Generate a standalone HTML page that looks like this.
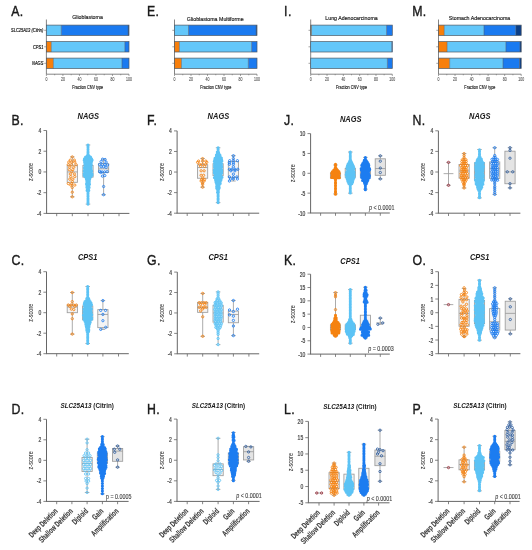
<!DOCTYPE html>
<html><head><meta charset="utf-8"><style>
html,body{margin:0;padding:0;background:#fff;}
svg{display:block;font-family:"Liberation Sans", sans-serif;filter:blur(0.3px);}
</style></head><body>
<svg width="532" height="550" viewBox="0 0 532 550">
<rect width="532" height="550" fill="#fff"/>
<text transform="translate(11.2,16.23) scale(0.8,1)" font-size="15.4" fill="#1a1a1a" stroke="#1a1a1a" stroke-width="0.42" letter-spacing="0.5">A.</text>
<text transform="translate(87.5,19.3) scale(0.85,1)" font-size="6.2" text-anchor="middle" fill="#1a1a1a" stroke="#1a1a1a" stroke-width="0.18">Glioblastoma</text>
<path d="M46.4 19.5L46.4 74.2" stroke="#666" stroke-width="0.8"/>
<path d="M46.4 74.2L129 74.2" stroke="#666" stroke-width="0.8"/>
<path d="M46.4 74.2L46.4 76" stroke="#666" stroke-width="0.6"/>
<path d="M54.66 74.2L54.66 75.3" stroke="#666" stroke-width="0.6"/>
<path d="M62.92 74.2L62.92 76" stroke="#666" stroke-width="0.6"/>
<path d="M71.18 74.2L71.18 75.3" stroke="#666" stroke-width="0.6"/>
<path d="M79.44 74.2L79.44 76" stroke="#666" stroke-width="0.6"/>
<path d="M87.7 74.2L87.7 75.3" stroke="#666" stroke-width="0.6"/>
<path d="M95.96 74.2L95.96 76" stroke="#666" stroke-width="0.6"/>
<path d="M104.22 74.2L104.22 75.3" stroke="#666" stroke-width="0.6"/>
<path d="M112.48 74.2L112.48 76" stroke="#666" stroke-width="0.6"/>
<path d="M120.74 74.2L120.74 75.3" stroke="#666" stroke-width="0.6"/>
<path d="M129 74.2L129 76" stroke="#666" stroke-width="0.6"/>
<text transform="translate(46.4,81.3) scale(0.72,1)" font-size="4.9" text-anchor="middle" fill="#555" stroke="#555" stroke-width="0.1">0</text>
<text transform="translate(62.92,81.3) scale(0.72,1)" font-size="4.9" text-anchor="middle" fill="#555" stroke="#555" stroke-width="0.1">20</text>
<text transform="translate(79.44,81.3) scale(0.72,1)" font-size="4.9" text-anchor="middle" fill="#555" stroke="#555" stroke-width="0.1">40</text>
<text transform="translate(95.96,81.3) scale(0.72,1)" font-size="4.9" text-anchor="middle" fill="#555" stroke="#555" stroke-width="0.1">60</text>
<text transform="translate(112.48,81.3) scale(0.72,1)" font-size="4.9" text-anchor="middle" fill="#555" stroke="#555" stroke-width="0.1">80</text>
<text transform="translate(129,81.3) scale(0.72,1)" font-size="4.9" text-anchor="middle" fill="#555" stroke="#555" stroke-width="0.1">100</text>
<text transform="translate(87.7,88.6) scale(0.76,1)" font-size="5.0" text-anchor="middle" fill="#1a1a1a" stroke="#1a1a1a" stroke-width="0.15">Fraction CNV type</text>
<path d="M44.2 30.3L46.4 30.3" stroke="#666" stroke-width="0.6"/>
<path d="M44.2 46.8L46.4 46.8" stroke="#666" stroke-width="0.6"/>
<path d="M44.2 63.3L46.4 63.3" stroke="#666" stroke-width="0.6"/>
<rect x="46.4" y="25.1" width="14.87" height="10.4" fill="#63c7fa"/>
<rect x="61.27" y="25.1" width="66.91" height="10.4" fill="#1a7af0"/>
<rect x="128.17" y="25.1" width="0.83" height="10.4" fill="#0b3e86"/>
<rect x="46.4" y="25.1" width="82.6" height="10.4" fill="none" stroke="#4f5a66" stroke-width="0.7"/>
<path d="M61.27 25.1L61.27 35.5" stroke="#4f5a66" stroke-width="0.5"/>
<path d="M128.17 25.1L128.17 35.5" stroke="#4f5a66" stroke-width="0.5"/>
<rect x="46.4" y="41.6" width="4.96" height="10.4" fill="#f77f0c"/>
<rect x="51.36" y="41.6" width="73.51" height="10.4" fill="#63c7fa"/>
<rect x="124.87" y="41.6" width="4.13" height="10.4" fill="#1a7af0"/>
<rect x="46.4" y="41.6" width="82.6" height="10.4" fill="none" stroke="#4f5a66" stroke-width="0.7"/>
<path d="M51.36 41.6L51.36 52" stroke="#4f5a66" stroke-width="0.5"/>
<path d="M124.87 41.6L124.87 52" stroke="#4f5a66" stroke-width="0.5"/>
<rect x="46.4" y="58.1" width="7.02" height="10.4" fill="#f77f0c"/>
<rect x="53.42" y="58.1" width="68.56" height="10.4" fill="#63c7fa"/>
<rect x="121.98" y="58.1" width="7.02" height="10.4" fill="#1a7af0"/>
<rect x="46.4" y="58.1" width="82.6" height="10.4" fill="none" stroke="#4f5a66" stroke-width="0.7"/>
<path d="M53.42 58.1L53.42 68.5" stroke="#4f5a66" stroke-width="0.5"/>
<path d="M121.98 58.1L121.98 68.5" stroke="#4f5a66" stroke-width="0.5"/>
<text transform="translate(43.4,32.05) scale(0.8,1)" font-size="5.0" text-anchor="end" font-style="italic" fill="#222" stroke="#222" stroke-width="0.2">SLC25A13 (Citrin)</text>
<text transform="translate(43.4,48.55) scale(0.8,1)" font-size="5.0" text-anchor="end" font-style="italic" fill="#222" stroke="#222" stroke-width="0.2">CPS1</text>
<text transform="translate(43.4,65.05) scale(0.8,1)" font-size="5.0" text-anchor="end" font-style="italic" fill="#222" stroke="#222" stroke-width="0.2">NAGS</text>
<text transform="translate(146.9,16.23) scale(0.8,1)" font-size="15.4" fill="#1a1a1a" stroke="#1a1a1a" stroke-width="0.42" letter-spacing="0.5">E.</text>
<text transform="translate(215.2,20.7) scale(0.85,1)" font-size="6.2" text-anchor="middle" fill="#1a1a1a" stroke="#1a1a1a" stroke-width="0.18">Glioblastoma Multiforme</text>
<path d="M174.5 19.5L174.5 74.2" stroke="#666" stroke-width="0.8"/>
<path d="M174.5 74.2L257 74.2" stroke="#666" stroke-width="0.8"/>
<path d="M174.5 74.2L174.5 76" stroke="#666" stroke-width="0.6"/>
<path d="M182.75 74.2L182.75 75.3" stroke="#666" stroke-width="0.6"/>
<path d="M191 74.2L191 76" stroke="#666" stroke-width="0.6"/>
<path d="M199.25 74.2L199.25 75.3" stroke="#666" stroke-width="0.6"/>
<path d="M207.5 74.2L207.5 76" stroke="#666" stroke-width="0.6"/>
<path d="M215.75 74.2L215.75 75.3" stroke="#666" stroke-width="0.6"/>
<path d="M224 74.2L224 76" stroke="#666" stroke-width="0.6"/>
<path d="M232.25 74.2L232.25 75.3" stroke="#666" stroke-width="0.6"/>
<path d="M240.5 74.2L240.5 76" stroke="#666" stroke-width="0.6"/>
<path d="M248.75 74.2L248.75 75.3" stroke="#666" stroke-width="0.6"/>
<path d="M257 74.2L257 76" stroke="#666" stroke-width="0.6"/>
<text transform="translate(174.5,81.3) scale(0.72,1)" font-size="4.9" text-anchor="middle" fill="#555" stroke="#555" stroke-width="0.1">0</text>
<text transform="translate(191,81.3) scale(0.72,1)" font-size="4.9" text-anchor="middle" fill="#555" stroke="#555" stroke-width="0.1">20</text>
<text transform="translate(207.5,81.3) scale(0.72,1)" font-size="4.9" text-anchor="middle" fill="#555" stroke="#555" stroke-width="0.1">40</text>
<text transform="translate(224,81.3) scale(0.72,1)" font-size="4.9" text-anchor="middle" fill="#555" stroke="#555" stroke-width="0.1">60</text>
<text transform="translate(240.5,81.3) scale(0.72,1)" font-size="4.9" text-anchor="middle" fill="#555" stroke="#555" stroke-width="0.1">80</text>
<text transform="translate(257,81.3) scale(0.72,1)" font-size="4.9" text-anchor="middle" fill="#555" stroke="#555" stroke-width="0.1">100</text>
<text transform="translate(215.75,88.6) scale(0.76,1)" font-size="5.0" text-anchor="middle" fill="#1a1a1a" stroke="#1a1a1a" stroke-width="0.15">Fraction CNV type</text>
<path d="M172.3 30.3L174.5 30.3" stroke="#666" stroke-width="0.6"/>
<path d="M172.3 46.8L174.5 46.8" stroke="#666" stroke-width="0.6"/>
<path d="M172.3 63.3L174.5 63.3" stroke="#666" stroke-width="0.6"/>
<rect x="174.5" y="25.1" width="14.02" height="10.4" fill="#63c7fa"/>
<rect x="188.53" y="25.1" width="67.65" height="10.4" fill="#1a7af0"/>
<rect x="256.18" y="25.1" width="0.82" height="10.4" fill="#0b3e86"/>
<rect x="174.5" y="25.1" width="82.5" height="10.4" fill="none" stroke="#4f5a66" stroke-width="0.7"/>
<path d="M188.53 25.1L188.53 35.5" stroke="#4f5a66" stroke-width="0.5"/>
<path d="M256.18 25.1L256.18 35.5" stroke="#4f5a66" stroke-width="0.5"/>
<rect x="174.5" y="41.6" width="4.95" height="10.4" fill="#f77f0c"/>
<rect x="179.45" y="41.6" width="72.19" height="10.4" fill="#63c7fa"/>
<rect x="251.64" y="41.6" width="5.36" height="10.4" fill="#1a7af0"/>
<rect x="174.5" y="41.6" width="82.5" height="10.4" fill="none" stroke="#4f5a66" stroke-width="0.7"/>
<path d="M179.45 41.6L179.45 52" stroke="#4f5a66" stroke-width="0.5"/>
<path d="M251.64 41.6L251.64 52" stroke="#4f5a66" stroke-width="0.5"/>
<rect x="174.5" y="58.1" width="7.01" height="10.4" fill="#f77f0c"/>
<rect x="181.51" y="58.1" width="66.83" height="10.4" fill="#63c7fa"/>
<rect x="248.34" y="58.1" width="8.66" height="10.4" fill="#1a7af0"/>
<rect x="174.5" y="58.1" width="82.5" height="10.4" fill="none" stroke="#4f5a66" stroke-width="0.7"/>
<path d="M181.51 58.1L181.51 68.5" stroke="#4f5a66" stroke-width="0.5"/>
<path d="M248.34 58.1L248.34 68.5" stroke="#4f5a66" stroke-width="0.5"/>
<text transform="translate(284.1,16.23) scale(0.8,1)" font-size="15.4" fill="#1a1a1a" stroke="#1a1a1a" stroke-width="0.42" letter-spacing="0.5">I.</text>
<text transform="translate(351.5,20.4) scale(0.85,1)" font-size="6.2" text-anchor="middle" fill="#1a1a1a" stroke="#1a1a1a" stroke-width="0.18">Lung Adenocarcinoma</text>
<path d="M310.7 19.5L310.7 74.2" stroke="#666" stroke-width="0.8"/>
<path d="M310.7 74.2L392.3 74.2" stroke="#666" stroke-width="0.8"/>
<path d="M310.7 74.2L310.7 76" stroke="#666" stroke-width="0.6"/>
<path d="M318.86 74.2L318.86 75.3" stroke="#666" stroke-width="0.6"/>
<path d="M327.02 74.2L327.02 76" stroke="#666" stroke-width="0.6"/>
<path d="M335.18 74.2L335.18 75.3" stroke="#666" stroke-width="0.6"/>
<path d="M343.34 74.2L343.34 76" stroke="#666" stroke-width="0.6"/>
<path d="M351.5 74.2L351.5 75.3" stroke="#666" stroke-width="0.6"/>
<path d="M359.66 74.2L359.66 76" stroke="#666" stroke-width="0.6"/>
<path d="M367.82 74.2L367.82 75.3" stroke="#666" stroke-width="0.6"/>
<path d="M375.98 74.2L375.98 76" stroke="#666" stroke-width="0.6"/>
<path d="M384.14 74.2L384.14 75.3" stroke="#666" stroke-width="0.6"/>
<path d="M392.3 74.2L392.3 76" stroke="#666" stroke-width="0.6"/>
<text transform="translate(310.7,81.3) scale(0.72,1)" font-size="4.9" text-anchor="middle" fill="#555" stroke="#555" stroke-width="0.1">0</text>
<text transform="translate(327.02,81.3) scale(0.72,1)" font-size="4.9" text-anchor="middle" fill="#555" stroke="#555" stroke-width="0.1">20</text>
<text transform="translate(343.34,81.3) scale(0.72,1)" font-size="4.9" text-anchor="middle" fill="#555" stroke="#555" stroke-width="0.1">40</text>
<text transform="translate(359.66,81.3) scale(0.72,1)" font-size="4.9" text-anchor="middle" fill="#555" stroke="#555" stroke-width="0.1">60</text>
<text transform="translate(375.98,81.3) scale(0.72,1)" font-size="4.9" text-anchor="middle" fill="#555" stroke="#555" stroke-width="0.1">80</text>
<text transform="translate(392.3,81.3) scale(0.72,1)" font-size="4.9" text-anchor="middle" fill="#555" stroke="#555" stroke-width="0.1">100</text>
<text transform="translate(351.5,88.6) scale(0.76,1)" font-size="5.0" text-anchor="middle" fill="#1a1a1a" stroke="#1a1a1a" stroke-width="0.15">Fraction CNV type</text>
<path d="M308.5 30.3L310.7 30.3" stroke="#666" stroke-width="0.6"/>
<path d="M308.5 46.8L310.7 46.8" stroke="#666" stroke-width="0.6"/>
<path d="M308.5 63.3L310.7 63.3" stroke="#666" stroke-width="0.6"/>
<rect x="310.7" y="25.1" width="0.82" height="10.4" fill="#f77f0c"/>
<rect x="311.52" y="25.1" width="75.07" height="10.4" fill="#63c7fa"/>
<rect x="386.59" y="25.1" width="5.71" height="10.4" fill="#1a7af0"/>
<rect x="310.7" y="25.1" width="81.6" height="10.4" fill="none" stroke="#4f5a66" stroke-width="0.7"/>
<path d="M311.52 25.1L311.52 35.5" stroke="#4f5a66" stroke-width="0.5"/>
<path d="M386.59 25.1L386.59 35.5" stroke="#4f5a66" stroke-width="0.5"/>
<rect x="310.7" y="41.6" width="81.03" height="10.4" fill="#63c7fa"/>
<rect x="391.73" y="41.6" width="0.57" height="10.4" fill="#1a7af0"/>
<rect x="310.7" y="41.6" width="81.6" height="10.4" fill="none" stroke="#4f5a66" stroke-width="0.7"/>
<path d="M391.73 41.6L391.73 52" stroke="#4f5a66" stroke-width="0.5"/>
<rect x="310.7" y="58.1" width="76.7" height="10.4" fill="#63c7fa"/>
<rect x="387.4" y="58.1" width="4.9" height="10.4" fill="#1a7af0"/>
<rect x="310.7" y="58.1" width="81.6" height="10.4" fill="none" stroke="#4f5a66" stroke-width="0.7"/>
<path d="M387.4 58.1L387.4 68.5" stroke="#4f5a66" stroke-width="0.5"/>
<text transform="translate(412.2,16.23) scale(0.8,1)" font-size="15.4" fill="#1a1a1a" stroke="#1a1a1a" stroke-width="0.42" letter-spacing="0.5">M.</text>
<text transform="translate(479.5,20.3) scale(0.85,1)" font-size="6.2" text-anchor="middle" fill="#1a1a1a" stroke="#1a1a1a" stroke-width="0.18">Stomach Adenocarcinoma</text>
<path d="M438.5 19.5L438.5 74.2" stroke="#666" stroke-width="0.8"/>
<path d="M438.5 74.2L521.2 74.2" stroke="#666" stroke-width="0.8"/>
<path d="M438.5 74.2L438.5 76" stroke="#666" stroke-width="0.6"/>
<path d="M446.77 74.2L446.77 75.3" stroke="#666" stroke-width="0.6"/>
<path d="M455.04 74.2L455.04 76" stroke="#666" stroke-width="0.6"/>
<path d="M463.31 74.2L463.31 75.3" stroke="#666" stroke-width="0.6"/>
<path d="M471.58 74.2L471.58 76" stroke="#666" stroke-width="0.6"/>
<path d="M479.85 74.2L479.85 75.3" stroke="#666" stroke-width="0.6"/>
<path d="M488.12 74.2L488.12 76" stroke="#666" stroke-width="0.6"/>
<path d="M496.39 74.2L496.39 75.3" stroke="#666" stroke-width="0.6"/>
<path d="M504.66 74.2L504.66 76" stroke="#666" stroke-width="0.6"/>
<path d="M512.93 74.2L512.93 75.3" stroke="#666" stroke-width="0.6"/>
<path d="M521.2 74.2L521.2 76" stroke="#666" stroke-width="0.6"/>
<text transform="translate(438.5,81.3) scale(0.72,1)" font-size="4.9" text-anchor="middle" fill="#555" stroke="#555" stroke-width="0.1">0</text>
<text transform="translate(455.04,81.3) scale(0.72,1)" font-size="4.9" text-anchor="middle" fill="#555" stroke="#555" stroke-width="0.1">20</text>
<text transform="translate(471.58,81.3) scale(0.72,1)" font-size="4.9" text-anchor="middle" fill="#555" stroke="#555" stroke-width="0.1">40</text>
<text transform="translate(488.12,81.3) scale(0.72,1)" font-size="4.9" text-anchor="middle" fill="#555" stroke="#555" stroke-width="0.1">60</text>
<text transform="translate(504.66,81.3) scale(0.72,1)" font-size="4.9" text-anchor="middle" fill="#555" stroke="#555" stroke-width="0.1">80</text>
<text transform="translate(521.2,81.3) scale(0.72,1)" font-size="4.9" text-anchor="middle" fill="#555" stroke="#555" stroke-width="0.1">100</text>
<text transform="translate(479.85,88.6) scale(0.76,1)" font-size="5.0" text-anchor="middle" fill="#1a1a1a" stroke="#1a1a1a" stroke-width="0.15">Fraction CNV type</text>
<path d="M436.3 30.3L438.5 30.3" stroke="#666" stroke-width="0.6"/>
<path d="M436.3 46.8L438.5 46.8" stroke="#666" stroke-width="0.6"/>
<path d="M436.3 63.3L438.5 63.3" stroke="#666" stroke-width="0.6"/>
<rect x="438.5" y="25.1" width="5.79" height="10.4" fill="#f77f0c"/>
<rect x="444.29" y="25.1" width="39.7" height="10.4" fill="#63c7fa"/>
<rect x="483.99" y="25.1" width="31.84" height="10.4" fill="#1a7af0"/>
<rect x="515.82" y="25.1" width="5.38" height="10.4" fill="#0b3e86"/>
<rect x="438.5" y="25.1" width="82.7" height="10.4" fill="none" stroke="#4f5a66" stroke-width="0.7"/>
<path d="M444.29 25.1L444.29 35.5" stroke="#4f5a66" stroke-width="0.5"/>
<path d="M483.99 25.1L483.99 35.5" stroke="#4f5a66" stroke-width="0.5"/>
<path d="M515.82 25.1L515.82 35.5" stroke="#4f5a66" stroke-width="0.5"/>
<rect x="438.5" y="41.6" width="8.68" height="10.4" fill="#f77f0c"/>
<rect x="447.18" y="41.6" width="58.72" height="10.4" fill="#63c7fa"/>
<rect x="505.9" y="41.6" width="14.06" height="10.4" fill="#1a7af0"/>
<rect x="519.96" y="41.6" width="1.24" height="10.4" fill="#0b3e86"/>
<rect x="438.5" y="41.6" width="82.7" height="10.4" fill="none" stroke="#4f5a66" stroke-width="0.7"/>
<path d="M447.18 41.6L447.18 52" stroke="#4f5a66" stroke-width="0.5"/>
<path d="M505.9 41.6L505.9 52" stroke="#4f5a66" stroke-width="0.5"/>
<path d="M519.96 41.6L519.96 52" stroke="#4f5a66" stroke-width="0.5"/>
<rect x="438.5" y="58.1" width="11.16" height="10.4" fill="#f77f0c"/>
<rect x="449.66" y="58.1" width="53.34" height="10.4" fill="#63c7fa"/>
<rect x="503.01" y="58.1" width="16.54" height="10.4" fill="#1a7af0"/>
<rect x="519.55" y="58.1" width="1.65" height="10.4" fill="#0b3e86"/>
<rect x="438.5" y="58.1" width="82.7" height="10.4" fill="none" stroke="#4f5a66" stroke-width="0.7"/>
<path d="M449.66 58.1L449.66 68.5" stroke="#4f5a66" stroke-width="0.5"/>
<path d="M503.01 58.1L503.01 68.5" stroke="#4f5a66" stroke-width="0.5"/>
<path d="M519.55 58.1L519.55 68.5" stroke="#4f5a66" stroke-width="0.5"/>
<text transform="translate(11.4,125.33) scale(0.8,1)" font-size="15.4" fill="#1a1a1a" stroke="#1a1a1a" stroke-width="0.42" letter-spacing="0.5">B.</text>
<text transform="translate(88.3,118.6) scale(0.85,1)" font-size="8.8" text-anchor="middle" font-weight="bold" font-style="italic" fill="#1a1a1a">NAGS</text>
<path d="M46.6 130.5L46.6 213.4" stroke="#666" stroke-width="1.0"/>
<path d="M46.1 213.4L129.4 213.4" stroke="#666" stroke-width="1.0"/>
<path d="M43.5 130.5L46.6 130.5" stroke="#666" stroke-width="0.8"/>
<text transform="translate(41.4,133) scale(0.72,1)" font-size="7.0" text-anchor="end" fill="#444" stroke="#444" stroke-width="0.22">4</text>
<path d="M43.5 151.22L46.6 151.22" stroke="#666" stroke-width="0.8"/>
<text transform="translate(41.4,153.72) scale(0.72,1)" font-size="7.0" text-anchor="end" fill="#444" stroke="#444" stroke-width="0.22">2</text>
<path d="M43.5 171.95L46.6 171.95" stroke="#666" stroke-width="0.8"/>
<text transform="translate(41.4,174.45) scale(0.72,1)" font-size="7.0" text-anchor="end" fill="#444" stroke="#444" stroke-width="0.22">0</text>
<path d="M43.5 192.68L46.6 192.68" stroke="#666" stroke-width="0.8"/>
<text transform="translate(41.4,195.18) scale(0.72,1)" font-size="7.0" text-anchor="end" fill="#444" stroke="#444" stroke-width="0.22">-2</text>
<path d="M43.5 213.4L46.6 213.4" stroke="#666" stroke-width="0.8"/>
<text transform="translate(41.4,215.9) scale(0.72,1)" font-size="7.0" text-anchor="end" fill="#444" stroke="#444" stroke-width="0.22">-4</text>
<path d="M56.7 213.4L56.7 216.2" stroke="#666" stroke-width="0.8"/>
<path d="M72.3 213.4L72.3 216.2" stroke="#666" stroke-width="0.8"/>
<path d="M88 213.4L88 216.2" stroke="#666" stroke-width="0.8"/>
<path d="M103.6 213.4L103.6 216.2" stroke="#666" stroke-width="0.8"/>
<path d="M119 213.4L119 216.2" stroke="#666" stroke-width="0.8"/>
<text transform="translate(33.3,171.95) rotate(-90) scale(0.84,1)" font-size="6.6" text-anchor="middle" fill="#3a3a3a" stroke="#3a3a3a" stroke-width="0.08">z-score</text>
<rect x="67.2" y="165.21" width="10.2" height="17.1" fill="#f4f4f4" stroke="#9c9c9c" stroke-width="0.85"/>
<path d="M67.2 171.95L77.4 171.95" stroke="#9c9c9c" stroke-width="0.85"/>
<path d="M72.3 156.92L72.3 165.21" stroke="#9c9c9c" stroke-width="0.85"/>
<path d="M72.3 182.31L72.3 196.82" stroke="#9c9c9c" stroke-width="0.85"/>
<path d="M70 156.92L74.6 156.92" stroke="#9c9c9c" stroke-width="0.85"/>
<path d="M70 196.82L74.6 196.82" stroke="#9c9c9c" stroke-width="0.85"/>
<circle cx="72.3" cy="156.9" r="1.15" fill="none" stroke="#f5820f" stroke-width="0.85"/>
<circle cx="70.3" cy="160.1" r="1.15" fill="none" stroke="#f5820f" stroke-width="0.85"/>
<circle cx="74.3" cy="160.1" r="1.15" fill="none" stroke="#f5820f" stroke-width="0.85"/>
<circle cx="68.8" cy="162.1" r="1.15" fill="none" stroke="#f5820f" stroke-width="0.85"/>
<circle cx="71.8" cy="162.1" r="1.15" fill="none" stroke="#f5820f" stroke-width="0.85"/>
<circle cx="74.8" cy="162.1" r="1.15" fill="none" stroke="#f5820f" stroke-width="0.85"/>
<circle cx="68.3" cy="164.7" r="1.15" fill="none" stroke="#f5820f" stroke-width="0.85"/>
<circle cx="71.3" cy="164.7" r="1.15" fill="none" stroke="#f5820f" stroke-width="0.85"/>
<circle cx="76.1" cy="164.7" r="1.15" fill="none" stroke="#f5820f" stroke-width="0.85"/>
<circle cx="69.8" cy="167.2" r="1.15" fill="none" stroke="#f5820f" stroke-width="0.85"/>
<circle cx="73.8" cy="167.2" r="1.15" fill="none" stroke="#f5820f" stroke-width="0.85"/>
<circle cx="69.3" cy="169.7" r="1.15" fill="none" stroke="#f5820f" stroke-width="0.85"/>
<circle cx="72.8" cy="169.7" r="1.15" fill="none" stroke="#f5820f" stroke-width="0.85"/>
<circle cx="71.8" cy="171.6" r="1.15" fill="none" stroke="#f5820f" stroke-width="0.85"/>
<circle cx="70.3" cy="174.0" r="1.15" fill="none" stroke="#f5820f" stroke-width="0.85"/>
<circle cx="74.3" cy="174.0" r="1.15" fill="none" stroke="#f5820f" stroke-width="0.85"/>
<circle cx="70.8" cy="176.6" r="1.15" fill="none" stroke="#f5820f" stroke-width="0.85"/>
<circle cx="74.8" cy="176.6" r="1.15" fill="none" stroke="#f5820f" stroke-width="0.85"/>
<circle cx="69.8" cy="179.2" r="1.15" fill="none" stroke="#f5820f" stroke-width="0.85"/>
<circle cx="72.8" cy="179.2" r="1.15" fill="none" stroke="#f5820f" stroke-width="0.85"/>
<circle cx="72.3" cy="181.6" r="1.15" fill="none" stroke="#f5820f" stroke-width="0.85"/>
<circle cx="68.3" cy="183.6" r="1.15" fill="none" stroke="#f5820f" stroke-width="0.85"/>
<circle cx="71.8" cy="183.6" r="1.15" fill="none" stroke="#f5820f" stroke-width="0.85"/>
<circle cx="70.8" cy="185.1" r="1.15" fill="none" stroke="#f5820f" stroke-width="0.85"/>
<circle cx="74.8" cy="185.1" r="1.15" fill="none" stroke="#f5820f" stroke-width="0.85"/>
<circle cx="72.3" cy="187.5" r="1.15" fill="none" stroke="#f5820f" stroke-width="0.85"/>
<circle cx="72.3" cy="192.2" r="1.15" fill="none" stroke="#f5820f" stroke-width="0.85"/>
<circle cx="72.3" cy="196.8" r="1.15" fill="none" stroke="#f5820f" stroke-width="0.85"/>
<rect x="82.9" y="165.42" width="10.2" height="11.71" fill="#f4f4f4" stroke="#9c9c9c" stroke-width="0.85"/>
<path d="M82.9 171.43L93.1 171.43" stroke="#9c9c9c" stroke-width="0.85"/>
<path d="M88 145.01L88 165.42" stroke="#9c9c9c" stroke-width="0.85"/>
<path d="M88 177.13L88 204.07" stroke="#9c9c9c" stroke-width="0.85"/>
<path d="M85.7 145.01L90.3 145.01" stroke="#9c9c9c" stroke-width="0.85"/>
<path d="M85.7 204.07L90.3 204.07" stroke="#9c9c9c" stroke-width="0.85"/>
<path d="M88.0 145.0h0M88.0 146.7h0M88.0 147.8h0M88.0 149.7h0M88.0 151.0h0M88.0 152.6h0M88.0 153.9h0M87.5 155.6h0M88.9 155.9h0M85.6 157.1h0M87.0 156.9h0M88.7 157.1h0M90.5 157.1h0M84.5 158.7h0M85.9 158.4h0M87.3 158.5h0M88.8 158.9h0M90.2 158.5h0M91.5 158.8h0M84.2 160.3h0M85.9 160.1h0M87.0 160.4h0M88.9 160.3h0M90.4 160.1h0M92.1 160.1h0M84.5 161.8h0M86.1 161.9h0M87.3 161.6h0M88.8 161.9h0M89.9 161.7h0M91.6 161.6h0M84.8 163.4h0M86.4 163.4h0M88.1 163.4h0M89.5 163.2h0M91.1 163.3h0M84.8 164.6h0M86.4 164.9h0M88.2 164.5h0M89.8 164.8h0M91.3 164.5h0M85.0 166.3h0M86.7 166.1h0M88.0 166.0h0M89.3 166.4h0M91.1 166.1h0M84.4 167.8h0M86.2 167.7h0M87.8 167.8h0M89.4 168.0h0M91.1 167.8h0M84.7 169.4h0M86.5 169.1h0M87.8 169.2h0M89.4 169.5h0M91.1 169.0h0M84.2 170.9h0M85.6 170.7h0M87.4 170.7h0M88.9 170.9h0M90.3 170.9h0M91.6 170.9h0M84.8 172.3h0M86.4 172.1h0M87.8 172.5h0M89.5 172.3h0M90.9 172.3h0M84.1 173.7h0M85.4 173.7h0M87.0 173.8h0M88.6 173.6h0M90.2 173.6h0M92.0 173.9h0M84.2 175.5h0M85.6 175.2h0M87.2 175.2h0M89.0 175.4h0M90.3 175.4h0M92.0 175.3h0M85.1 176.6h0M86.7 176.6h0M87.8 176.7h0M89.3 176.7h0M90.9 176.7h0M86.2 178.2h0M87.6 178.2h0M88.7 178.6h0M89.9 178.3h0M86.5 179.6h0M87.8 179.9h0M89.6 179.6h0M86.9 181.4h0M87.9 181.4h0M89.3 181.6h0M86.8 183.0h0M89.2 182.8h0M86.5 184.1h0M88.0 184.3h0M89.5 184.2h0M87.0 185.8h0M88.8 186.1h0M86.9 187.3h0M88.0 187.4h0M89.1 187.5h0M87.3 188.7h0M88.6 189.1h0M87.1 190.5h0M88.8 190.5h0M88.0 192.0h0M88.0 193.5h0M88.0 194.9h0M88.0 196.5h0M88.0 198.2h0M88.0 199.7h0M88.0 200.9h0M88.0 202.4h0M88.0 204.1h0" stroke="#5cc3f5" stroke-width="3.1" stroke-linecap="round"/>
<rect x="98.5" y="163.76" width="10.2" height="8.7" fill="#f4f4f4" stroke="#9c9c9c" stroke-width="0.85"/>
<path d="M98.5 168.84L108.7 168.84" stroke="#9c9c9c" stroke-width="0.85"/>
<path d="M103.6 159.2L103.6 163.76" stroke="#9c9c9c" stroke-width="0.85"/>
<path d="M103.6 172.47L103.6 194.75" stroke="#9c9c9c" stroke-width="0.85"/>
<path d="M101.3 159.2L105.9 159.2" stroke="#9c9c9c" stroke-width="0.85"/>
<path d="M101.3 194.75L105.9 194.75" stroke="#9c9c9c" stroke-width="0.85"/>
<circle cx="102.6" cy="159.2" r="1.15" fill="none" stroke="#1c7cf0" stroke-width="0.85"/>
<circle cx="105.1" cy="159.5" r="1.15" fill="none" stroke="#1c7cf0" stroke-width="0.85"/>
<circle cx="101.1" cy="161.6" r="1.15" fill="none" stroke="#1c7cf0" stroke-width="0.85"/>
<circle cx="106.1" cy="162.1" r="1.15" fill="none" stroke="#1c7cf0" stroke-width="0.85"/>
<circle cx="99.6" cy="164.5" r="1.15" fill="none" stroke="#1c7cf0" stroke-width="0.85"/>
<circle cx="102.3" cy="164.5" r="1.15" fill="none" stroke="#1c7cf0" stroke-width="0.85"/>
<circle cx="104.9" cy="164.5" r="1.15" fill="none" stroke="#1c7cf0" stroke-width="0.85"/>
<circle cx="107.6" cy="164.9" r="1.15" fill="none" stroke="#1c7cf0" stroke-width="0.85"/>
<circle cx="101.1" cy="166.8" r="1.15" fill="none" stroke="#1c7cf0" stroke-width="0.85"/>
<circle cx="103.6" cy="166.8" r="1.15" fill="none" stroke="#1c7cf0" stroke-width="0.85"/>
<circle cx="106.1" cy="167.3" r="1.15" fill="none" stroke="#1c7cf0" stroke-width="0.85"/>
<circle cx="99.6" cy="171.4" r="1.15" fill="none" stroke="#1c7cf0" stroke-width="0.85"/>
<circle cx="102.1" cy="171.9" r="1.15" fill="none" stroke="#1c7cf0" stroke-width="0.85"/>
<circle cx="104.6" cy="171.9" r="1.15" fill="none" stroke="#1c7cf0" stroke-width="0.85"/>
<circle cx="107.1" cy="171.7" r="1.15" fill="none" stroke="#1c7cf0" stroke-width="0.85"/>
<circle cx="100.6" cy="172.5" r="1.15" fill="none" stroke="#1c7cf0" stroke-width="0.85"/>
<circle cx="102.4" cy="176.1" r="1.15" fill="none" stroke="#1c7cf0" stroke-width="0.85"/>
<circle cx="104.8" cy="175.6" r="1.15" fill="none" stroke="#1c7cf0" stroke-width="0.85"/>
<circle cx="103.6" cy="186.5" r="1.15" fill="none" stroke="#1c7cf0" stroke-width="0.85"/>
<circle cx="103.6" cy="194.7" r="1.15" fill="none" stroke="#1c7cf0" stroke-width="0.85"/>
<text transform="translate(146.9,125.33) scale(0.8,1)" font-size="15.4" fill="#1a1a1a" stroke="#1a1a1a" stroke-width="0.42" letter-spacing="0.5">F.</text>
<text transform="translate(218.4,119.3) scale(0.85,1)" font-size="8.8" text-anchor="middle" font-weight="bold" font-style="italic" fill="#1a1a1a">NAGS</text>
<path d="M177.1 130.9L177.1 213.2" stroke="#666" stroke-width="1.0"/>
<path d="M176.6 213.2L259.2 213.2" stroke="#666" stroke-width="1.0"/>
<path d="M174 130.9L177.1 130.9" stroke="#666" stroke-width="0.8"/>
<text transform="translate(171.9,133.4) scale(0.72,1)" font-size="7.0" text-anchor="end" fill="#444" stroke="#444" stroke-width="0.22">4</text>
<path d="M174 151.47L177.1 151.47" stroke="#666" stroke-width="0.8"/>
<text transform="translate(171.9,153.97) scale(0.72,1)" font-size="7.0" text-anchor="end" fill="#444" stroke="#444" stroke-width="0.22">2</text>
<path d="M174 172.05L177.1 172.05" stroke="#666" stroke-width="0.8"/>
<text transform="translate(171.9,174.55) scale(0.72,1)" font-size="7.0" text-anchor="end" fill="#444" stroke="#444" stroke-width="0.22">0</text>
<path d="M174 192.62L177.1 192.62" stroke="#666" stroke-width="0.8"/>
<text transform="translate(171.9,195.12) scale(0.72,1)" font-size="7.0" text-anchor="end" fill="#444" stroke="#444" stroke-width="0.22">-2</text>
<path d="M174 213.2L177.1 213.2" stroke="#666" stroke-width="0.8"/>
<text transform="translate(171.9,215.7) scale(0.72,1)" font-size="7.0" text-anchor="end" fill="#444" stroke="#444" stroke-width="0.22">-4</text>
<path d="M187.2 213.2L187.2 216" stroke="#666" stroke-width="0.8"/>
<path d="M202.6 213.2L202.6 216" stroke="#666" stroke-width="0.8"/>
<path d="M218.1 213.2L218.1 216" stroke="#666" stroke-width="0.8"/>
<path d="M233.4 213.2L233.4 216" stroke="#666" stroke-width="0.8"/>
<path d="M248.9 213.2L248.9 216" stroke="#666" stroke-width="0.8"/>
<text transform="translate(163.8,172.05) rotate(-90) scale(0.84,1)" font-size="6.6" text-anchor="middle" fill="#3a3a3a" stroke="#3a3a3a" stroke-width="0.08">z-score</text>
<rect x="197.5" y="164.75" width="10.2" height="13.48" fill="#f4f4f4" stroke="#9c9c9c" stroke-width="0.85"/>
<path d="M197.5 167.52L207.7 167.52" stroke="#9c9c9c" stroke-width="0.85"/>
<path d="M202.6 158.57L202.6 164.75" stroke="#9c9c9c" stroke-width="0.85"/>
<path d="M202.6 178.22L202.6 187.17" stroke="#9c9c9c" stroke-width="0.85"/>
<path d="M200.3 158.57L204.9 158.57" stroke="#9c9c9c" stroke-width="0.85"/>
<path d="M200.3 187.17L204.9 187.17" stroke="#9c9c9c" stroke-width="0.85"/>
<circle cx="202.6" cy="158.6" r="1.15" fill="none" stroke="#f5820f" stroke-width="0.85"/>
<circle cx="198.6" cy="161.1" r="1.15" fill="none" stroke="#f5820f" stroke-width="0.85"/>
<circle cx="202.6" cy="161.1" r="1.15" fill="none" stroke="#f5820f" stroke-width="0.85"/>
<circle cx="205.8" cy="161.1" r="1.15" fill="none" stroke="#f5820f" stroke-width="0.85"/>
<circle cx="197.6" cy="162.3" r="1.15" fill="none" stroke="#f5820f" stroke-width="0.85"/>
<circle cx="206.8" cy="162.3" r="1.15" fill="none" stroke="#f5820f" stroke-width="0.85"/>
<circle cx="199.6" cy="164.3" r="1.15" fill="none" stroke="#f5820f" stroke-width="0.85"/>
<circle cx="202.6" cy="164.3" r="1.15" fill="none" stroke="#f5820f" stroke-width="0.85"/>
<circle cx="205.6" cy="164.3" r="1.15" fill="none" stroke="#f5820f" stroke-width="0.85"/>
<circle cx="200.6" cy="166.4" r="1.15" fill="none" stroke="#f5820f" stroke-width="0.85"/>
<circle cx="204.6" cy="166.4" r="1.15" fill="none" stroke="#f5820f" stroke-width="0.85"/>
<circle cx="201.1" cy="170.8" r="1.15" fill="none" stroke="#f5820f" stroke-width="0.85"/>
<circle cx="204.1" cy="170.8" r="1.15" fill="none" stroke="#f5820f" stroke-width="0.85"/>
<circle cx="201.1" cy="175.3" r="1.15" fill="none" stroke="#f5820f" stroke-width="0.85"/>
<circle cx="203.6" cy="175.3" r="1.15" fill="none" stroke="#f5820f" stroke-width="0.85"/>
<circle cx="202.6" cy="178.2" r="1.15" fill="none" stroke="#f5820f" stroke-width="0.85"/>
<circle cx="201.6" cy="179.5" r="1.15" fill="none" stroke="#f5820f" stroke-width="0.85"/>
<circle cx="204.6" cy="179.5" r="1.15" fill="none" stroke="#f5820f" stroke-width="0.85"/>
<circle cx="201.1" cy="181.0" r="1.15" fill="none" stroke="#f5820f" stroke-width="0.85"/>
<circle cx="204.1" cy="181.0" r="1.15" fill="none" stroke="#f5820f" stroke-width="0.85"/>
<circle cx="202.6" cy="183.1" r="1.15" fill="none" stroke="#f5820f" stroke-width="0.85"/>
<circle cx="202.6" cy="184.4" r="1.15" fill="none" stroke="#f5820f" stroke-width="0.85"/>
<circle cx="202.6" cy="187.2" r="1.15" fill="none" stroke="#f5820f" stroke-width="0.85"/>
<rect x="213" y="163.72" width="10.2" height="11.93" fill="#f4f4f4" stroke="#9c9c9c" stroke-width="0.85"/>
<path d="M213 171.02L223.2 171.02" stroke="#9c9c9c" stroke-width="0.85"/>
<path d="M218.1 147.77L218.1 163.72" stroke="#9c9c9c" stroke-width="0.85"/>
<path d="M218.1 175.65L218.1 202.6" stroke="#9c9c9c" stroke-width="0.85"/>
<path d="M215.8 147.77L220.4 147.77" stroke="#9c9c9c" stroke-width="0.85"/>
<path d="M215.8 202.6L220.4 202.6" stroke="#9c9c9c" stroke-width="0.85"/>
<path d="M218.1 147.8h0M218.1 149.3h0M218.1 150.8h0M217.3 152.0h0M218.5 152.4h0M217.2 153.9h0M219.0 153.9h0M216.4 155.0h0M218.1 155.4h0M220.0 155.3h0M216.3 156.8h0M217.2 156.6h0M218.7 156.8h0M220.2 156.8h0M215.0 158.4h0M216.5 158.3h0M218.3 158.4h0M219.4 157.9h0M221.4 158.0h0M214.8 159.7h0M216.4 159.6h0M218.1 159.6h0M219.9 159.7h0M221.6 159.7h0M214.3 161.4h0M216.0 160.9h0M217.5 161.3h0M219.0 161.1h0M220.6 161.0h0M221.9 161.1h0M215.4 162.8h0M216.8 162.4h0M217.9 162.5h0M219.7 162.5h0M220.8 162.8h0M214.6 163.8h0M216.1 164.0h0M217.4 164.3h0M218.7 164.3h0M220.3 163.9h0M221.5 163.8h0M214.6 165.6h0M216.6 165.3h0M218.3 165.5h0M219.7 165.8h0M221.4 165.5h0M214.5 167.1h0M216.1 167.1h0M217.3 167.0h0M218.7 167.1h0M220.5 166.9h0M221.7 167.0h0M215.3 168.5h0M216.7 168.3h0M217.9 168.6h0M219.5 168.6h0M220.9 168.6h0M214.2 170.1h0M216.0 169.8h0M217.2 170.2h0M218.9 170.0h0M220.3 169.9h0M221.7 169.9h0M214.5 171.4h0M215.7 171.6h0M217.5 171.5h0M218.7 171.4h0M220.1 171.6h0M221.6 171.3h0M214.3 172.8h0M216.1 172.9h0M217.5 172.9h0M218.8 172.8h0M220.5 173.0h0M221.7 172.9h0M215.0 174.5h0M216.8 174.6h0M218.0 174.3h0M219.7 174.6h0M221.0 174.6h0M215.2 175.8h0M216.5 175.8h0M218.1 175.9h0M219.8 175.9h0M220.9 175.8h0M214.4 177.6h0M215.9 177.4h0M217.2 177.6h0M219.1 177.5h0M220.5 177.5h0M222.0 177.3h0M215.4 178.7h0M216.9 178.8h0M218.3 178.7h0M219.7 179.0h0M221.1 179.1h0M215.6 180.1h0M217.1 180.2h0M219.0 180.5h0M220.9 180.3h0M215.9 181.8h0M217.4 182.0h0M218.7 182.0h0M220.2 181.7h0M216.3 183.2h0M217.6 183.5h0M218.5 183.5h0M220.2 183.4h0M216.9 184.7h0M219.2 184.8h0M216.7 186.4h0M217.9 186.1h0M219.0 186.1h0M216.7 188.0h0M218.0 187.8h0M219.2 187.7h0M217.2 189.3h0M218.8 189.1h0M218.1 190.8h0M217.5 192.2h0M218.4 192.1h0M218.1 193.9h0M218.1 195.3h0M218.1 196.6h0M218.1 198.2h0M218.1 199.6h0M218.1 201.1h0M218.1 202.6h0" stroke="#5cc3f5" stroke-width="3.1" stroke-linecap="round"/>
<rect x="228.3" y="161.45" width="10.2" height="15.95" fill="#f4f4f4" stroke="#9c9c9c" stroke-width="0.85"/>
<path d="M228.3 169.68L238.5 169.68" stroke="#9c9c9c" stroke-width="0.85"/>
<path d="M233.4 155.69L233.4 161.45" stroke="#9c9c9c" stroke-width="0.85"/>
<path d="M233.4 177.4L233.4 181" stroke="#9c9c9c" stroke-width="0.85"/>
<path d="M231.1 155.69L235.7 155.69" stroke="#9c9c9c" stroke-width="0.85"/>
<path d="M231.1 181L235.7 181" stroke="#9c9c9c" stroke-width="0.85"/>
<circle cx="233.4" cy="155.7" r="1.15" fill="none" stroke="#1c7cf0" stroke-width="0.85"/>
<circle cx="233.4" cy="158.6" r="1.15" fill="none" stroke="#1c7cf0" stroke-width="0.85"/>
<circle cx="229.7" cy="160.7" r="1.15" fill="none" stroke="#1c7cf0" stroke-width="0.85"/>
<circle cx="233.4" cy="160.7" r="1.15" fill="none" stroke="#1c7cf0" stroke-width="0.85"/>
<circle cx="237.4" cy="160.7" r="1.15" fill="none" stroke="#1c7cf0" stroke-width="0.85"/>
<circle cx="229.4" cy="162.7" r="1.15" fill="none" stroke="#1c7cf0" stroke-width="0.85"/>
<circle cx="233.4" cy="162.7" r="1.15" fill="none" stroke="#1c7cf0" stroke-width="0.85"/>
<circle cx="229.4" cy="164.3" r="1.15" fill="none" stroke="#1c7cf0" stroke-width="0.85"/>
<circle cx="233.4" cy="164.3" r="1.15" fill="none" stroke="#1c7cf0" stroke-width="0.85"/>
<circle cx="233.4" cy="166.8" r="1.15" fill="none" stroke="#1c7cf0" stroke-width="0.85"/>
<circle cx="229.4" cy="169.3" r="1.15" fill="none" stroke="#1c7cf0" stroke-width="0.85"/>
<circle cx="231.9" cy="169.3" r="1.15" fill="none" stroke="#1c7cf0" stroke-width="0.85"/>
<circle cx="234.9" cy="169.3" r="1.15" fill="none" stroke="#1c7cf0" stroke-width="0.85"/>
<circle cx="237.8" cy="169.3" r="1.15" fill="none" stroke="#1c7cf0" stroke-width="0.85"/>
<circle cx="230.9" cy="170.8" r="1.15" fill="none" stroke="#1c7cf0" stroke-width="0.85"/>
<circle cx="234.9" cy="170.8" r="1.15" fill="none" stroke="#1c7cf0" stroke-width="0.85"/>
<circle cx="233.4" cy="174.1" r="1.15" fill="none" stroke="#1c7cf0" stroke-width="0.85"/>
<circle cx="229.4" cy="176.9" r="1.15" fill="none" stroke="#1c7cf0" stroke-width="0.85"/>
<circle cx="233.4" cy="176.9" r="1.15" fill="none" stroke="#1c7cf0" stroke-width="0.85"/>
<circle cx="236.9" cy="176.9" r="1.15" fill="none" stroke="#1c7cf0" stroke-width="0.85"/>
<circle cx="230.4" cy="179.0" r="1.15" fill="none" stroke="#1c7cf0" stroke-width="0.85"/>
<circle cx="233.4" cy="179.0" r="1.15" fill="none" stroke="#1c7cf0" stroke-width="0.85"/>
<circle cx="237.4" cy="179.0" r="1.15" fill="none" stroke="#1c7cf0" stroke-width="0.85"/>
<circle cx="229.4" cy="181.0" r="1.15" fill="none" stroke="#1c7cf0" stroke-width="0.85"/>
<text transform="translate(283.9,125.33) scale(0.8,1)" font-size="15.4" fill="#1a1a1a" stroke="#1a1a1a" stroke-width="0.42" letter-spacing="0.5">J.</text>
<text transform="translate(350.7,121.7) scale(0.85,1)" font-size="8.8" text-anchor="middle" font-weight="bold" font-style="italic" fill="#1a1a1a">NAGS</text>
<path d="M310.6 133.6L310.6 213" stroke="#666" stroke-width="1.0"/>
<path d="M310.1 213L389.8 213" stroke="#666" stroke-width="1.0"/>
<path d="M307.5 133.6L310.6 133.6" stroke="#666" stroke-width="0.8"/>
<text transform="translate(305.4,136.1) scale(0.72,1)" font-size="7.0" text-anchor="end" fill="#444" stroke="#444" stroke-width="0.22">10</text>
<path d="M307.5 153.45L310.6 153.45" stroke="#666" stroke-width="0.8"/>
<text transform="translate(305.4,155.95) scale(0.72,1)" font-size="7.0" text-anchor="end" fill="#444" stroke="#444" stroke-width="0.22">5</text>
<path d="M307.5 173.3L310.6 173.3" stroke="#666" stroke-width="0.8"/>
<text transform="translate(305.4,175.8) scale(0.72,1)" font-size="7.0" text-anchor="end" fill="#444" stroke="#444" stroke-width="0.22">0</text>
<path d="M307.5 193.15L310.6 193.15" stroke="#666" stroke-width="0.8"/>
<text transform="translate(305.4,195.65) scale(0.72,1)" font-size="7.0" text-anchor="end" fill="#444" stroke="#444" stroke-width="0.22">-5</text>
<path d="M307.5 213L310.6 213" stroke="#666" stroke-width="0.8"/>
<text transform="translate(305.4,215.5) scale(0.72,1)" font-size="7.0" text-anchor="end" fill="#444" stroke="#444" stroke-width="0.22">-10</text>
<path d="M320.6 213L320.6 215.8" stroke="#666" stroke-width="0.8"/>
<path d="M335.5 213L335.5 215.8" stroke="#666" stroke-width="0.8"/>
<path d="M350.3 213L350.3 215.8" stroke="#666" stroke-width="0.8"/>
<path d="M365.4 213L365.4 215.8" stroke="#666" stroke-width="0.8"/>
<path d="M380.3 213L380.3 215.8" stroke="#666" stroke-width="0.8"/>
<text transform="translate(295.2,173.3) rotate(-90) scale(0.84,1)" font-size="6.6" text-anchor="middle" fill="#3a3a3a" stroke="#3a3a3a" stroke-width="0.08">z-score</text>
<rect x="330.4" y="172.9" width="10.2" height="5.16" fill="#f4f4f4" stroke="#9c9c9c" stroke-width="0.85"/>
<path d="M330.4 175.28L340.6 175.28" stroke="#9c9c9c" stroke-width="0.85"/>
<path d="M335.5 164.96L335.5 172.9" stroke="#9c9c9c" stroke-width="0.85"/>
<path d="M335.5 178.06L335.5 193.94" stroke="#9c9c9c" stroke-width="0.85"/>
<path d="M333.2 164.96L337.8 164.96" stroke="#9c9c9c" stroke-width="0.85"/>
<path d="M333.2 193.94L337.8 193.94" stroke="#9c9c9c" stroke-width="0.85"/>
<path d="M335.5 164.2h0M335.5 165.5h0M335.5 167.0h0M335.0 168.6h0M336.4 168.8h0M333.7 170.2h0M335.3 170.0h0M337.4 170.1h0M332.3 171.9h0M333.7 171.6h0M335.6 171.8h0M337.4 171.9h0M338.9 171.5h0M331.7 173.2h0M333.1 173.2h0M335.0 173.4h0M336.1 173.2h0M337.7 173.4h0M339.3 173.4h0M332.1 174.7h0M333.3 174.7h0M335.0 174.6h0M336.0 174.5h0M337.5 174.8h0M338.9 174.7h0M332.1 176.5h0M333.7 176.2h0M335.4 176.3h0M337.3 176.2h0M338.8 176.1h0M331.7 177.5h0M333.5 177.6h0M334.6 177.8h0M336.1 177.7h0M337.4 177.7h0M339.3 177.8h0M335.5 179.4h0M335.5 180.5h0M335.5 182.5h0M335.5 183.7h0M335.5 185.3h0M335.5 186.7h0M335.5 188.3h0M335.5 189.8h0M335.5 191.2h0M335.5 192.6h0M335.5 194.3h0" stroke="#f5820f" stroke-width="3.1" stroke-linecap="round"/>
<rect x="345.2" y="168.54" width="10.2" height="8.73" fill="#f4f4f4" stroke="#9c9c9c" stroke-width="0.85"/>
<path d="M345.2 172.51L355.4 172.51" stroke="#9c9c9c" stroke-width="0.85"/>
<path d="M350.3 152.06L350.3 168.54" stroke="#9c9c9c" stroke-width="0.85"/>
<path d="M350.3 177.27L350.3 193.15" stroke="#9c9c9c" stroke-width="0.85"/>
<path d="M348 152.06L352.6 152.06" stroke="#9c9c9c" stroke-width="0.85"/>
<path d="M348 193.15L352.6 193.15" stroke="#9c9c9c" stroke-width="0.85"/>
<path d="M350.3 152.1h0M350.3 153.7h0M350.3 155.0h0M350.3 156.8h0M350.3 158.0h0M350.3 159.4h0M349.6 161.2h0M350.8 160.9h0M349.0 162.9h0M350.4 162.7h0M351.7 162.6h0M348.1 164.0h0M349.5 163.9h0M351.2 164.1h0M352.5 164.3h0M347.5 165.6h0M348.9 165.5h0M350.1 165.9h0M351.8 165.5h0M353.2 165.7h0M347.0 167.4h0M348.8 167.4h0M350.1 167.2h0M352.2 167.1h0M353.8 167.4h0M347.2 168.8h0M348.8 168.8h0M350.4 168.7h0M351.8 168.8h0M353.8 168.9h0M347.6 170.5h0M348.6 170.3h0M350.1 170.4h0M351.9 170.5h0M353.1 170.0h0M346.8 171.8h0M348.0 172.0h0M349.8 171.5h0M351.2 171.5h0M352.6 171.6h0M354.1 171.9h0M346.6 173.5h0M348.1 173.3h0M349.7 173.5h0M351.0 173.2h0M352.2 173.0h0M353.8 173.3h0M346.2 174.8h0M348.1 174.7h0M349.3 174.8h0M351.2 174.9h0M352.7 174.6h0M354.3 174.7h0M347.1 176.2h0M348.5 176.5h0M350.4 176.1h0M351.9 176.5h0M353.7 176.3h0M346.7 177.6h0M347.9 177.7h0M349.5 178.0h0M350.9 178.0h0M352.4 178.0h0M354.1 177.6h0M347.3 179.3h0M348.4 179.4h0M350.3 179.2h0M352.0 179.3h0M353.3 179.3h0M347.8 181.0h0M349.7 181.0h0M351.2 180.9h0M352.7 180.9h0M348.2 182.3h0M349.7 182.3h0M351.1 182.5h0M352.5 182.3h0M349.0 183.8h0M350.1 183.7h0M351.8 183.7h0M350.3 185.6h0M350.3 186.9h0M350.3 188.5h0M350.3 189.9h0M350.3 191.3h0M350.3 193.0h0" stroke="#5cc3f5" stroke-width="3.1" stroke-linecap="round"/>
<rect x="360.3" y="169.33" width="10.2" height="7.94" fill="#f4f4f4" stroke="#9c9c9c" stroke-width="0.85"/>
<path d="M360.3 172.9L370.5 172.9" stroke="#9c9c9c" stroke-width="0.85"/>
<path d="M365.4 157.42L365.4 169.33" stroke="#9c9c9c" stroke-width="0.85"/>
<path d="M365.4 177.27L365.4 189.18" stroke="#9c9c9c" stroke-width="0.85"/>
<path d="M363.1 157.42L367.7 157.42" stroke="#9c9c9c" stroke-width="0.85"/>
<path d="M363.1 189.18L367.7 189.18" stroke="#9c9c9c" stroke-width="0.85"/>
<path d="M365.4 157.6h0M365.4 159.1h0M364.3 160.4h0M366.4 160.9h0M363.7 162.4h0M364.8 162.0h0M366.1 162.2h0M367.4 162.4h0M362.7 163.6h0M364.1 163.8h0M365.6 163.8h0M367.0 163.6h0M368.3 163.7h0M361.8 165.4h0M363.2 165.1h0M364.9 165.3h0M366.0 165.5h0M367.7 165.2h0M368.8 165.2h0M362.5 166.6h0M364.0 166.9h0M365.6 166.7h0M366.7 166.9h0M368.6 166.6h0M361.2 168.5h0M362.4 168.2h0M363.8 168.2h0M365.6 168.6h0M366.6 168.5h0M368.1 168.2h0M369.5 168.6h0M361.4 170.0h0M362.9 170.1h0M364.4 169.9h0M366.0 169.7h0M367.6 169.8h0M369.7 169.6h0M362.1 171.6h0M363.4 171.5h0M364.9 171.6h0M366.1 171.5h0M367.5 171.5h0M368.8 171.4h0M362.2 173.1h0M363.6 172.7h0M365.3 173.1h0M367.1 172.9h0M368.5 173.1h0M361.7 174.4h0M363.1 174.7h0M364.5 174.7h0M366.3 174.3h0M367.4 174.6h0M368.9 174.5h0M361.6 175.8h0M363.1 176.2h0M364.8 176.2h0M366.4 175.9h0M367.8 176.2h0M369.4 175.8h0M361.7 177.4h0M363.2 177.7h0M364.7 177.3h0M366.3 177.4h0M367.6 177.6h0M369.3 177.7h0M363.0 179.2h0M364.7 179.3h0M366.4 179.1h0M368.0 179.1h0M362.6 180.5h0M364.5 180.7h0M366.3 180.6h0M367.8 180.5h0M364.4 182.3h0M365.2 182.2h0M366.8 182.4h0M364.7 183.4h0M366.3 183.7h0M365.4 185.3h0M365.4 186.7h0M365.4 188.2h0M365.4 189.8h0" stroke="#1c7cf0" stroke-width="3.1" stroke-linecap="round"/>
<rect x="375.2" y="158.81" width="10.2" height="16.48" fill="#e4e4e4" stroke="#9c9c9c" stroke-width="0.85"/>
<path d="M375.2 168.54L385.4 168.54" stroke="#9c9c9c" stroke-width="0.85"/>
<path d="M380.3 155.83L380.3 158.81" stroke="#9c9c9c" stroke-width="0.85"/>
<path d="M380.3 175.28L380.3 178.86" stroke="#9c9c9c" stroke-width="0.85"/>
<path d="M378 155.83L382.6 155.83" stroke="#9c9c9c" stroke-width="0.85"/>
<path d="M378 178.86L382.6 178.86" stroke="#9c9c9c" stroke-width="0.85"/>
<circle cx="380.3" cy="155.8" r="1.15" fill="none" stroke="#2f5d9e" stroke-width="0.85"/>
<circle cx="380.3" cy="161.2" r="1.15" fill="none" stroke="#2f5d9e" stroke-width="0.85"/>
<circle cx="380.3" cy="168.1" r="1.15" fill="none" stroke="#2f5d9e" stroke-width="0.85"/>
<circle cx="380.3" cy="172.5" r="1.15" fill="none" stroke="#2f5d9e" stroke-width="0.85"/>
<circle cx="380.3" cy="178.9" r="1.15" fill="none" stroke="#2f5d9e" stroke-width="0.85"/>
<text transform="translate(369,210.3) scale(0.8,1)" font-size="6.7" fill="#444" stroke="#444" stroke-width="0.12"><tspan font-style="italic">p</tspan> &lt; 0.0001</text>
<text transform="translate(412.4,125.33) scale(0.8,1)" font-size="15.4" fill="#1a1a1a" stroke="#1a1a1a" stroke-width="0.42" letter-spacing="0.5">N.</text>
<text transform="translate(479.8,119.1) scale(0.85,1)" font-size="8.8" text-anchor="middle" font-weight="bold" font-style="italic" fill="#1a1a1a">NAGS</text>
<path d="M438.4 130.8L438.4 213.2" stroke="#666" stroke-width="1.0"/>
<path d="M437.9 213.2L520.4 213.2" stroke="#666" stroke-width="1.0"/>
<path d="M435.3 130.8L438.4 130.8" stroke="#666" stroke-width="0.8"/>
<text transform="translate(433.2,133.3) scale(0.72,1)" font-size="7.0" text-anchor="end" fill="#444" stroke="#444" stroke-width="0.22">4</text>
<path d="M435.3 151.4L438.4 151.4" stroke="#666" stroke-width="0.8"/>
<text transform="translate(433.2,153.9) scale(0.72,1)" font-size="7.0" text-anchor="end" fill="#444" stroke="#444" stroke-width="0.22">2</text>
<path d="M435.3 172L438.4 172" stroke="#666" stroke-width="0.8"/>
<text transform="translate(433.2,174.5) scale(0.72,1)" font-size="7.0" text-anchor="end" fill="#444" stroke="#444" stroke-width="0.22">0</text>
<path d="M435.3 192.6L438.4 192.6" stroke="#666" stroke-width="0.8"/>
<text transform="translate(433.2,195.1) scale(0.72,1)" font-size="7.0" text-anchor="end" fill="#444" stroke="#444" stroke-width="0.22">-2</text>
<path d="M435.3 213.2L438.4 213.2" stroke="#666" stroke-width="0.8"/>
<text transform="translate(433.2,215.7) scale(0.72,1)" font-size="7.0" text-anchor="end" fill="#444" stroke="#444" stroke-width="0.22">-4</text>
<path d="M448.5 213.2L448.5 216" stroke="#666" stroke-width="0.8"/>
<path d="M464.1 213.2L464.1 216" stroke="#666" stroke-width="0.8"/>
<path d="M479.5 213.2L479.5 216" stroke="#666" stroke-width="0.8"/>
<path d="M494.7 213.2L494.7 216" stroke="#666" stroke-width="0.8"/>
<path d="M510 213.2L510 216" stroke="#666" stroke-width="0.8"/>
<text transform="translate(425.1,172) rotate(-90) scale(0.84,1)" font-size="6.6" text-anchor="middle" fill="#3a3a3a" stroke="#3a3a3a" stroke-width="0.08">z-score</text>
<path d="M448.5 162.42L448.5 185.29" stroke="#9c9c9c" stroke-width="0.85"/>
<path d="M446.2 162.42L450.8 162.42" stroke="#9c9c9c" stroke-width="0.85"/>
<path d="M446.2 185.29L450.8 185.29" stroke="#9c9c9c" stroke-width="0.85"/>
<path d="M443.6 173.65L453.4 173.65" stroke="#9c9c9c" stroke-width="0.85"/>
<circle cx="448.5" cy="162.4" r="1.15" fill="none" stroke="#9b2d3a" stroke-width="0.85"/>
<circle cx="448.5" cy="185.3" r="1.15" fill="none" stroke="#9b2d3a" stroke-width="0.85"/>
<rect x="459" y="164.48" width="10.2" height="13.7" fill="#f4f4f4" stroke="#9c9c9c" stroke-width="0.85"/>
<path d="M459 170.97L469.2 170.97" stroke="#9c9c9c" stroke-width="0.85"/>
<path d="M464.1 153.56L464.1 164.48" stroke="#9c9c9c" stroke-width="0.85"/>
<path d="M464.1 178.18L464.1 187.97" stroke="#9c9c9c" stroke-width="0.85"/>
<path d="M461.8 153.56L466.4 153.56" stroke="#9c9c9c" stroke-width="0.85"/>
<path d="M461.8 187.97L466.4 187.97" stroke="#9c9c9c" stroke-width="0.85"/>
<circle cx="464.1" cy="153.6" r="1.15" fill="none" stroke="#f5820f" stroke-width="0.85"/>
<circle cx="464.1" cy="155.7" r="1.15" fill="none" stroke="#f5820f" stroke-width="0.85"/>
<circle cx="464.1" cy="157.8" r="1.15" fill="none" stroke="#f5820f" stroke-width="0.85"/>
<circle cx="462.3" cy="159.8" r="1.15" fill="none" stroke="#f5820f" stroke-width="0.85"/>
<circle cx="463.8" cy="159.6" r="1.15" fill="none" stroke="#f5820f" stroke-width="0.85"/>
<circle cx="465.9" cy="159.7" r="1.15" fill="none" stroke="#f5820f" stroke-width="0.85"/>
<circle cx="461.8" cy="161.6" r="1.15" fill="none" stroke="#f5820f" stroke-width="0.85"/>
<circle cx="464.1" cy="161.7" r="1.15" fill="none" stroke="#f5820f" stroke-width="0.85"/>
<circle cx="466.2" cy="161.4" r="1.15" fill="none" stroke="#f5820f" stroke-width="0.85"/>
<circle cx="461.9" cy="163.9" r="1.15" fill="none" stroke="#f5820f" stroke-width="0.85"/>
<circle cx="463.8" cy="163.5" r="1.15" fill="none" stroke="#f5820f" stroke-width="0.85"/>
<circle cx="464.6" cy="163.5" r="1.15" fill="none" stroke="#f5820f" stroke-width="0.85"/>
<circle cx="466.1" cy="163.5" r="1.15" fill="none" stroke="#f5820f" stroke-width="0.85"/>
<circle cx="460.7" cy="165.6" r="1.15" fill="none" stroke="#f5820f" stroke-width="0.85"/>
<circle cx="463.2" cy="165.9" r="1.15" fill="none" stroke="#f5820f" stroke-width="0.85"/>
<circle cx="465.4" cy="165.6" r="1.15" fill="none" stroke="#f5820f" stroke-width="0.85"/>
<circle cx="467.4" cy="165.7" r="1.15" fill="none" stroke="#f5820f" stroke-width="0.85"/>
<circle cx="461.9" cy="167.9" r="1.15" fill="none" stroke="#f5820f" stroke-width="0.85"/>
<circle cx="463.9" cy="168.0" r="1.15" fill="none" stroke="#f5820f" stroke-width="0.85"/>
<circle cx="464.5" cy="167.6" r="1.15" fill="none" stroke="#f5820f" stroke-width="0.85"/>
<circle cx="466.2" cy="167.6" r="1.15" fill="none" stroke="#f5820f" stroke-width="0.85"/>
<circle cx="461.5" cy="169.7" r="1.15" fill="none" stroke="#f5820f" stroke-width="0.85"/>
<circle cx="463.3" cy="169.5" r="1.15" fill="none" stroke="#f5820f" stroke-width="0.85"/>
<circle cx="464.9" cy="169.7" r="1.15" fill="none" stroke="#f5820f" stroke-width="0.85"/>
<circle cx="466.8" cy="169.9" r="1.15" fill="none" stroke="#f5820f" stroke-width="0.85"/>
<circle cx="461.9" cy="171.8" r="1.15" fill="none" stroke="#f5820f" stroke-width="0.85"/>
<circle cx="463.9" cy="171.6" r="1.15" fill="none" stroke="#f5820f" stroke-width="0.85"/>
<circle cx="464.7" cy="171.5" r="1.15" fill="none" stroke="#f5820f" stroke-width="0.85"/>
<circle cx="466.2" cy="171.9" r="1.15" fill="none" stroke="#f5820f" stroke-width="0.85"/>
<circle cx="461.0" cy="173.7" r="1.15" fill="none" stroke="#f5820f" stroke-width="0.85"/>
<circle cx="462.8" cy="173.6" r="1.15" fill="none" stroke="#f5820f" stroke-width="0.85"/>
<circle cx="465.4" cy="173.6" r="1.15" fill="none" stroke="#f5820f" stroke-width="0.85"/>
<circle cx="467.4" cy="173.6" r="1.15" fill="none" stroke="#f5820f" stroke-width="0.85"/>
<circle cx="461.2" cy="176.0" r="1.15" fill="none" stroke="#f5820f" stroke-width="0.85"/>
<circle cx="463.5" cy="175.8" r="1.15" fill="none" stroke="#f5820f" stroke-width="0.85"/>
<circle cx="464.5" cy="176.0" r="1.15" fill="none" stroke="#f5820f" stroke-width="0.85"/>
<circle cx="467.0" cy="175.9" r="1.15" fill="none" stroke="#f5820f" stroke-width="0.85"/>
<circle cx="461.1" cy="177.6" r="1.15" fill="none" stroke="#f5820f" stroke-width="0.85"/>
<circle cx="462.9" cy="177.6" r="1.15" fill="none" stroke="#f5820f" stroke-width="0.85"/>
<circle cx="465.4" cy="177.9" r="1.15" fill="none" stroke="#f5820f" stroke-width="0.85"/>
<circle cx="467.5" cy="177.8" r="1.15" fill="none" stroke="#f5820f" stroke-width="0.85"/>
<circle cx="461.9" cy="179.8" r="1.15" fill="none" stroke="#f5820f" stroke-width="0.85"/>
<circle cx="463.5" cy="179.7" r="1.15" fill="none" stroke="#f5820f" stroke-width="0.85"/>
<circle cx="464.6" cy="179.7" r="1.15" fill="none" stroke="#f5820f" stroke-width="0.85"/>
<circle cx="466.1" cy="180.1" r="1.15" fill="none" stroke="#f5820f" stroke-width="0.85"/>
<circle cx="462.9" cy="182.1" r="1.15" fill="none" stroke="#f5820f" stroke-width="0.85"/>
<circle cx="465.2" cy="181.8" r="1.15" fill="none" stroke="#f5820f" stroke-width="0.85"/>
<circle cx="463.8" cy="184.1" r="1.15" fill="none" stroke="#f5820f" stroke-width="0.85"/>
<circle cx="464.2" cy="183.9" r="1.15" fill="none" stroke="#f5820f" stroke-width="0.85"/>
<circle cx="464.1" cy="185.7" r="1.15" fill="none" stroke="#f5820f" stroke-width="0.85"/>
<circle cx="464.1" cy="188.0" r="1.15" fill="none" stroke="#f5820f" stroke-width="0.85"/>
<rect x="474.4" y="162.73" width="10.2" height="17.51" fill="#f4f4f4" stroke="#9c9c9c" stroke-width="0.85"/>
<path d="M474.4 172L484.6 172" stroke="#9c9c9c" stroke-width="0.85"/>
<path d="M479.5 149.55L479.5 162.73" stroke="#9c9c9c" stroke-width="0.85"/>
<path d="M479.5 180.24L479.5 197.85" stroke="#9c9c9c" stroke-width="0.85"/>
<path d="M477.2 149.55L481.8 149.55" stroke="#9c9c9c" stroke-width="0.85"/>
<path d="M477.2 197.85L481.8 197.85" stroke="#9c9c9c" stroke-width="0.85"/>
<path d="M479.5 149.9h0M479.5 151.5h0M479.5 153.0h0M479.5 154.4h0M479.5 155.6h0M479.0 157.2h0M480.1 157.2h0M477.9 159.0h0M479.5 158.8h0M481.3 159.0h0M477.2 160.3h0M479.0 160.3h0M480.3 160.6h0M481.5 160.3h0M477.0 161.7h0M478.6 162.0h0M480.5 162.0h0M482.2 161.9h0M475.8 163.3h0M477.2 163.2h0M478.8 163.5h0M480.5 163.2h0M481.8 163.4h0M483.3 163.1h0M476.3 164.9h0M478.0 165.0h0M479.4 165.0h0M481.2 164.9h0M482.6 165.0h0M475.7 166.5h0M477.4 166.6h0M478.7 166.3h0M480.4 166.2h0M481.8 166.5h0M483.5 166.4h0M475.9 167.7h0M477.3 167.9h0M478.8 167.8h0M480.3 168.0h0M481.5 167.9h0M483.2 167.6h0M476.0 169.2h0M477.1 169.4h0M478.6 169.3h0M480.0 169.1h0M481.5 169.2h0M482.9 169.2h0M476.1 170.7h0M477.3 170.9h0M478.6 171.0h0M480.1 170.8h0M481.4 170.8h0M482.8 171.0h0M476.4 172.4h0M478.0 172.3h0M479.7 172.3h0M480.9 172.5h0M482.5 172.5h0M476.3 173.6h0M478.1 173.8h0M479.6 174.0h0M481.3 173.7h0M482.6 173.6h0M475.8 175.4h0M477.6 175.4h0M478.8 175.2h0M480.1 175.2h0M481.6 175.5h0M483.2 175.5h0M476.2 176.7h0M477.3 176.8h0M479.0 176.7h0M480.1 176.8h0M481.4 176.8h0M483.0 176.9h0M476.5 178.4h0M477.9 178.0h0M479.7 178.2h0M481.0 178.4h0M482.5 178.2h0M475.5 179.7h0M477.2 179.8h0M478.8 179.8h0M480.4 179.6h0M481.9 179.7h0M483.4 179.7h0M475.9 181.3h0M477.5 181.4h0M478.7 181.1h0M480.4 181.3h0M481.6 181.5h0M483.1 181.0h0M476.2 182.8h0M477.8 182.8h0M479.4 183.0h0M481.4 182.7h0M482.8 182.6h0M476.2 184.1h0M477.4 184.4h0M479.0 184.2h0M480.0 184.5h0M481.6 184.3h0M482.9 184.3h0M477.5 185.8h0M478.6 185.6h0M480.4 185.9h0M481.4 185.9h0M477.6 187.5h0M478.6 187.4h0M480.1 187.4h0M481.8 187.3h0M477.9 188.6h0M479.3 189.0h0M480.9 188.8h0M478.7 190.3h0M480.0 190.1h0M479.5 191.5h0M479.5 193.4h0M479.5 194.6h0M479.5 196.2h0M479.5 197.8h0" stroke="#5cc3f5" stroke-width="3.1" stroke-linecap="round"/>
<rect x="489.6" y="161.91" width="10.2" height="16.48" fill="#f4f4f4" stroke="#9c9c9c" stroke-width="0.85"/>
<path d="M489.6 168.4L499.8 168.4" stroke="#9c9c9c" stroke-width="0.85"/>
<path d="M494.7 147.69L494.7 161.91" stroke="#9c9c9c" stroke-width="0.85"/>
<path d="M494.7 178.39L494.7 194.35" stroke="#9c9c9c" stroke-width="0.85"/>
<path d="M492.4 147.69L497 147.69" stroke="#9c9c9c" stroke-width="0.85"/>
<path d="M492.4 194.35L497 194.35" stroke="#9c9c9c" stroke-width="0.85"/>
<circle cx="494.7" cy="155.5" r="1.15" fill="none" stroke="#1c7cf0" stroke-width="0.85"/>
<circle cx="494.0" cy="157.6" r="1.15" fill="none" stroke="#1c7cf0" stroke-width="0.85"/>
<circle cx="495.4" cy="157.5" r="1.15" fill="none" stroke="#1c7cf0" stroke-width="0.85"/>
<circle cx="492.0" cy="159.4" r="1.15" fill="none" stroke="#1c7cf0" stroke-width="0.85"/>
<circle cx="494.0" cy="159.6" r="1.15" fill="none" stroke="#1c7cf0" stroke-width="0.85"/>
<circle cx="495.7" cy="159.6" r="1.15" fill="none" stroke="#1c7cf0" stroke-width="0.85"/>
<circle cx="497.5" cy="159.5" r="1.15" fill="none" stroke="#1c7cf0" stroke-width="0.85"/>
<circle cx="492.4" cy="161.8" r="1.15" fill="none" stroke="#1c7cf0" stroke-width="0.85"/>
<circle cx="494.1" cy="161.5" r="1.15" fill="none" stroke="#1c7cf0" stroke-width="0.85"/>
<circle cx="495.2" cy="161.6" r="1.15" fill="none" stroke="#1c7cf0" stroke-width="0.85"/>
<circle cx="497.1" cy="161.5" r="1.15" fill="none" stroke="#1c7cf0" stroke-width="0.85"/>
<circle cx="491.7" cy="163.5" r="1.15" fill="none" stroke="#1c7cf0" stroke-width="0.85"/>
<circle cx="493.5" cy="163.5" r="1.15" fill="none" stroke="#1c7cf0" stroke-width="0.85"/>
<circle cx="495.6" cy="163.7" r="1.15" fill="none" stroke="#1c7cf0" stroke-width="0.85"/>
<circle cx="497.8" cy="163.9" r="1.15" fill="none" stroke="#1c7cf0" stroke-width="0.85"/>
<circle cx="492.1" cy="165.9" r="1.15" fill="none" stroke="#1c7cf0" stroke-width="0.85"/>
<circle cx="494.0" cy="165.9" r="1.15" fill="none" stroke="#1c7cf0" stroke-width="0.85"/>
<circle cx="495.4" cy="165.6" r="1.15" fill="none" stroke="#1c7cf0" stroke-width="0.85"/>
<circle cx="496.9" cy="165.8" r="1.15" fill="none" stroke="#1c7cf0" stroke-width="0.85"/>
<circle cx="492.1" cy="168.0" r="1.15" fill="none" stroke="#1c7cf0" stroke-width="0.85"/>
<circle cx="493.6" cy="167.9" r="1.15" fill="none" stroke="#1c7cf0" stroke-width="0.85"/>
<circle cx="495.5" cy="167.8" r="1.15" fill="none" stroke="#1c7cf0" stroke-width="0.85"/>
<circle cx="497.3" cy="167.6" r="1.15" fill="none" stroke="#1c7cf0" stroke-width="0.85"/>
<circle cx="492.1" cy="169.8" r="1.15" fill="none" stroke="#1c7cf0" stroke-width="0.85"/>
<circle cx="494.3" cy="169.6" r="1.15" fill="none" stroke="#1c7cf0" stroke-width="0.85"/>
<circle cx="495.4" cy="169.9" r="1.15" fill="none" stroke="#1c7cf0" stroke-width="0.85"/>
<circle cx="497.4" cy="169.8" r="1.15" fill="none" stroke="#1c7cf0" stroke-width="0.85"/>
<circle cx="491.7" cy="171.9" r="1.15" fill="none" stroke="#1c7cf0" stroke-width="0.85"/>
<circle cx="493.7" cy="172.0" r="1.15" fill="none" stroke="#1c7cf0" stroke-width="0.85"/>
<circle cx="495.5" cy="171.7" r="1.15" fill="none" stroke="#1c7cf0" stroke-width="0.85"/>
<circle cx="497.5" cy="171.7" r="1.15" fill="none" stroke="#1c7cf0" stroke-width="0.85"/>
<circle cx="492.1" cy="173.9" r="1.15" fill="none" stroke="#1c7cf0" stroke-width="0.85"/>
<circle cx="494.1" cy="173.7" r="1.15" fill="none" stroke="#1c7cf0" stroke-width="0.85"/>
<circle cx="495.3" cy="174.1" r="1.15" fill="none" stroke="#1c7cf0" stroke-width="0.85"/>
<circle cx="497.4" cy="173.9" r="1.15" fill="none" stroke="#1c7cf0" stroke-width="0.85"/>
<circle cx="491.8" cy="175.8" r="1.15" fill="none" stroke="#1c7cf0" stroke-width="0.85"/>
<circle cx="493.7" cy="175.9" r="1.15" fill="none" stroke="#1c7cf0" stroke-width="0.85"/>
<circle cx="495.4" cy="176.1" r="1.15" fill="none" stroke="#1c7cf0" stroke-width="0.85"/>
<circle cx="497.3" cy="175.8" r="1.15" fill="none" stroke="#1c7cf0" stroke-width="0.85"/>
<circle cx="492.3" cy="177.9" r="1.15" fill="none" stroke="#1c7cf0" stroke-width="0.85"/>
<circle cx="494.1" cy="178.0" r="1.15" fill="none" stroke="#1c7cf0" stroke-width="0.85"/>
<circle cx="495.0" cy="178.2" r="1.15" fill="none" stroke="#1c7cf0" stroke-width="0.85"/>
<circle cx="497.0" cy="178.2" r="1.15" fill="none" stroke="#1c7cf0" stroke-width="0.85"/>
<circle cx="491.8" cy="180.0" r="1.15" fill="none" stroke="#1c7cf0" stroke-width="0.85"/>
<circle cx="493.8" cy="179.9" r="1.15" fill="none" stroke="#1c7cf0" stroke-width="0.85"/>
<circle cx="495.8" cy="179.9" r="1.15" fill="none" stroke="#1c7cf0" stroke-width="0.85"/>
<circle cx="497.6" cy="180.2" r="1.15" fill="none" stroke="#1c7cf0" stroke-width="0.85"/>
<circle cx="494.7" cy="181.9" r="1.15" fill="none" stroke="#1c7cf0" stroke-width="0.85"/>
<circle cx="494.7" cy="183.9" r="1.15" fill="none" stroke="#1c7cf0" stroke-width="0.85"/>
<circle cx="494.7" cy="186.4" r="1.15" fill="none" stroke="#1c7cf0" stroke-width="0.85"/>
<circle cx="494.7" cy="188.1" r="1.15" fill="none" stroke="#1c7cf0" stroke-width="0.85"/>
<circle cx="494.7" cy="190.2" r="1.15" fill="none" stroke="#1c7cf0" stroke-width="0.85"/>
<circle cx="494.7" cy="192.4" r="1.15" fill="none" stroke="#1c7cf0" stroke-width="0.85"/>
<circle cx="494.7" cy="194.4" r="1.15" fill="none" stroke="#1c7cf0" stroke-width="0.85"/>
<circle cx="494.7" cy="147.7" r="1.15" fill="none" stroke="#1c7cf0" stroke-width="0.85"/>
<rect x="504.9" y="151.19" width="10.2" height="32.55" fill="#e4e4e4" stroke="#9c9c9c" stroke-width="0.85"/>
<path d="M504.9 171.9L515.1 171.9" stroke="#9c9c9c" stroke-width="0.85"/>
<path d="M510 147.69L510 151.19" stroke="#9c9c9c" stroke-width="0.85"/>
<path d="M510 183.74L510 187.86" stroke="#9c9c9c" stroke-width="0.85"/>
<path d="M507.7 147.69L512.3 147.69" stroke="#9c9c9c" stroke-width="0.85"/>
<path d="M507.7 187.86L512.3 187.86" stroke="#9c9c9c" stroke-width="0.85"/>
<circle cx="510.0" cy="147.7" r="1.15" fill="none" stroke="#2f5d9e" stroke-width="0.85"/>
<circle cx="510.0" cy="150.4" r="1.15" fill="none" stroke="#2f5d9e" stroke-width="0.85"/>
<circle cx="510.0" cy="158.2" r="1.15" fill="none" stroke="#2f5d9e" stroke-width="0.85"/>
<circle cx="507.3" cy="171.8" r="1.15" fill="none" stroke="#2f5d9e" stroke-width="0.85"/>
<circle cx="512.7" cy="171.8" r="1.15" fill="none" stroke="#2f5d9e" stroke-width="0.85"/>
<circle cx="510.0" cy="183.7" r="1.15" fill="none" stroke="#2f5d9e" stroke-width="0.85"/>
<circle cx="510.0" cy="187.9" r="1.15" fill="none" stroke="#2f5d9e" stroke-width="0.85"/>
<text transform="translate(11.4,264.53) scale(0.8,1)" font-size="15.4" fill="#1a1a1a" stroke="#1a1a1a" stroke-width="0.42" letter-spacing="0.5">C.</text>
<text transform="translate(87.7,260.1) scale(0.85,1)" font-size="8.8" text-anchor="middle" font-weight="bold" font-style="italic" fill="#1a1a1a">CPS1</text>
<path d="M46.5 271.7L46.5 353.7" stroke="#666" stroke-width="1.0"/>
<path d="M46 353.7L128.8 353.7" stroke="#666" stroke-width="1.0"/>
<path d="M43.4 271.7L46.5 271.7" stroke="#666" stroke-width="0.8"/>
<text transform="translate(41.3,274.2) scale(0.72,1)" font-size="7.0" text-anchor="end" fill="#444" stroke="#444" stroke-width="0.22">4</text>
<path d="M43.4 292.2L46.5 292.2" stroke="#666" stroke-width="0.8"/>
<text transform="translate(41.3,294.7) scale(0.72,1)" font-size="7.0" text-anchor="end" fill="#444" stroke="#444" stroke-width="0.22">2</text>
<path d="M43.4 312.7L46.5 312.7" stroke="#666" stroke-width="0.8"/>
<text transform="translate(41.3,315.2) scale(0.72,1)" font-size="7.0" text-anchor="end" fill="#444" stroke="#444" stroke-width="0.22">0</text>
<path d="M43.4 333.2L46.5 333.2" stroke="#666" stroke-width="0.8"/>
<text transform="translate(41.3,335.7) scale(0.72,1)" font-size="7.0" text-anchor="end" fill="#444" stroke="#444" stroke-width="0.22">-2</text>
<path d="M43.4 353.7L46.5 353.7" stroke="#666" stroke-width="0.8"/>
<text transform="translate(41.3,356.2) scale(0.72,1)" font-size="7.0" text-anchor="end" fill="#444" stroke="#444" stroke-width="0.22">-4</text>
<path d="M56.7 353.7L56.7 356.5" stroke="#666" stroke-width="0.8"/>
<path d="M72.3 353.7L72.3 356.5" stroke="#666" stroke-width="0.8"/>
<path d="M87.7 353.7L87.7 356.5" stroke="#666" stroke-width="0.8"/>
<path d="M102.9 353.7L102.9 356.5" stroke="#666" stroke-width="0.8"/>
<path d="M118.5 353.7L118.5 356.5" stroke="#666" stroke-width="0.8"/>
<text transform="translate(33.2,312.7) rotate(-90) scale(0.84,1)" font-size="6.6" text-anchor="middle" fill="#3a3a3a" stroke="#3a3a3a" stroke-width="0.08">z-score</text>
<rect x="67.2" y="305.01" width="10.2" height="7.69" fill="#f4f4f4" stroke="#9c9c9c" stroke-width="0.85"/>
<path d="M67.2 307.06L77.4 307.06" stroke="#9c9c9c" stroke-width="0.85"/>
<path d="M72.3 292.51L72.3 305.01" stroke="#9c9c9c" stroke-width="0.85"/>
<path d="M72.3 312.7L72.3 334.12" stroke="#9c9c9c" stroke-width="0.85"/>
<path d="M70 292.51L74.6 292.51" stroke="#9c9c9c" stroke-width="0.85"/>
<path d="M70 334.12L74.6 334.12" stroke="#9c9c9c" stroke-width="0.85"/>
<circle cx="72.3" cy="292.5" r="1.15" fill="none" stroke="#f5820f" stroke-width="0.85"/>
<circle cx="72.3" cy="301.6" r="1.15" fill="none" stroke="#f5820f" stroke-width="0.85"/>
<circle cx="68.3" cy="305.0" r="1.15" fill="none" stroke="#f5820f" stroke-width="0.85"/>
<circle cx="71.0" cy="305.0" r="1.15" fill="none" stroke="#f5820f" stroke-width="0.85"/>
<circle cx="73.6" cy="305.0" r="1.15" fill="none" stroke="#f5820f" stroke-width="0.85"/>
<circle cx="76.3" cy="305.0" r="1.15" fill="none" stroke="#f5820f" stroke-width="0.85"/>
<circle cx="69.8" cy="306.3" r="1.15" fill="none" stroke="#f5820f" stroke-width="0.85"/>
<circle cx="74.8" cy="306.3" r="1.15" fill="none" stroke="#f5820f" stroke-width="0.85"/>
<circle cx="71.3" cy="309.1" r="1.15" fill="none" stroke="#f5820f" stroke-width="0.85"/>
<circle cx="73.8" cy="309.6" r="1.15" fill="none" stroke="#f5820f" stroke-width="0.85"/>
<circle cx="72.3" cy="313.9" r="1.15" fill="none" stroke="#f5820f" stroke-width="0.85"/>
<circle cx="72.3" cy="318.7" r="1.15" fill="none" stroke="#f5820f" stroke-width="0.85"/>
<circle cx="72.3" cy="334.1" r="1.15" fill="none" stroke="#f5820f" stroke-width="0.85"/>
<rect x="82.6" y="305.94" width="10.2" height="13.94" fill="#f4f4f4" stroke="#9c9c9c" stroke-width="0.85"/>
<path d="M82.6 312.7L92.8 312.7" stroke="#9c9c9c" stroke-width="0.85"/>
<path d="M87.7 286.56L87.7 305.94" stroke="#9c9c9c" stroke-width="0.85"/>
<path d="M87.7 319.88L87.7 343.45" stroke="#9c9c9c" stroke-width="0.85"/>
<path d="M85.4 286.56L90 286.56" stroke="#9c9c9c" stroke-width="0.85"/>
<path d="M85.4 343.45L90 343.45" stroke="#9c9c9c" stroke-width="0.85"/>
<path d="M87.7 286.6h0M87.7 288.2h0M87.7 289.4h0M87.7 291.1h0M87.7 292.7h0M87.7 294.2h0M87.7 295.7h0M87.7 297.0h0M86.8 298.6h0M88.6 298.6h0M86.6 300.2h0M87.6 300.2h0M89.0 299.8h0M85.0 301.5h0M86.9 301.4h0M88.8 301.4h0M90.1 301.6h0M84.5 303.0h0M85.7 303.2h0M87.1 303.1h0M88.6 303.2h0M89.7 302.8h0M91.0 303.1h0M84.2 304.3h0M85.3 304.5h0M86.9 304.6h0M88.4 304.4h0M89.8 304.3h0M91.5 304.7h0M84.5 306.2h0M86.4 305.9h0M87.6 306.1h0M89.1 306.0h0M90.9 305.8h0M84.8 307.5h0M86.4 307.5h0M87.9 307.4h0M89.3 307.7h0M90.7 307.7h0M83.8 309.2h0M85.4 309.0h0M86.7 309.0h0M88.4 309.1h0M90.2 309.0h0M91.4 308.9h0M84.5 310.6h0M86.1 310.4h0M87.6 310.7h0M89.4 310.5h0M90.7 310.6h0M84.0 312.0h0M85.5 312.0h0M86.9 312.2h0M88.6 312.1h0M89.7 312.2h0M91.1 312.1h0M84.4 313.5h0M85.5 313.7h0M87.0 313.3h0M88.2 313.3h0M89.6 313.6h0M91.1 313.6h0M83.4 315.2h0M85.5 314.9h0M86.8 315.1h0M88.7 315.1h0M90.1 315.0h0M91.7 314.8h0M84.6 316.6h0M86.2 316.3h0M87.5 316.3h0M89.2 316.6h0M90.9 316.7h0M84.1 317.8h0M85.5 317.8h0M87.1 318.2h0M88.4 318.2h0M90.1 318.1h0M91.7 317.8h0M84.1 319.5h0M85.3 319.5h0M86.7 319.6h0M88.7 319.6h0M90.2 319.4h0M91.6 319.3h0M85.0 321.2h0M86.1 321.2h0M87.9 320.8h0M89.1 321.1h0M90.2 320.8h0M85.5 322.3h0M87.1 322.6h0M88.4 322.6h0M90.2 322.3h0M85.8 324.0h0M87.5 324.0h0M89.6 323.8h0M86.1 325.5h0M87.5 325.4h0M89.1 325.5h0M86.4 326.8h0M87.7 327.2h0M89.0 326.8h0M86.7 328.5h0M88.6 328.5h0M86.8 329.9h0M88.8 329.9h0M87.1 331.6h0M88.6 331.5h0M87.7 333.1h0M87.7 334.3h0M87.7 335.9h0M87.7 337.2h0M87.7 338.8h0M87.7 340.3h0M87.7 341.7h0M87.7 343.4h0" stroke="#5cc3f5" stroke-width="3.1" stroke-linecap="round"/>
<rect x="97.8" y="309.62" width="10.2" height="18.04" fill="#f4f4f4" stroke="#9c9c9c" stroke-width="0.85"/>
<path d="M97.8 314.44L108 314.44" stroke="#9c9c9c" stroke-width="0.85"/>
<path d="M102.9 300.61L102.9 309.62" stroke="#9c9c9c" stroke-width="0.85"/>
<path d="M102.9 327.66L102.9 329.41" stroke="#9c9c9c" stroke-width="0.85"/>
<path d="M100.6 300.61L105.2 300.61" stroke="#9c9c9c" stroke-width="0.85"/>
<path d="M100.6 329.41L105.2 329.41" stroke="#9c9c9c" stroke-width="0.85"/>
<circle cx="102.9" cy="300.6" r="1.15" fill="none" stroke="#1c7cf0" stroke-width="0.85"/>
<circle cx="100.7" cy="310.4" r="1.15" fill="none" stroke="#1c7cf0" stroke-width="0.85"/>
<circle cx="105.5" cy="310.4" r="1.15" fill="none" stroke="#1c7cf0" stroke-width="0.85"/>
<circle cx="102.9" cy="314.4" r="1.15" fill="none" stroke="#1c7cf0" stroke-width="0.85"/>
<circle cx="102.9" cy="320.7" r="1.15" fill="none" stroke="#1c7cf0" stroke-width="0.85"/>
<circle cx="105.7" cy="327.3" r="1.15" fill="none" stroke="#1c7cf0" stroke-width="0.85"/>
<circle cx="100.7" cy="329.4" r="1.15" fill="none" stroke="#1c7cf0" stroke-width="0.85"/>
<text transform="translate(146.9,264.53) scale(0.8,1)" font-size="15.4" fill="#1a1a1a" stroke="#1a1a1a" stroke-width="0.42" letter-spacing="0.5">G.</text>
<text transform="translate(218.2,260.4) scale(0.85,1)" font-size="8.8" text-anchor="middle" font-weight="bold" font-style="italic" fill="#1a1a1a">CPS1</text>
<path d="M177.3 272.1L177.3 353.8" stroke="#666" stroke-width="1.0"/>
<path d="M176.8 353.8L259.2 353.8" stroke="#666" stroke-width="1.0"/>
<path d="M174.2 272.1L177.3 272.1" stroke="#666" stroke-width="0.8"/>
<text transform="translate(172.1,274.6) scale(0.72,1)" font-size="7.0" text-anchor="end" fill="#444" stroke="#444" stroke-width="0.22">4</text>
<path d="M174.2 292.53L177.3 292.53" stroke="#666" stroke-width="0.8"/>
<text transform="translate(172.1,295.03) scale(0.72,1)" font-size="7.0" text-anchor="end" fill="#444" stroke="#444" stroke-width="0.22">2</text>
<path d="M174.2 312.95L177.3 312.95" stroke="#666" stroke-width="0.8"/>
<text transform="translate(172.1,315.45) scale(0.72,1)" font-size="7.0" text-anchor="end" fill="#444" stroke="#444" stroke-width="0.22">0</text>
<path d="M174.2 333.38L177.3 333.38" stroke="#666" stroke-width="0.8"/>
<text transform="translate(172.1,335.88) scale(0.72,1)" font-size="7.0" text-anchor="end" fill="#444" stroke="#444" stroke-width="0.22">-2</text>
<path d="M174.2 353.8L177.3 353.8" stroke="#666" stroke-width="0.8"/>
<text transform="translate(172.1,356.3) scale(0.72,1)" font-size="7.0" text-anchor="end" fill="#444" stroke="#444" stroke-width="0.22">-4</text>
<path d="M187.3 353.8L187.3 356.6" stroke="#666" stroke-width="0.8"/>
<path d="M202.7 353.8L202.7 356.6" stroke="#666" stroke-width="0.8"/>
<path d="M218.1 353.8L218.1 356.6" stroke="#666" stroke-width="0.8"/>
<path d="M233.4 353.8L233.4 356.6" stroke="#666" stroke-width="0.8"/>
<path d="M248.9 353.8L248.9 356.6" stroke="#666" stroke-width="0.8"/>
<text transform="translate(164,312.95) rotate(-90) scale(0.84,1)" font-size="6.6" text-anchor="middle" fill="#3a3a3a" stroke="#3a3a3a" stroke-width="0.08">z-score</text>
<rect x="197.6" y="302.33" width="10.2" height="10.01" fill="#f4f4f4" stroke="#9c9c9c" stroke-width="0.85"/>
<path d="M197.6 307.64L207.8 307.64" stroke="#9c9c9c" stroke-width="0.85"/>
<path d="M202.7 293.44L202.7 302.33" stroke="#9c9c9c" stroke-width="0.85"/>
<path d="M202.7 312.34L202.7 336.34" stroke="#9c9c9c" stroke-width="0.85"/>
<path d="M200.4 293.44L205 293.44" stroke="#9c9c9c" stroke-width="0.85"/>
<path d="M200.4 336.34L205 336.34" stroke="#9c9c9c" stroke-width="0.85"/>
<circle cx="202.7" cy="293.4" r="1.15" fill="none" stroke="#f5820f" stroke-width="0.85"/>
<circle cx="199.2" cy="302.7" r="1.15" fill="none" stroke="#f5820f" stroke-width="0.85"/>
<circle cx="201.5" cy="302.7" r="1.15" fill="none" stroke="#f5820f" stroke-width="0.85"/>
<circle cx="203.9" cy="302.7" r="1.15" fill="none" stroke="#f5820f" stroke-width="0.85"/>
<circle cx="206.2" cy="302.7" r="1.15" fill="none" stroke="#f5820f" stroke-width="0.85"/>
<circle cx="200.7" cy="304.3" r="1.15" fill="none" stroke="#f5820f" stroke-width="0.85"/>
<circle cx="204.7" cy="304.3" r="1.15" fill="none" stroke="#f5820f" stroke-width="0.85"/>
<circle cx="199.2" cy="307.3" r="1.15" fill="none" stroke="#f5820f" stroke-width="0.85"/>
<circle cx="201.5" cy="307.3" r="1.15" fill="none" stroke="#f5820f" stroke-width="0.85"/>
<circle cx="203.9" cy="307.3" r="1.15" fill="none" stroke="#f5820f" stroke-width="0.85"/>
<circle cx="206.2" cy="307.3" r="1.15" fill="none" stroke="#f5820f" stroke-width="0.85"/>
<circle cx="202.7" cy="308.9" r="1.15" fill="none" stroke="#f5820f" stroke-width="0.85"/>
<circle cx="200.7" cy="310.9" r="1.15" fill="none" stroke="#f5820f" stroke-width="0.85"/>
<circle cx="202.7" cy="316.8" r="1.15" fill="none" stroke="#f5820f" stroke-width="0.85"/>
<circle cx="202.7" cy="336.3" r="1.15" fill="none" stroke="#f5820f" stroke-width="0.85"/>
<rect x="213" y="305.29" width="10.2" height="16.85" fill="#f4f4f4" stroke="#9c9c9c" stroke-width="0.85"/>
<path d="M213 312.95L223.2 312.95" stroke="#9c9c9c" stroke-width="0.85"/>
<path d="M218.1 291.91L218.1 305.29" stroke="#9c9c9c" stroke-width="0.85"/>
<path d="M218.1 322.14L218.1 344.61" stroke="#9c9c9c" stroke-width="0.85"/>
<path d="M215.8 291.91L220.4 291.91" stroke="#9c9c9c" stroke-width="0.85"/>
<path d="M215.8 344.61L220.4 344.61" stroke="#9c9c9c" stroke-width="0.85"/>
<circle cx="218.1" cy="291.9" r="1.15" fill="#a6def8" stroke="#5cc3f5" stroke-width="0.85"/>
<circle cx="218.1" cy="293.5" r="1.15" fill="#a6def8" stroke="#5cc3f5" stroke-width="0.85"/>
<circle cx="218.1" cy="295.2" r="1.15" fill="#a6def8" stroke="#5cc3f5" stroke-width="0.85"/>
<circle cx="218.1" cy="297.2" r="1.15" fill="#a6def8" stroke="#5cc3f5" stroke-width="0.85"/>
<circle cx="217.0" cy="299.0" r="1.15" fill="#a6def8" stroke="#5cc3f5" stroke-width="0.85"/>
<circle cx="218.8" cy="299.0" r="1.15" fill="#a6def8" stroke="#5cc3f5" stroke-width="0.85"/>
<circle cx="216.8" cy="300.7" r="1.15" fill="#a6def8" stroke="#5cc3f5" stroke-width="0.85"/>
<circle cx="217.5" cy="300.6" r="1.15" fill="#a6def8" stroke="#5cc3f5" stroke-width="0.85"/>
<circle cx="219.8" cy="300.8" r="1.15" fill="#a6def8" stroke="#5cc3f5" stroke-width="0.85"/>
<circle cx="215.1" cy="302.5" r="1.15" fill="#a6def8" stroke="#5cc3f5" stroke-width="0.85"/>
<circle cx="216.7" cy="302.3" r="1.15" fill="#a6def8" stroke="#5cc3f5" stroke-width="0.85"/>
<circle cx="217.9" cy="302.4" r="1.15" fill="#a6def8" stroke="#5cc3f5" stroke-width="0.85"/>
<circle cx="219.6" cy="302.3" r="1.15" fill="#a6def8" stroke="#5cc3f5" stroke-width="0.85"/>
<circle cx="221.2" cy="302.7" r="1.15" fill="#a6def8" stroke="#5cc3f5" stroke-width="0.85"/>
<circle cx="215.1" cy="304.4" r="1.15" fill="#a6def8" stroke="#5cc3f5" stroke-width="0.85"/>
<circle cx="216.7" cy="304.3" r="1.15" fill="#a6def8" stroke="#5cc3f5" stroke-width="0.85"/>
<circle cx="217.5" cy="304.1" r="1.15" fill="#a6def8" stroke="#5cc3f5" stroke-width="0.85"/>
<circle cx="219.3" cy="304.4" r="1.15" fill="#a6def8" stroke="#5cc3f5" stroke-width="0.85"/>
<circle cx="221.0" cy="304.2" r="1.15" fill="#a6def8" stroke="#5cc3f5" stroke-width="0.85"/>
<circle cx="215.0" cy="306.0" r="1.15" fill="#a6def8" stroke="#5cc3f5" stroke-width="0.85"/>
<circle cx="216.4" cy="306.2" r="1.15" fill="#a6def8" stroke="#5cc3f5" stroke-width="0.85"/>
<circle cx="218.1" cy="306.1" r="1.15" fill="#a6def8" stroke="#5cc3f5" stroke-width="0.85"/>
<circle cx="219.8" cy="306.3" r="1.15" fill="#a6def8" stroke="#5cc3f5" stroke-width="0.85"/>
<circle cx="221.6" cy="306.0" r="1.15" fill="#a6def8" stroke="#5cc3f5" stroke-width="0.85"/>
<circle cx="215.7" cy="307.8" r="1.15" fill="#a6def8" stroke="#5cc3f5" stroke-width="0.85"/>
<circle cx="217.6" cy="307.7" r="1.15" fill="#a6def8" stroke="#5cc3f5" stroke-width="0.85"/>
<circle cx="218.7" cy="307.6" r="1.15" fill="#a6def8" stroke="#5cc3f5" stroke-width="0.85"/>
<circle cx="220.7" cy="308.0" r="1.15" fill="#a6def8" stroke="#5cc3f5" stroke-width="0.85"/>
<circle cx="214.6" cy="309.5" r="1.15" fill="#a6def8" stroke="#5cc3f5" stroke-width="0.85"/>
<circle cx="216.4" cy="309.7" r="1.15" fill="#a6def8" stroke="#5cc3f5" stroke-width="0.85"/>
<circle cx="218.3" cy="309.6" r="1.15" fill="#a6def8" stroke="#5cc3f5" stroke-width="0.85"/>
<circle cx="219.9" cy="309.8" r="1.15" fill="#a6def8" stroke="#5cc3f5" stroke-width="0.85"/>
<circle cx="221.4" cy="309.7" r="1.15" fill="#a6def8" stroke="#5cc3f5" stroke-width="0.85"/>
<circle cx="215.4" cy="311.5" r="1.15" fill="#a6def8" stroke="#5cc3f5" stroke-width="0.85"/>
<circle cx="216.7" cy="311.5" r="1.15" fill="#a6def8" stroke="#5cc3f5" stroke-width="0.85"/>
<circle cx="217.7" cy="311.3" r="1.15" fill="#a6def8" stroke="#5cc3f5" stroke-width="0.85"/>
<circle cx="219.3" cy="311.1" r="1.15" fill="#a6def8" stroke="#5cc3f5" stroke-width="0.85"/>
<circle cx="220.9" cy="311.2" r="1.15" fill="#a6def8" stroke="#5cc3f5" stroke-width="0.85"/>
<circle cx="215.0" cy="313.3" r="1.15" fill="#a6def8" stroke="#5cc3f5" stroke-width="0.85"/>
<circle cx="217.1" cy="313.0" r="1.15" fill="#a6def8" stroke="#5cc3f5" stroke-width="0.85"/>
<circle cx="218.9" cy="313.3" r="1.15" fill="#a6def8" stroke="#5cc3f5" stroke-width="0.85"/>
<circle cx="221.1" cy="313.1" r="1.15" fill="#a6def8" stroke="#5cc3f5" stroke-width="0.85"/>
<circle cx="215.2" cy="315.1" r="1.15" fill="#a6def8" stroke="#5cc3f5" stroke-width="0.85"/>
<circle cx="216.7" cy="314.8" r="1.15" fill="#a6def8" stroke="#5cc3f5" stroke-width="0.85"/>
<circle cx="217.8" cy="314.9" r="1.15" fill="#a6def8" stroke="#5cc3f5" stroke-width="0.85"/>
<circle cx="219.3" cy="315.2" r="1.15" fill="#a6def8" stroke="#5cc3f5" stroke-width="0.85"/>
<circle cx="221.1" cy="314.8" r="1.15" fill="#a6def8" stroke="#5cc3f5" stroke-width="0.85"/>
<circle cx="215.1" cy="316.7" r="1.15" fill="#a6def8" stroke="#5cc3f5" stroke-width="0.85"/>
<circle cx="216.8" cy="316.6" r="1.15" fill="#a6def8" stroke="#5cc3f5" stroke-width="0.85"/>
<circle cx="219.1" cy="316.7" r="1.15" fill="#a6def8" stroke="#5cc3f5" stroke-width="0.85"/>
<circle cx="221.4" cy="316.7" r="1.15" fill="#a6def8" stroke="#5cc3f5" stroke-width="0.85"/>
<circle cx="215.2" cy="318.5" r="1.15" fill="#a6def8" stroke="#5cc3f5" stroke-width="0.85"/>
<circle cx="216.6" cy="318.6" r="1.15" fill="#a6def8" stroke="#5cc3f5" stroke-width="0.85"/>
<circle cx="217.8" cy="318.7" r="1.15" fill="#a6def8" stroke="#5cc3f5" stroke-width="0.85"/>
<circle cx="219.5" cy="318.7" r="1.15" fill="#a6def8" stroke="#5cc3f5" stroke-width="0.85"/>
<circle cx="221.0" cy="318.4" r="1.15" fill="#a6def8" stroke="#5cc3f5" stroke-width="0.85"/>
<circle cx="214.9" cy="320.3" r="1.15" fill="#a6def8" stroke="#5cc3f5" stroke-width="0.85"/>
<circle cx="217.0" cy="320.0" r="1.15" fill="#a6def8" stroke="#5cc3f5" stroke-width="0.85"/>
<circle cx="219.0" cy="320.1" r="1.15" fill="#a6def8" stroke="#5cc3f5" stroke-width="0.85"/>
<circle cx="220.8" cy="320.0" r="1.15" fill="#a6def8" stroke="#5cc3f5" stroke-width="0.85"/>
<circle cx="215.5" cy="321.8" r="1.15" fill="#a6def8" stroke="#5cc3f5" stroke-width="0.85"/>
<circle cx="217.7" cy="321.8" r="1.15" fill="#a6def8" stroke="#5cc3f5" stroke-width="0.85"/>
<circle cx="218.5" cy="322.1" r="1.15" fill="#a6def8" stroke="#5cc3f5" stroke-width="0.85"/>
<circle cx="220.6" cy="321.9" r="1.15" fill="#a6def8" stroke="#5cc3f5" stroke-width="0.85"/>
<circle cx="215.1" cy="323.6" r="1.15" fill="#a6def8" stroke="#5cc3f5" stroke-width="0.85"/>
<circle cx="216.5" cy="324.0" r="1.15" fill="#a6def8" stroke="#5cc3f5" stroke-width="0.85"/>
<circle cx="217.9" cy="323.8" r="1.15" fill="#a6def8" stroke="#5cc3f5" stroke-width="0.85"/>
<circle cx="219.6" cy="323.6" r="1.15" fill="#a6def8" stroke="#5cc3f5" stroke-width="0.85"/>
<circle cx="221.4" cy="323.7" r="1.15" fill="#a6def8" stroke="#5cc3f5" stroke-width="0.85"/>
<circle cx="216.0" cy="325.3" r="1.15" fill="#a6def8" stroke="#5cc3f5" stroke-width="0.85"/>
<circle cx="217.4" cy="325.6" r="1.15" fill="#a6def8" stroke="#5cc3f5" stroke-width="0.85"/>
<circle cx="218.4" cy="325.6" r="1.15" fill="#a6def8" stroke="#5cc3f5" stroke-width="0.85"/>
<circle cx="220.7" cy="325.6" r="1.15" fill="#a6def8" stroke="#5cc3f5" stroke-width="0.85"/>
<circle cx="215.8" cy="327.4" r="1.15" fill="#a6def8" stroke="#5cc3f5" stroke-width="0.85"/>
<circle cx="217.9" cy="327.2" r="1.15" fill="#a6def8" stroke="#5cc3f5" stroke-width="0.85"/>
<circle cx="220.2" cy="327.5" r="1.15" fill="#a6def8" stroke="#5cc3f5" stroke-width="0.85"/>
<circle cx="217.5" cy="329.0" r="1.15" fill="#a6def8" stroke="#5cc3f5" stroke-width="0.85"/>
<circle cx="218.8" cy="329.2" r="1.15" fill="#a6def8" stroke="#5cc3f5" stroke-width="0.85"/>
<circle cx="218.1" cy="331.0" r="1.15" fill="#a6def8" stroke="#5cc3f5" stroke-width="0.85"/>
<circle cx="218.1" cy="332.7" r="1.15" fill="#a6def8" stroke="#5cc3f5" stroke-width="0.85"/>
<circle cx="218.1" cy="334.4" r="1.15" fill="#a6def8" stroke="#5cc3f5" stroke-width="0.85"/>
<circle cx="218.1" cy="338.5" r="1.15" fill="#a6def8" stroke="#5cc3f5" stroke-width="0.85"/>
<circle cx="218.1" cy="344.6" r="1.15" fill="#a6def8" stroke="#5cc3f5" stroke-width="0.85"/>
<rect x="228.3" y="311.11" width="10.2" height="11.64" fill="#f4f4f4" stroke="#9c9c9c" stroke-width="0.85"/>
<path d="M228.3 314.48L238.5 314.48" stroke="#9c9c9c" stroke-width="0.85"/>
<path d="M233.4 300.49L233.4 311.11" stroke="#9c9c9c" stroke-width="0.85"/>
<path d="M233.4 322.75L233.4 335.62" stroke="#9c9c9c" stroke-width="0.85"/>
<path d="M231.1 300.49L235.7 300.49" stroke="#9c9c9c" stroke-width="0.85"/>
<path d="M231.1 335.62L235.7 335.62" stroke="#9c9c9c" stroke-width="0.85"/>
<circle cx="233.4" cy="300.5" r="1.15" fill="none" stroke="#1c7cf0" stroke-width="0.85"/>
<circle cx="229.5" cy="310.0" r="1.15" fill="none" stroke="#1c7cf0" stroke-width="0.85"/>
<circle cx="237.5" cy="309.2" r="1.15" fill="none" stroke="#1c7cf0" stroke-width="0.85"/>
<circle cx="233.4" cy="311.5" r="1.15" fill="none" stroke="#1c7cf0" stroke-width="0.85"/>
<circle cx="229.5" cy="314.8" r="1.15" fill="none" stroke="#1c7cf0" stroke-width="0.85"/>
<circle cx="233.4" cy="316.2" r="1.15" fill="none" stroke="#1c7cf0" stroke-width="0.85"/>
<circle cx="233.4" cy="320.4" r="1.15" fill="none" stroke="#1c7cf0" stroke-width="0.85"/>
<circle cx="233.4" cy="326.0" r="1.15" fill="none" stroke="#1c7cf0" stroke-width="0.85"/>
<circle cx="233.4" cy="335.6" r="1.15" fill="none" stroke="#1c7cf0" stroke-width="0.85"/>
<text transform="translate(283.9,264.53) scale(0.8,1)" font-size="15.4" fill="#1a1a1a" stroke="#1a1a1a" stroke-width="0.42" letter-spacing="0.5">K.</text>
<text transform="translate(350.1,263.6) scale(0.85,1)" font-size="8.8" text-anchor="middle" font-weight="bold" font-style="italic" fill="#1a1a1a">CPS1</text>
<path d="M310.6 274.2L310.6 354.1" stroke="#666" stroke-width="1.0"/>
<path d="M310.1 354.1L389.8 354.1" stroke="#666" stroke-width="1.0"/>
<path d="M307.5 274.2L310.6 274.2" stroke="#666" stroke-width="0.8"/>
<text transform="translate(305.4,276.7) scale(0.72,1)" font-size="7.0" text-anchor="end" fill="#444" stroke="#444" stroke-width="0.22">20</text>
<path d="M307.5 287.52L310.6 287.52" stroke="#666" stroke-width="0.8"/>
<text transform="translate(305.4,290.02) scale(0.72,1)" font-size="7.0" text-anchor="end" fill="#444" stroke="#444" stroke-width="0.22">15</text>
<path d="M307.5 300.83L310.6 300.83" stroke="#666" stroke-width="0.8"/>
<text transform="translate(305.4,303.33) scale(0.72,1)" font-size="7.0" text-anchor="end" fill="#444" stroke="#444" stroke-width="0.22">10</text>
<path d="M307.5 314.15L310.6 314.15" stroke="#666" stroke-width="0.8"/>
<text transform="translate(305.4,316.65) scale(0.72,1)" font-size="7.0" text-anchor="end" fill="#444" stroke="#444" stroke-width="0.22">5</text>
<path d="M307.5 327.47L310.6 327.47" stroke="#666" stroke-width="0.8"/>
<text transform="translate(305.4,329.97) scale(0.72,1)" font-size="7.0" text-anchor="end" fill="#444" stroke="#444" stroke-width="0.22">0</text>
<path d="M307.5 340.78L310.6 340.78" stroke="#666" stroke-width="0.8"/>
<text transform="translate(305.4,343.28) scale(0.72,1)" font-size="7.0" text-anchor="end" fill="#444" stroke="#444" stroke-width="0.22">-5</text>
<path d="M307.5 354.1L310.6 354.1" stroke="#666" stroke-width="0.8"/>
<text transform="translate(305.4,356.6) scale(0.72,1)" font-size="7.0" text-anchor="end" fill="#444" stroke="#444" stroke-width="0.22">-10</text>
<path d="M320.6 354.1L320.6 356.9" stroke="#666" stroke-width="0.8"/>
<path d="M335.5 354.1L335.5 356.9" stroke="#666" stroke-width="0.8"/>
<path d="M350.3 354.1L350.3 356.9" stroke="#666" stroke-width="0.8"/>
<path d="M365.4 354.1L365.4 356.9" stroke="#666" stroke-width="0.8"/>
<path d="M380.3 354.1L380.3 356.9" stroke="#666" stroke-width="0.8"/>
<text transform="translate(295.2,314.15) rotate(-90) scale(0.84,1)" font-size="6.6" text-anchor="middle" fill="#3a3a3a" stroke="#3a3a3a" stroke-width="0.08">z-score</text>
<rect x="330.4" y="324.8" width="10.2" height="4.79" fill="#f4f4f4" stroke="#9c9c9c" stroke-width="0.85"/>
<path d="M330.4 327.47L340.6 327.47" stroke="#9c9c9c" stroke-width="0.85"/>
<path d="M335.5 292.58L335.5 324.8" stroke="#9c9c9c" stroke-width="0.85"/>
<path d="M335.5 329.6L335.5 336.26" stroke="#9c9c9c" stroke-width="0.85"/>
<path d="M333.2 292.58L337.8 292.58" stroke="#9c9c9c" stroke-width="0.85"/>
<path d="M333.2 336.26L337.8 336.26" stroke="#9c9c9c" stroke-width="0.85"/>
<path d="M335.5 315.2h0M335.5 316.9h0M334.8 318.3h0M336.2 318.1h0M334.8 319.8h0M336.2 319.7h0M334.2 321.4h0M336.3 321.1h0M333.3 322.7h0M334.5 322.7h0M336.6 322.6h0M338.0 322.5h0M332.1 324.3h0M333.8 324.3h0M335.7 324.3h0M337.0 324.3h0M339.0 324.0h0M332.3 325.6h0M333.6 325.8h0M334.7 325.9h0M336.4 325.7h0M337.7 325.6h0M339.0 325.5h0M332.0 327.5h0M333.1 327.2h0M334.8 327.1h0M336.0 327.2h0M337.7 327.4h0M339.1 327.3h0M332.3 328.5h0M333.9 328.6h0M335.7 328.7h0M336.9 328.9h0M338.5 328.7h0M331.7 330.5h0M333.2 330.4h0M334.9 330.0h0M336.1 330.2h0M337.6 330.2h0M339.1 330.2h0M332.0 331.8h0M333.6 331.5h0M335.5 331.6h0M337.3 331.7h0M339.0 331.7h0M332.1 333.0h0M333.9 333.1h0M335.6 333.3h0M337.3 333.2h0M338.8 333.0h0M334.2 334.9h0M336.7 335.0h0M335.5 336.3h0" stroke="#f5820f" stroke-width="3.1" stroke-linecap="round"/>
<circle cx="335.5" cy="292.6" r="1.15" fill="none" stroke="#f5820f" stroke-width="0.85"/>
<circle cx="335.5" cy="295.0" r="1.15" fill="none" stroke="#f5820f" stroke-width="0.85"/>
<circle cx="335.5" cy="296.8" r="1.15" fill="none" stroke="#f5820f" stroke-width="0.85"/>
<circle cx="335.5" cy="309.6" r="1.15" fill="none" stroke="#f5820f" stroke-width="0.85"/>
<rect x="345.2" y="324.8" width="10.2" height="4.79" fill="#f4f4f4" stroke="#9c9c9c" stroke-width="0.85"/>
<path d="M345.2 327.47L355.4 327.47" stroke="#9c9c9c" stroke-width="0.85"/>
<path d="M350.3 289.65L350.3 324.8" stroke="#9c9c9c" stroke-width="0.85"/>
<path d="M350.3 329.6L350.3 343.18" stroke="#9c9c9c" stroke-width="0.85"/>
<path d="M348 289.65L352.6 289.65" stroke="#9c9c9c" stroke-width="0.85"/>
<path d="M348 343.18L352.6 343.18" stroke="#9c9c9c" stroke-width="0.85"/>
<path d="M350.3 289.6h0M350.3 291.2h0M350.3 292.9h0M350.3 293.9h0M350.3 295.6h0M350.3 296.9h0M350.3 298.6h0M350.3 299.9h0M350.3 301.7h0M350.3 303.0h0M350.3 304.4h0M350.3 305.9h0M350.3 307.3h0M350.3 309.1h0M350.3 310.2h0M350.3 311.9h0M350.3 313.7h0M350.3 314.9h0M350.3 316.3h0M350.3 317.9h0M349.6 319.5h0M350.9 319.4h0M349.4 321.1h0M351.3 320.7h0M348.4 322.6h0M350.5 322.6h0M352.2 322.4h0M347.0 324.0h0M348.5 324.0h0M350.5 323.8h0M351.8 324.0h0M353.6 323.7h0M346.7 325.4h0M348.1 325.5h0M349.5 325.4h0M351.1 325.3h0M352.8 325.4h0M353.9 325.2h0M346.5 326.7h0M348.2 326.6h0M349.4 326.7h0M351.0 327.0h0M352.7 326.7h0M354.0 326.8h0M346.4 328.5h0M348.1 328.2h0M349.7 328.4h0M351.2 328.2h0M352.6 328.5h0M354.4 328.4h0M346.4 330.0h0M347.9 329.6h0M349.3 329.9h0M351.3 329.8h0M352.9 330.0h0M354.4 329.6h0M346.3 331.4h0M348.2 331.1h0M349.6 331.5h0M351.2 331.2h0M352.7 331.4h0M354.1 331.3h0M347.0 332.7h0M348.5 332.8h0M350.2 332.9h0M351.8 332.6h0M353.5 332.7h0M347.3 334.1h0M348.7 334.2h0M350.1 334.4h0M351.8 334.0h0M353.3 334.4h0M349.2 335.7h0M350.3 335.9h0M351.8 335.8h0M349.6 337.4h0M350.8 337.1h0M350.3 338.9h0M350.3 340.4h0M350.3 341.8h0M350.3 343.2h0" stroke="#5cc3f5" stroke-width="3.1" stroke-linecap="round"/>
<rect x="360.3" y="315.22" width="10.2" height="13.05" fill="#f4f4f4" stroke="#9c9c9c" stroke-width="0.85"/>
<path d="M360.3 326.13L370.5 326.13" stroke="#9c9c9c" stroke-width="0.85"/>
<path d="M365.4 287.25L365.4 315.22" stroke="#9c9c9c" stroke-width="0.85"/>
<path d="M365.4 328.27L365.4 338.12" stroke="#9c9c9c" stroke-width="0.85"/>
<path d="M363.1 287.25L367.7 287.25" stroke="#9c9c9c" stroke-width="0.85"/>
<path d="M363.1 338.12L367.7 338.12" stroke="#9c9c9c" stroke-width="0.85"/>
<path d="M365.4 287.3h0M365.4 289.0h0M365.1 290.4h0M366.1 290.3h0M365.1 291.7h0M365.8 291.8h0M364.3 293.2h0M366.3 293.4h0M364.1 294.7h0M365.3 294.6h0M367.1 294.7h0M364.1 296.3h0M365.2 296.2h0M366.8 296.2h0M365.4 297.8h0M365.0 299.0h0M365.8 299.0h0M364.7 300.5h0M366.4 300.7h0M364.2 302.0h0M365.5 302.0h0M367.1 302.3h0M365.4 303.9h0M365.4 305.2h0M365.4 306.6h0M365.4 308.1h0M365.4 309.8h0M365.4 311.3h0M365.4 312.5h0M365.4 314.4h0M365.4 315.4h0M365.4 317.1h0M365.4 318.7h0M365.1 320.2h0M365.9 320.3h0M364.1 321.5h0M365.6 321.6h0M366.9 321.6h0M363.3 323.2h0M364.8 323.2h0M366.1 323.1h0M367.4 323.1h0M362.6 324.7h0M363.8 324.5h0M365.2 324.8h0M367.0 324.8h0M368.4 324.5h0M362.7 326.3h0M364.3 326.0h0M366.1 326.3h0M368.2 326.1h0M361.2 327.8h0M362.3 327.7h0M363.9 327.8h0M365.4 327.8h0M366.6 327.9h0M368.0 327.9h0M369.7 327.7h0M360.5 329.3h0M361.7 329.3h0M363.0 329.0h0M364.9 329.2h0M366.1 329.2h0M367.7 329.2h0M369.2 329.0h0M370.3 329.0h0M363.6 330.6h0M364.7 330.5h0M365.9 330.7h0M367.4 330.7h0M362.4 332.0h0M363.7 332.2h0M365.5 332.3h0M367.1 332.3h0M368.6 332.1h0M362.6 333.7h0M364.5 333.6h0M366.4 333.8h0M368.2 333.8h0M362.0 335.2h0M363.2 335.1h0M364.8 335.3h0M366.0 335.0h0M367.6 335.0h0M368.7 335.2h0M364.1 336.7h0M365.6 336.6h0M366.4 336.4h0M365.4 338.1h0" stroke="#1c7cf0" stroke-width="3.1" stroke-linecap="round"/>
<path d="M380.3 318.14L380.3 324.27" stroke="#9c9c9c" stroke-width="0.85"/>
<path d="M378 318.14L382.6 318.14" stroke="#9c9c9c" stroke-width="0.85"/>
<path d="M378 324.27L382.6 324.27" stroke="#9c9c9c" stroke-width="0.85"/>
<path d="M376.3 322.94L384.3 322.94" stroke="#9c9c9c" stroke-width="0.85"/>
<circle cx="380.3" cy="318.1" r="1.15" fill="none" stroke="#2f5d9e" stroke-width="0.85"/>
<circle cx="377.9" cy="324.3" r="1.15" fill="none" stroke="#2f5d9e" stroke-width="0.85"/>
<circle cx="382.7" cy="322.9" r="1.15" fill="none" stroke="#2f5d9e" stroke-width="0.85"/>
<text transform="translate(368.2,351.3) scale(0.8,1)" font-size="6.7" fill="#444" stroke="#444" stroke-width="0.12"><tspan font-style="italic">p</tspan> = 0.0003</text>
<text transform="translate(412.4,264.53) scale(0.8,1)" font-size="15.4" fill="#1a1a1a" stroke="#1a1a1a" stroke-width="0.42" letter-spacing="0.5">O.</text>
<text transform="translate(479.7,260.3) scale(0.85,1)" font-size="8.8" text-anchor="middle" font-weight="bold" font-style="italic" fill="#1a1a1a">CPS1</text>
<path d="M438.4 271.7L438.4 353.7" stroke="#666" stroke-width="1.0"/>
<path d="M437.9 353.7L520.4 353.7" stroke="#666" stroke-width="1.0"/>
<path d="M435.3 271.7L438.4 271.7" stroke="#666" stroke-width="0.8"/>
<text transform="translate(433.2,274.2) scale(0.72,1)" font-size="7.0" text-anchor="end" fill="#444" stroke="#444" stroke-width="0.22">3</text>
<path d="M435.3 285.37L438.4 285.37" stroke="#666" stroke-width="0.8"/>
<text transform="translate(433.2,287.87) scale(0.72,1)" font-size="7.0" text-anchor="end" fill="#444" stroke="#444" stroke-width="0.22">2</text>
<path d="M435.3 299.03L438.4 299.03" stroke="#666" stroke-width="0.8"/>
<text transform="translate(433.2,301.53) scale(0.72,1)" font-size="7.0" text-anchor="end" fill="#444" stroke="#444" stroke-width="0.22">1</text>
<path d="M435.3 312.7L438.4 312.7" stroke="#666" stroke-width="0.8"/>
<text transform="translate(433.2,315.2) scale(0.72,1)" font-size="7.0" text-anchor="end" fill="#444" stroke="#444" stroke-width="0.22">0</text>
<path d="M435.3 326.37L438.4 326.37" stroke="#666" stroke-width="0.8"/>
<text transform="translate(433.2,328.87) scale(0.72,1)" font-size="7.0" text-anchor="end" fill="#444" stroke="#444" stroke-width="0.22">-1</text>
<path d="M435.3 340.03L438.4 340.03" stroke="#666" stroke-width="0.8"/>
<text transform="translate(433.2,342.53) scale(0.72,1)" font-size="7.0" text-anchor="end" fill="#444" stroke="#444" stroke-width="0.22">-2</text>
<path d="M435.3 353.7L438.4 353.7" stroke="#666" stroke-width="0.8"/>
<text transform="translate(433.2,356.2) scale(0.72,1)" font-size="7.0" text-anchor="end" fill="#444" stroke="#444" stroke-width="0.22">-3</text>
<path d="M448.5 353.7L448.5 356.5" stroke="#666" stroke-width="0.8"/>
<path d="M464.1 353.7L464.1 356.5" stroke="#666" stroke-width="0.8"/>
<path d="M479.5 353.7L479.5 356.5" stroke="#666" stroke-width="0.8"/>
<path d="M494.7 353.7L494.7 356.5" stroke="#666" stroke-width="0.8"/>
<path d="M510.3 353.7L510.3 356.5" stroke="#666" stroke-width="0.8"/>
<text transform="translate(425.1,312.7) rotate(-90) scale(0.84,1)" font-size="6.6" text-anchor="middle" fill="#3a3a3a" stroke="#3a3a3a" stroke-width="0.08">z-score</text>
<path d="M443.7 304.64L453.3 304.64" stroke="#9c9c9c" stroke-width="0.85"/>
<circle cx="448.5" cy="304.6" r="1.15" fill="none" stroke="#9b2d3a" stroke-width="0.85"/>
<rect x="459" y="299.31" width="10.2" height="26.92" fill="#f4f4f4" stroke="#9c9c9c" stroke-width="0.85"/>
<path d="M459 313.38L469.2 313.38" stroke="#9c9c9c" stroke-width="0.85"/>
<path d="M464.1 288.51L464.1 299.31" stroke="#9c9c9c" stroke-width="0.85"/>
<path d="M464.1 326.23L464.1 336.48" stroke="#9c9c9c" stroke-width="0.85"/>
<path d="M461.8 288.51L466.4 288.51" stroke="#9c9c9c" stroke-width="0.85"/>
<path d="M461.8 336.48L466.4 336.48" stroke="#9c9c9c" stroke-width="0.85"/>
<circle cx="464.1" cy="287.8" r="1.15" fill="none" stroke="#f5820f" stroke-width="0.85"/>
<circle cx="464.6" cy="289.9" r="1.15" fill="none" stroke="#f5820f" stroke-width="0.85"/>
<circle cx="463.9" cy="292.5" r="1.15" fill="none" stroke="#f5820f" stroke-width="0.85"/>
<circle cx="466.4" cy="292.6" r="1.15" fill="none" stroke="#f5820f" stroke-width="0.85"/>
<circle cx="461.4" cy="294.6" r="1.15" fill="none" stroke="#f5820f" stroke-width="0.85"/>
<circle cx="463.7" cy="295.0" r="1.15" fill="none" stroke="#f5820f" stroke-width="0.85"/>
<circle cx="464.7" cy="294.7" r="1.15" fill="none" stroke="#f5820f" stroke-width="0.85"/>
<circle cx="461.1" cy="297.2" r="1.15" fill="none" stroke="#f5820f" stroke-width="0.85"/>
<circle cx="466.9" cy="296.9" r="1.15" fill="none" stroke="#f5820f" stroke-width="0.85"/>
<circle cx="461.6" cy="299.6" r="1.15" fill="none" stroke="#f5820f" stroke-width="0.85"/>
<circle cx="464.3" cy="299.4" r="1.15" fill="none" stroke="#f5820f" stroke-width="0.85"/>
<circle cx="466.6" cy="299.6" r="1.15" fill="none" stroke="#f5820f" stroke-width="0.85"/>
<circle cx="462.9" cy="301.9" r="1.15" fill="none" stroke="#f5820f" stroke-width="0.85"/>
<circle cx="466.5" cy="304.3" r="1.15" fill="none" stroke="#f5820f" stroke-width="0.85"/>
<circle cx="461.1" cy="306.2" r="1.15" fill="none" stroke="#f5820f" stroke-width="0.85"/>
<circle cx="464.3" cy="306.4" r="1.15" fill="none" stroke="#f5820f" stroke-width="0.85"/>
<circle cx="461.5" cy="308.5" r="1.15" fill="none" stroke="#f5820f" stroke-width="0.85"/>
<circle cx="463.3" cy="308.9" r="1.15" fill="none" stroke="#f5820f" stroke-width="0.85"/>
<circle cx="466.5" cy="308.9" r="1.15" fill="none" stroke="#f5820f" stroke-width="0.85"/>
<circle cx="463.1" cy="311.1" r="1.15" fill="none" stroke="#f5820f" stroke-width="0.85"/>
<circle cx="465.1" cy="310.8" r="1.15" fill="none" stroke="#f5820f" stroke-width="0.85"/>
<circle cx="467.2" cy="311.0" r="1.15" fill="none" stroke="#f5820f" stroke-width="0.85"/>
<circle cx="461.5" cy="313.3" r="1.15" fill="none" stroke="#f5820f" stroke-width="0.85"/>
<circle cx="463.4" cy="313.2" r="1.15" fill="none" stroke="#f5820f" stroke-width="0.85"/>
<circle cx="466.4" cy="313.3" r="1.15" fill="none" stroke="#f5820f" stroke-width="0.85"/>
<circle cx="461.5" cy="315.4" r="1.15" fill="none" stroke="#f5820f" stroke-width="0.85"/>
<circle cx="466.9" cy="315.8" r="1.15" fill="none" stroke="#f5820f" stroke-width="0.85"/>
<circle cx="461.5" cy="318.1" r="1.15" fill="none" stroke="#f5820f" stroke-width="0.85"/>
<circle cx="463.6" cy="318.2" r="1.15" fill="none" stroke="#f5820f" stroke-width="0.85"/>
<circle cx="464.5" cy="318.1" r="1.15" fill="none" stroke="#f5820f" stroke-width="0.85"/>
<circle cx="466.9" cy="317.8" r="1.15" fill="none" stroke="#f5820f" stroke-width="0.85"/>
<circle cx="464.3" cy="320.1" r="1.15" fill="none" stroke="#f5820f" stroke-width="0.85"/>
<circle cx="466.8" cy="320.3" r="1.15" fill="none" stroke="#f5820f" stroke-width="0.85"/>
<circle cx="462.0" cy="322.5" r="1.15" fill="none" stroke="#f5820f" stroke-width="0.85"/>
<circle cx="463.3" cy="322.5" r="1.15" fill="none" stroke="#f5820f" stroke-width="0.85"/>
<circle cx="466.0" cy="322.4" r="1.15" fill="none" stroke="#f5820f" stroke-width="0.85"/>
<circle cx="461.0" cy="324.7" r="1.15" fill="none" stroke="#f5820f" stroke-width="0.85"/>
<circle cx="464.0" cy="325.0" r="1.15" fill="none" stroke="#f5820f" stroke-width="0.85"/>
<circle cx="467.3" cy="324.7" r="1.15" fill="none" stroke="#f5820f" stroke-width="0.85"/>
<circle cx="461.2" cy="327.2" r="1.15" fill="none" stroke="#f5820f" stroke-width="0.85"/>
<circle cx="464.6" cy="327.0" r="1.15" fill="none" stroke="#f5820f" stroke-width="0.85"/>
<circle cx="460.7" cy="329.3" r="1.15" fill="none" stroke="#f5820f" stroke-width="0.85"/>
<circle cx="463.0" cy="329.6" r="1.15" fill="none" stroke="#f5820f" stroke-width="0.85"/>
<circle cx="465.4" cy="329.5" r="1.15" fill="none" stroke="#f5820f" stroke-width="0.85"/>
<circle cx="467.1" cy="329.8" r="1.15" fill="none" stroke="#f5820f" stroke-width="0.85"/>
<circle cx="461.3" cy="331.9" r="1.15" fill="none" stroke="#f5820f" stroke-width="0.85"/>
<circle cx="463.4" cy="332.1" r="1.15" fill="none" stroke="#f5820f" stroke-width="0.85"/>
<circle cx="464.5" cy="331.9" r="1.15" fill="none" stroke="#f5820f" stroke-width="0.85"/>
<circle cx="466.7" cy="332.0" r="1.15" fill="none" stroke="#f5820f" stroke-width="0.85"/>
<circle cx="461.6" cy="334.2" r="1.15" fill="none" stroke="#f5820f" stroke-width="0.85"/>
<circle cx="466.9" cy="334.1" r="1.15" fill="none" stroke="#f5820f" stroke-width="0.85"/>
<circle cx="463.9" cy="336.5" r="1.15" fill="none" stroke="#f5820f" stroke-width="0.85"/>
<circle cx="464.5" cy="336.5" r="1.15" fill="none" stroke="#f5820f" stroke-width="0.85"/>
<rect x="474.4" y="300.4" width="10.2" height="23.23" fill="#f4f4f4" stroke="#9c9c9c" stroke-width="0.85"/>
<path d="M474.4 312.7L484.6 312.7" stroke="#9c9c9c" stroke-width="0.85"/>
<path d="M479.5 280.17L479.5 300.4" stroke="#9c9c9c" stroke-width="0.85"/>
<path d="M479.5 323.63L479.5 340.17" stroke="#9c9c9c" stroke-width="0.85"/>
<path d="M477.2 280.17L481.8 280.17" stroke="#9c9c9c" stroke-width="0.85"/>
<path d="M477.2 340.17L481.8 340.17" stroke="#9c9c9c" stroke-width="0.85"/>
<path d="M479.5 280.2h0M479.5 281.4h0M479.5 283.2h0M479.5 284.6h0M479.5 286.0h0M478.8 287.5h0M480.0 287.6h0M478.8 288.9h0M480.5 289.1h0M478.6 290.9h0M480.7 290.9h0M477.5 292.0h0M479.0 292.0h0M480.0 292.0h0M481.2 292.0h0M477.0 293.9h0M478.7 293.8h0M480.3 293.7h0M481.8 293.7h0M477.1 295.2h0M479.0 295.1h0M480.1 294.9h0M481.5 295.3h0M476.9 296.8h0M478.0 296.5h0M479.4 296.6h0M481.1 296.8h0M482.3 296.8h0M475.9 298.4h0M477.0 298.4h0M478.6 298.1h0M480.3 298.2h0M482.0 298.1h0M483.2 298.1h0M476.3 299.7h0M477.8 299.7h0M479.5 299.5h0M481.0 299.6h0M482.6 299.7h0M475.5 301.3h0M477.1 301.2h0M478.8 301.1h0M480.5 301.3h0M481.6 301.3h0M483.2 301.2h0M476.5 302.7h0M477.9 302.9h0M479.5 302.8h0M481.1 302.5h0M482.5 302.6h0M476.7 303.9h0M477.8 303.9h0M479.3 304.0h0M481.3 304.3h0M482.5 304.2h0M475.3 305.7h0M477.0 305.8h0M478.6 305.6h0M480.1 305.6h0M482.1 305.7h0M483.3 305.7h0M475.7 306.9h0M477.3 307.4h0M478.9 307.4h0M480.1 307.1h0M481.9 307.1h0M483.2 307.0h0M475.7 308.6h0M477.4 308.7h0M478.6 308.4h0M480.4 308.8h0M481.6 308.5h0M483.4 308.5h0M475.3 310.0h0M477.0 310.3h0M478.9 310.3h0M480.4 310.4h0M481.7 310.2h0M483.5 310.3h0M476.2 311.7h0M477.6 311.7h0M478.6 311.9h0M480.4 311.6h0M481.8 311.8h0M483.0 311.5h0M475.5 313.2h0M476.9 313.4h0M478.9 312.9h0M480.2 313.2h0M481.8 313.3h0M483.5 313.0h0M476.7 314.6h0M478.2 314.6h0M479.3 314.4h0M481.0 314.5h0M482.6 314.5h0M476.1 316.2h0M477.6 316.3h0M478.7 316.0h0M480.2 316.4h0M481.6 316.1h0M483.3 316.0h0M476.0 317.5h0M477.1 317.7h0M479.0 317.7h0M480.0 317.6h0M481.5 317.5h0M483.1 317.7h0M475.3 319.0h0M476.9 319.2h0M478.6 319.1h0M480.4 319.0h0M481.8 319.4h0M483.4 319.2h0M475.2 320.7h0M476.9 320.8h0M478.4 320.4h0M480.4 320.8h0M482.0 320.6h0M483.3 320.8h0M475.9 322.3h0M477.3 322.0h0M478.9 322.2h0M480.3 322.1h0M481.7 322.4h0M483.5 322.2h0M476.4 323.9h0M477.9 323.6h0M479.5 323.8h0M480.8 323.8h0M482.6 323.9h0M476.0 325.0h0M477.6 325.1h0M479.5 325.4h0M481.0 325.4h0M483.0 325.2h0M476.4 326.6h0M478.0 326.6h0M479.7 326.9h0M481.2 326.9h0M482.1 326.5h0M477.2 327.9h0M478.6 328.2h0M480.1 328.2h0M481.9 328.1h0M477.9 329.9h0M479.3 329.8h0M481.3 329.8h0M478.3 331.2h0M479.6 331.2h0M480.7 331.2h0M478.3 332.8h0M479.6 332.7h0M480.5 332.7h0M479.0 334.3h0M480.1 334.0h0M479.5 335.7h0M479.5 337.2h0M479.5 338.7h0M479.5 340.2h0" stroke="#5cc3f5" stroke-width="3.1" stroke-linecap="round"/>
<rect x="489.6" y="308.6" width="10.2" height="21.46" fill="#f4f4f4" stroke="#9c9c9c" stroke-width="0.85"/>
<path d="M489.6 321.72L499.8 321.72" stroke="#9c9c9c" stroke-width="0.85"/>
<path d="M494.7 287.83L494.7 308.6" stroke="#9c9c9c" stroke-width="0.85"/>
<path d="M494.7 330.06L494.7 337.71" stroke="#9c9c9c" stroke-width="0.85"/>
<path d="M492.4 287.83L497 287.83" stroke="#9c9c9c" stroke-width="0.85"/>
<path d="M492.4 337.71L497 337.71" stroke="#9c9c9c" stroke-width="0.85"/>
<circle cx="494.7" cy="287.8" r="1.15" fill="none" stroke="#1c7cf0" stroke-width="0.85"/>
<circle cx="494.7" cy="289.9" r="1.15" fill="none" stroke="#1c7cf0" stroke-width="0.85"/>
<circle cx="494.7" cy="291.7" r="1.15" fill="none" stroke="#1c7cf0" stroke-width="0.85"/>
<circle cx="494.7" cy="293.6" r="1.15" fill="none" stroke="#1c7cf0" stroke-width="0.85"/>
<circle cx="494.7" cy="295.9" r="1.15" fill="none" stroke="#1c7cf0" stroke-width="0.85"/>
<circle cx="494.7" cy="297.6" r="1.15" fill="none" stroke="#1c7cf0" stroke-width="0.85"/>
<circle cx="494.7" cy="300.0" r="1.15" fill="none" stroke="#1c7cf0" stroke-width="0.85"/>
<circle cx="493.5" cy="301.8" r="1.15" fill="none" stroke="#1c7cf0" stroke-width="0.85"/>
<circle cx="494.1" cy="301.9" r="1.15" fill="none" stroke="#1c7cf0" stroke-width="0.85"/>
<circle cx="495.7" cy="301.9" r="1.15" fill="none" stroke="#1c7cf0" stroke-width="0.85"/>
<circle cx="492.6" cy="303.9" r="1.15" fill="none" stroke="#1c7cf0" stroke-width="0.85"/>
<circle cx="494.9" cy="303.8" r="1.15" fill="none" stroke="#1c7cf0" stroke-width="0.85"/>
<circle cx="496.8" cy="303.7" r="1.15" fill="none" stroke="#1c7cf0" stroke-width="0.85"/>
<circle cx="493.1" cy="306.0" r="1.15" fill="none" stroke="#1c7cf0" stroke-width="0.85"/>
<circle cx="494.3" cy="305.9" r="1.15" fill="none" stroke="#1c7cf0" stroke-width="0.85"/>
<circle cx="496.0" cy="305.9" r="1.15" fill="none" stroke="#1c7cf0" stroke-width="0.85"/>
<circle cx="493.1" cy="307.8" r="1.15" fill="none" stroke="#1c7cf0" stroke-width="0.85"/>
<circle cx="494.5" cy="307.8" r="1.15" fill="none" stroke="#1c7cf0" stroke-width="0.85"/>
<circle cx="496.7" cy="307.6" r="1.15" fill="none" stroke="#1c7cf0" stroke-width="0.85"/>
<circle cx="492.9" cy="309.8" r="1.15" fill="none" stroke="#1c7cf0" stroke-width="0.85"/>
<circle cx="494.4" cy="309.9" r="1.15" fill="none" stroke="#1c7cf0" stroke-width="0.85"/>
<circle cx="496.3" cy="309.7" r="1.15" fill="none" stroke="#1c7cf0" stroke-width="0.85"/>
<circle cx="493.0" cy="311.5" r="1.15" fill="none" stroke="#1c7cf0" stroke-width="0.85"/>
<circle cx="494.5" cy="311.6" r="1.15" fill="none" stroke="#1c7cf0" stroke-width="0.85"/>
<circle cx="496.3" cy="312.0" r="1.15" fill="none" stroke="#1c7cf0" stroke-width="0.85"/>
<circle cx="493.4" cy="313.9" r="1.15" fill="none" stroke="#1c7cf0" stroke-width="0.85"/>
<circle cx="494.1" cy="313.7" r="1.15" fill="none" stroke="#1c7cf0" stroke-width="0.85"/>
<circle cx="496.1" cy="313.9" r="1.15" fill="none" stroke="#1c7cf0" stroke-width="0.85"/>
<circle cx="494.0" cy="315.8" r="1.15" fill="none" stroke="#1c7cf0" stroke-width="0.85"/>
<circle cx="495.5" cy="315.7" r="1.15" fill="none" stroke="#1c7cf0" stroke-width="0.85"/>
<circle cx="494.7" cy="317.6" r="1.15" fill="none" stroke="#1c7cf0" stroke-width="0.85"/>
<circle cx="494.7" cy="319.6" r="1.15" fill="none" stroke="#1c7cf0" stroke-width="0.85"/>
<circle cx="494.7" cy="321.9" r="1.15" fill="none" stroke="#1c7cf0" stroke-width="0.85"/>
<circle cx="492.0" cy="323.5" r="1.15" fill="none" stroke="#1c7cf0" stroke-width="0.85"/>
<circle cx="493.8" cy="323.6" r="1.15" fill="none" stroke="#1c7cf0" stroke-width="0.85"/>
<circle cx="495.8" cy="323.8" r="1.15" fill="none" stroke="#1c7cf0" stroke-width="0.85"/>
<circle cx="497.5" cy="323.7" r="1.15" fill="none" stroke="#1c7cf0" stroke-width="0.85"/>
<circle cx="491.9" cy="325.6" r="1.15" fill="none" stroke="#1c7cf0" stroke-width="0.85"/>
<circle cx="494.1" cy="325.9" r="1.15" fill="none" stroke="#1c7cf0" stroke-width="0.85"/>
<circle cx="495.1" cy="326.0" r="1.15" fill="none" stroke="#1c7cf0" stroke-width="0.85"/>
<circle cx="497.3" cy="325.5" r="1.15" fill="none" stroke="#1c7cf0" stroke-width="0.85"/>
<circle cx="491.6" cy="327.7" r="1.15" fill="none" stroke="#1c7cf0" stroke-width="0.85"/>
<circle cx="493.9" cy="327.7" r="1.15" fill="none" stroke="#1c7cf0" stroke-width="0.85"/>
<circle cx="495.7" cy="328.0" r="1.15" fill="none" stroke="#1c7cf0" stroke-width="0.85"/>
<circle cx="497.7" cy="327.6" r="1.15" fill="none" stroke="#1c7cf0" stroke-width="0.85"/>
<circle cx="492.6" cy="329.5" r="1.15" fill="none" stroke="#1c7cf0" stroke-width="0.85"/>
<circle cx="494.1" cy="329.6" r="1.15" fill="none" stroke="#1c7cf0" stroke-width="0.85"/>
<circle cx="494.9" cy="329.9" r="1.15" fill="none" stroke="#1c7cf0" stroke-width="0.85"/>
<circle cx="496.8" cy="329.6" r="1.15" fill="none" stroke="#1c7cf0" stroke-width="0.85"/>
<circle cx="491.3" cy="331.8" r="1.15" fill="none" stroke="#1c7cf0" stroke-width="0.85"/>
<circle cx="493.8" cy="331.5" r="1.15" fill="none" stroke="#1c7cf0" stroke-width="0.85"/>
<circle cx="495.9" cy="331.5" r="1.15" fill="none" stroke="#1c7cf0" stroke-width="0.85"/>
<circle cx="498.0" cy="331.8" r="1.15" fill="none" stroke="#1c7cf0" stroke-width="0.85"/>
<circle cx="492.1" cy="333.7" r="1.15" fill="none" stroke="#1c7cf0" stroke-width="0.85"/>
<circle cx="494.0" cy="333.8" r="1.15" fill="none" stroke="#1c7cf0" stroke-width="0.85"/>
<circle cx="495.1" cy="333.7" r="1.15" fill="none" stroke="#1c7cf0" stroke-width="0.85"/>
<circle cx="497.4" cy="333.7" r="1.15" fill="none" stroke="#1c7cf0" stroke-width="0.85"/>
<circle cx="493.4" cy="335.8" r="1.15" fill="none" stroke="#1c7cf0" stroke-width="0.85"/>
<circle cx="496.2" cy="335.5" r="1.15" fill="none" stroke="#1c7cf0" stroke-width="0.85"/>
<circle cx="494.7" cy="337.7" r="1.15" fill="none" stroke="#1c7cf0" stroke-width="0.85"/>
<rect x="505.2" y="301.22" width="10.2" height="28.84" fill="#e4e4e4" stroke="#9c9c9c" stroke-width="0.85"/>
<path d="M505.2 313.38L515.4 313.38" stroke="#9c9c9c" stroke-width="0.85"/>
<path d="M510.3 298.76L510.3 301.22" stroke="#9c9c9c" stroke-width="0.85"/>
<path d="M510.3 330.06L510.3 333.88" stroke="#9c9c9c" stroke-width="0.85"/>
<path d="M508 298.76L512.6 298.76" stroke="#9c9c9c" stroke-width="0.85"/>
<path d="M508 333.88L512.6 333.88" stroke="#9c9c9c" stroke-width="0.85"/>
<circle cx="510.3" cy="298.8" r="1.15" fill="none" stroke="#2f5d9e" stroke-width="0.85"/>
<circle cx="510.3" cy="306.8" r="1.15" fill="none" stroke="#2f5d9e" stroke-width="0.85"/>
<circle cx="510.3" cy="319.5" r="1.15" fill="none" stroke="#2f5d9e" stroke-width="0.85"/>
<circle cx="510.3" cy="333.9" r="1.15" fill="none" stroke="#2f5d9e" stroke-width="0.85"/>
<text transform="translate(11.4,413.63) scale(0.8,1)" font-size="15.4" fill="#1a1a1a" stroke="#1a1a1a" stroke-width="0.42" letter-spacing="0.5">D.</text>
<text transform="translate(87.2,407.6) scale(0.85,1)" font-size="7.4" text-anchor="middle" font-weight="bold" fill="#1a1a1a"><tspan font-style="italic">SLC25A13</tspan> (Citrin)</text>
<path d="M46.5 419.3L46.5 501.4" stroke="#666" stroke-width="1.0"/>
<path d="M46 501.4L128.6 501.4" stroke="#666" stroke-width="1.0"/>
<path d="M43.4 419.3L46.5 419.3" stroke="#666" stroke-width="0.8"/>
<text transform="translate(41.3,421.8) scale(0.72,1)" font-size="7.0" text-anchor="end" fill="#444" stroke="#444" stroke-width="0.22">4</text>
<path d="M43.4 439.82L46.5 439.82" stroke="#666" stroke-width="0.8"/>
<text transform="translate(41.3,442.32) scale(0.72,1)" font-size="7.0" text-anchor="end" fill="#444" stroke="#444" stroke-width="0.22">2</text>
<path d="M43.4 460.35L46.5 460.35" stroke="#666" stroke-width="0.8"/>
<text transform="translate(41.3,462.85) scale(0.72,1)" font-size="7.0" text-anchor="end" fill="#444" stroke="#444" stroke-width="0.22">0</text>
<path d="M43.4 480.88L46.5 480.88" stroke="#666" stroke-width="0.8"/>
<text transform="translate(41.3,483.38) scale(0.72,1)" font-size="7.0" text-anchor="end" fill="#444" stroke="#444" stroke-width="0.22">-2</text>
<path d="M43.4 501.4L46.5 501.4" stroke="#666" stroke-width="0.8"/>
<text transform="translate(41.3,503.9) scale(0.72,1)" font-size="7.0" text-anchor="end" fill="#444" stroke="#444" stroke-width="0.22">-4</text>
<path d="M56.7 501.4L56.7 504.2" stroke="#666" stroke-width="0.8"/>
<path d="M71.9 501.4L71.9 504.2" stroke="#666" stroke-width="0.8"/>
<path d="M87.1 501.4L87.1 504.2" stroke="#666" stroke-width="0.8"/>
<path d="M102.4 501.4L102.4 504.2" stroke="#666" stroke-width="0.8"/>
<path d="M117.6 501.4L117.6 504.2" stroke="#666" stroke-width="0.8"/>
<text transform="translate(33.2,460.35) rotate(-90) scale(0.84,1)" font-size="6.6" text-anchor="middle" fill="#3a3a3a" stroke="#3a3a3a" stroke-width="0.08">z-score</text>
<rect x="82" y="457.48" width="10.2" height="13.96" fill="#f4f4f4" stroke="#9c9c9c" stroke-width="0.85"/>
<path d="M82 463.43L92.2 463.43" stroke="#9c9c9c" stroke-width="0.85"/>
<path d="M87.1 439.21L87.1 457.48" stroke="#9c9c9c" stroke-width="0.85"/>
<path d="M87.1 471.43L87.1 492.47" stroke="#9c9c9c" stroke-width="0.85"/>
<path d="M84.8 439.21L89.4 439.21" stroke="#9c9c9c" stroke-width="0.85"/>
<path d="M84.8 492.47L89.4 492.47" stroke="#9c9c9c" stroke-width="0.85"/>
<circle cx="87.1" cy="439.2" r="1.15" fill="none" stroke="#5cc3f5" stroke-width="0.85"/>
<circle cx="87.1" cy="442.9" r="1.15" fill="none" stroke="#5cc3f5" stroke-width="0.85"/>
<circle cx="87.1" cy="449.7" r="1.15" fill="none" stroke="#5cc3f5" stroke-width="0.85"/>
<circle cx="85.6" cy="453.0" r="1.15" fill="none" stroke="#5cc3f5" stroke-width="0.85"/>
<circle cx="88.6" cy="453.0" r="1.15" fill="none" stroke="#5cc3f5" stroke-width="0.85"/>
<circle cx="84.1" cy="455.7" r="1.15" fill="none" stroke="#5cc3f5" stroke-width="0.85"/>
<circle cx="87.1" cy="455.7" r="1.15" fill="none" stroke="#5cc3f5" stroke-width="0.85"/>
<circle cx="90.1" cy="455.7" r="1.15" fill="none" stroke="#5cc3f5" stroke-width="0.85"/>
<circle cx="85.6" cy="458.3" r="1.15" fill="none" stroke="#5cc3f5" stroke-width="0.85"/>
<circle cx="88.6" cy="458.3" r="1.15" fill="none" stroke="#5cc3f5" stroke-width="0.85"/>
<circle cx="83.6" cy="460.4" r="1.15" fill="none" stroke="#5cc3f5" stroke-width="0.85"/>
<circle cx="87.1" cy="460.4" r="1.15" fill="none" stroke="#5cc3f5" stroke-width="0.85"/>
<circle cx="90.6" cy="460.4" r="1.15" fill="none" stroke="#5cc3f5" stroke-width="0.85"/>
<circle cx="85.1" cy="462.4" r="1.15" fill="none" stroke="#5cc3f5" stroke-width="0.85"/>
<circle cx="89.1" cy="462.4" r="1.15" fill="none" stroke="#5cc3f5" stroke-width="0.85"/>
<circle cx="83.6" cy="464.5" r="1.15" fill="none" stroke="#5cc3f5" stroke-width="0.85"/>
<circle cx="87.1" cy="464.5" r="1.15" fill="none" stroke="#5cc3f5" stroke-width="0.85"/>
<circle cx="90.6" cy="464.5" r="1.15" fill="none" stroke="#5cc3f5" stroke-width="0.85"/>
<circle cx="85.1" cy="466.5" r="1.15" fill="none" stroke="#5cc3f5" stroke-width="0.85"/>
<circle cx="89.1" cy="466.5" r="1.15" fill="none" stroke="#5cc3f5" stroke-width="0.85"/>
<circle cx="83.6" cy="468.6" r="1.15" fill="none" stroke="#5cc3f5" stroke-width="0.85"/>
<circle cx="87.1" cy="468.6" r="1.15" fill="none" stroke="#5cc3f5" stroke-width="0.85"/>
<circle cx="90.6" cy="468.6" r="1.15" fill="none" stroke="#5cc3f5" stroke-width="0.85"/>
<circle cx="85.1" cy="470.6" r="1.15" fill="none" stroke="#5cc3f5" stroke-width="0.85"/>
<circle cx="89.1" cy="470.6" r="1.15" fill="none" stroke="#5cc3f5" stroke-width="0.85"/>
<circle cx="85.6" cy="474.0" r="1.15" fill="none" stroke="#5cc3f5" stroke-width="0.85"/>
<circle cx="88.6" cy="474.0" r="1.15" fill="none" stroke="#5cc3f5" stroke-width="0.85"/>
<circle cx="85.6" cy="478.5" r="1.15" fill="none" stroke="#5cc3f5" stroke-width="0.85"/>
<circle cx="88.6" cy="478.5" r="1.15" fill="none" stroke="#5cc3f5" stroke-width="0.85"/>
<circle cx="86.1" cy="481.1" r="1.15" fill="none" stroke="#5cc3f5" stroke-width="0.85"/>
<circle cx="88.6" cy="481.1" r="1.15" fill="none" stroke="#5cc3f5" stroke-width="0.85"/>
<circle cx="87.1" cy="483.6" r="1.15" fill="none" stroke="#5cc3f5" stroke-width="0.85"/>
<circle cx="87.1" cy="488.1" r="1.15" fill="none" stroke="#5cc3f5" stroke-width="0.85"/>
<circle cx="87.1" cy="492.5" r="1.15" fill="none" stroke="#5cc3f5" stroke-width="0.85"/>
<rect x="97.3" y="452.96" width="10.2" height="10.47" fill="#f4f4f4" stroke="#9c9c9c" stroke-width="0.85"/>
<path d="M97.3 458.3L107.5 458.3" stroke="#9c9c9c" stroke-width="0.85"/>
<path d="M102.4 436.64L102.4 452.96" stroke="#9c9c9c" stroke-width="0.85"/>
<path d="M102.4 463.43L102.4 493.81" stroke="#9c9c9c" stroke-width="0.85"/>
<path d="M100.1 436.64L104.7 436.64" stroke="#9c9c9c" stroke-width="0.85"/>
<path d="M100.1 493.81L104.7 493.81" stroke="#9c9c9c" stroke-width="0.85"/>
<path d="M102.4 436.6h0M102.4 438.1h0M102.4 439.5h0M102.4 441.4h0M102.4 442.6h0M101.7 444.2h0M103.2 444.5h0M101.6 446.0h0M103.1 445.7h0M100.6 447.3h0M102.2 447.4h0M104.5 447.5h0M99.4 448.9h0M100.8 448.6h0M102.3 449.1h0M104.0 448.8h0M105.2 448.8h0M99.6 450.2h0M100.8 450.5h0M102.4 450.2h0M103.8 450.1h0M105.3 450.5h0M98.7 452.1h0M100.2 451.9h0M101.5 451.9h0M102.9 452.0h0M104.6 451.7h0M105.9 452.1h0M98.9 453.3h0M100.6 453.5h0M102.4 453.2h0M104.1 453.3h0M105.9 453.6h0M98.9 454.9h0M100.5 454.7h0M101.6 454.9h0M103.1 454.7h0M104.4 455.0h0M105.9 455.1h0M99.5 456.5h0M100.9 456.5h0M102.4 456.3h0M103.9 456.5h0M105.6 456.4h0M98.7 458.0h0M100.5 458.0h0M101.5 458.0h0M103.1 457.7h0M104.3 457.8h0M105.9 457.8h0M98.3 459.5h0M100.0 459.5h0M101.7 459.5h0M103.3 459.7h0M104.9 459.5h0M106.3 459.7h0M99.4 461.1h0M100.9 461.1h0M102.4 461.2h0M104.2 461.2h0M105.7 461.0h0M98.5 462.8h0M100.3 462.8h0M101.9 462.8h0M103.2 462.5h0M104.7 462.4h0M106.0 462.8h0M99.0 463.9h0M100.6 464.0h0M102.6 464.3h0M104.2 464.1h0M105.7 464.2h0M99.1 465.7h0M100.7 465.5h0M102.5 465.7h0M104.1 465.5h0M105.9 465.8h0M98.8 466.9h0M100.0 466.9h0M101.7 467.0h0M103.2 467.3h0M104.7 467.0h0M106.0 467.2h0M99.6 468.6h0M101.0 468.8h0M102.4 468.6h0M103.8 468.7h0M105.3 468.8h0M100.2 470.3h0M101.7 470.4h0M103.4 470.0h0M104.6 470.4h0M100.6 471.6h0M101.7 471.8h0M102.9 471.6h0M104.4 471.5h0M100.5 473.1h0M101.6 473.5h0M103.1 473.3h0M104.6 473.5h0M101.5 474.6h0M103.5 474.8h0M101.3 476.4h0M102.2 476.2h0M103.5 476.4h0M101.6 478.0h0M103.0 477.9h0M102.4 479.4h0M102.4 480.9h0M102.4 483.4h0M102.4 486.0h0M102.4 488.6h0M102.4 491.1h0M102.4 493.8h0" stroke="#1c7cf0" stroke-width="3.1" stroke-linecap="round"/>
<rect x="112.5" y="448.55" width="10.2" height="12.73" fill="#e4e4e4" stroke="#9c9c9c" stroke-width="0.85"/>
<path d="M112.5 451.11L122.7 451.11" stroke="#9c9c9c" stroke-width="0.85"/>
<path d="M117.6 445.98L117.6 448.55" stroke="#9c9c9c" stroke-width="0.85"/>
<path d="M117.6 461.27L117.6 467.23" stroke="#9c9c9c" stroke-width="0.85"/>
<path d="M115.3 445.98L119.9 445.98" stroke="#9c9c9c" stroke-width="0.85"/>
<path d="M115.3 467.23L119.9 467.23" stroke="#9c9c9c" stroke-width="0.85"/>
<circle cx="117.6" cy="446.0" r="1.15" fill="none" stroke="#2f5d9e" stroke-width="0.85"/>
<circle cx="114.3" cy="449.2" r="1.15" fill="none" stroke="#2f5d9e" stroke-width="0.85"/>
<circle cx="119.8" cy="449.2" r="1.15" fill="none" stroke="#2f5d9e" stroke-width="0.85"/>
<circle cx="114.7" cy="452.3" r="1.15" fill="none" stroke="#2f5d9e" stroke-width="0.85"/>
<circle cx="117.6" cy="459.9" r="1.15" fill="none" stroke="#2f5d9e" stroke-width="0.85"/>
<circle cx="117.6" cy="467.2" r="1.15" fill="none" stroke="#2f5d9e" stroke-width="0.85"/>
<text transform="translate(106,498.9) scale(0.8,1)" font-size="6.7" fill="#444" stroke="#444" stroke-width="0.12">p = 0.0005</text>
<text transform="translate(146.9,413.63) scale(0.8,1)" font-size="15.4" fill="#1a1a1a" stroke="#1a1a1a" stroke-width="0.42" letter-spacing="0.5">H.</text>
<text transform="translate(218.5,407.6) scale(0.85,1)" font-size="7.4" text-anchor="middle" font-weight="bold" fill="#1a1a1a"><tspan font-style="italic">SLC25A13</tspan> (Citrin)</text>
<path d="M177 419.1L177 501.4" stroke="#666" stroke-width="1.0"/>
<path d="M176.5 501.4L259.6 501.4" stroke="#666" stroke-width="1.0"/>
<path d="M173.9 419.1L177 419.1" stroke="#666" stroke-width="0.8"/>
<text transform="translate(171.8,421.6) scale(0.72,1)" font-size="7.0" text-anchor="end" fill="#444" stroke="#444" stroke-width="0.22">4</text>
<path d="M173.9 439.68L177 439.68" stroke="#666" stroke-width="0.8"/>
<text transform="translate(171.8,442.18) scale(0.72,1)" font-size="7.0" text-anchor="end" fill="#444" stroke="#444" stroke-width="0.22">2</text>
<path d="M173.9 460.25L177 460.25" stroke="#666" stroke-width="0.8"/>
<text transform="translate(171.8,462.75) scale(0.72,1)" font-size="7.0" text-anchor="end" fill="#444" stroke="#444" stroke-width="0.22">0</text>
<path d="M173.9 480.82L177 480.82" stroke="#666" stroke-width="0.8"/>
<text transform="translate(171.8,483.32) scale(0.72,1)" font-size="7.0" text-anchor="end" fill="#444" stroke="#444" stroke-width="0.22">-2</text>
<path d="M173.9 501.4L177 501.4" stroke="#666" stroke-width="0.8"/>
<text transform="translate(171.8,503.9) scale(0.72,1)" font-size="7.0" text-anchor="end" fill="#444" stroke="#444" stroke-width="0.22">-4</text>
<path d="M187.2 501.4L187.2 504.2" stroke="#666" stroke-width="0.8"/>
<path d="M202.6 501.4L202.6 504.2" stroke="#666" stroke-width="0.8"/>
<path d="M218.1 501.4L218.1 504.2" stroke="#666" stroke-width="0.8"/>
<path d="M233.4 501.4L233.4 504.2" stroke="#666" stroke-width="0.8"/>
<path d="M248.6 501.4L248.6 504.2" stroke="#666" stroke-width="0.8"/>
<text transform="translate(163.7,460.25) rotate(-90) scale(0.84,1)" font-size="6.6" text-anchor="middle" fill="#3a3a3a" stroke="#3a3a3a" stroke-width="0.08">z-score</text>
<rect x="213" y="463.85" width="10.2" height="11.83" fill="#f4f4f4" stroke="#9c9c9c" stroke-width="0.85"/>
<path d="M213 469.51L223.2 469.51" stroke="#9c9c9c" stroke-width="0.85"/>
<path d="M218.1 438.34L218.1 463.85" stroke="#9c9c9c" stroke-width="0.85"/>
<path d="M218.1 475.68L218.1 489.36" stroke="#9c9c9c" stroke-width="0.85"/>
<path d="M215.8 438.34L220.4 438.34" stroke="#9c9c9c" stroke-width="0.85"/>
<path d="M215.8 489.36L220.4 489.36" stroke="#9c9c9c" stroke-width="0.85"/>
<circle cx="218.1" cy="438.3" r="1.15" fill="none" stroke="#5cc3f5" stroke-width="0.85"/>
<circle cx="218.1" cy="454.8" r="1.15" fill="none" stroke="#5cc3f5" stroke-width="0.85"/>
<circle cx="218.1" cy="457.5" r="1.15" fill="none" stroke="#5cc3f5" stroke-width="0.85"/>
<circle cx="218.1" cy="460.7" r="1.15" fill="none" stroke="#5cc3f5" stroke-width="0.85"/>
<circle cx="216.1" cy="463.9" r="1.15" fill="none" stroke="#5cc3f5" stroke-width="0.85"/>
<circle cx="220.1" cy="463.9" r="1.15" fill="none" stroke="#5cc3f5" stroke-width="0.85"/>
<circle cx="214.6" cy="465.4" r="1.15" fill="none" stroke="#5cc3f5" stroke-width="0.85"/>
<circle cx="218.1" cy="465.9" r="1.15" fill="none" stroke="#5cc3f5" stroke-width="0.85"/>
<circle cx="221.6" cy="466.4" r="1.15" fill="none" stroke="#5cc3f5" stroke-width="0.85"/>
<circle cx="216.1" cy="468.0" r="1.15" fill="none" stroke="#5cc3f5" stroke-width="0.85"/>
<circle cx="220.1" cy="468.5" r="1.15" fill="none" stroke="#5cc3f5" stroke-width="0.85"/>
<circle cx="214.6" cy="470.0" r="1.15" fill="none" stroke="#5cc3f5" stroke-width="0.85"/>
<circle cx="218.1" cy="470.5" r="1.15" fill="none" stroke="#5cc3f5" stroke-width="0.85"/>
<circle cx="221.6" cy="470.5" r="1.15" fill="none" stroke="#5cc3f5" stroke-width="0.85"/>
<circle cx="216.1" cy="472.6" r="1.15" fill="none" stroke="#5cc3f5" stroke-width="0.85"/>
<circle cx="220.1" cy="473.1" r="1.15" fill="none" stroke="#5cc3f5" stroke-width="0.85"/>
<circle cx="218.1" cy="475.2" r="1.15" fill="none" stroke="#5cc3f5" stroke-width="0.85"/>
<circle cx="218.1" cy="477.7" r="1.15" fill="none" stroke="#5cc3f5" stroke-width="0.85"/>
<circle cx="216.6" cy="480.4" r="1.15" fill="none" stroke="#5cc3f5" stroke-width="0.85"/>
<circle cx="219.6" cy="480.4" r="1.15" fill="none" stroke="#5cc3f5" stroke-width="0.85"/>
<circle cx="218.1" cy="482.3" r="1.15" fill="none" stroke="#5cc3f5" stroke-width="0.85"/>
<circle cx="218.1" cy="486.0" r="1.15" fill="none" stroke="#5cc3f5" stroke-width="0.85"/>
<circle cx="218.1" cy="489.4" r="1.15" fill="none" stroke="#5cc3f5" stroke-width="0.85"/>
<rect x="228.3" y="452.95" width="10.2" height="11.21" fill="#f4f4f4" stroke="#9c9c9c" stroke-width="0.85"/>
<path d="M228.3 458.71L238.5 458.71" stroke="#9c9c9c" stroke-width="0.85"/>
<path d="M233.4 432.47L233.4 452.95" stroke="#9c9c9c" stroke-width="0.85"/>
<path d="M233.4 464.16L233.4 480.41" stroke="#9c9c9c" stroke-width="0.85"/>
<path d="M231.1 432.47L235.7 432.47" stroke="#9c9c9c" stroke-width="0.85"/>
<path d="M231.1 480.41L235.7 480.41" stroke="#9c9c9c" stroke-width="0.85"/>
<path d="M233.4 432.7h0M233.4 434.2h0M233.0 435.7h0M233.6 435.7h0M233.0 437.2h0M233.9 437.0h0M233.4 438.8h0M233.1 440.0h0M234.1 440.4h0M233.4 441.5h0M233.4 443.2h0M232.6 444.5h0M234.1 444.5h0M231.8 446.4h0M233.4 446.3h0M235.0 446.3h0M231.7 447.9h0M232.9 447.9h0M233.9 447.6h0M235.1 447.6h0M230.7 449.1h0M232.2 449.1h0M233.2 449.4h0M235.0 449.0h0M236.5 449.2h0M230.6 450.5h0M231.8 450.8h0M233.3 450.5h0M235.0 450.9h0M236.2 450.5h0M230.6 452.0h0M231.9 452.0h0M233.2 452.2h0M234.7 452.3h0M236.2 452.3h0M229.8 453.6h0M231.5 453.9h0M232.9 453.6h0M234.0 453.6h0M235.5 453.9h0M237.1 453.5h0M230.3 455.1h0M231.7 455.1h0M233.2 455.0h0M234.9 455.2h0M236.5 455.3h0M229.9 456.9h0M231.5 456.7h0M232.5 456.5h0M234.3 456.9h0M235.3 456.6h0M237.1 456.8h0M230.4 458.4h0M231.8 458.3h0M233.2 458.0h0M234.9 458.4h0M236.5 458.3h0M229.4 459.8h0M231.1 459.5h0M232.5 459.5h0M234.4 459.7h0M235.7 459.8h0M237.2 459.9h0M230.4 461.1h0M231.8 461.0h0M233.4 461.1h0M234.8 461.0h0M236.6 461.4h0M229.7 462.8h0M230.9 462.5h0M232.9 462.5h0M234.4 462.8h0M235.7 462.5h0M237.3 462.7h0M229.9 464.5h0M231.9 464.2h0M233.5 464.4h0M235.2 464.3h0M236.7 464.4h0M230.4 465.9h0M231.9 465.7h0M233.4 465.9h0M234.9 465.8h0M236.6 465.8h0M231.8 467.3h0M233.5 467.4h0M235.4 467.2h0M231.4 468.7h0M232.8 468.5h0M234.2 468.5h0M235.4 468.7h0M231.4 470.2h0M232.6 470.4h0M234.0 470.0h0M235.3 470.3h0M232.0 471.9h0M233.6 471.7h0M235.0 471.6h0M232.3 473.2h0M233.6 473.4h0M234.7 473.2h0M232.5 474.5h0M234.5 474.9h0M232.6 476.4h0M234.0 476.1h0M233.4 477.6h0M233.4 479.3h0M233.4 480.7h0" stroke="#1c7cf0" stroke-width="3.1" stroke-linecap="round"/>
<rect x="243.5" y="446.67" width="10.2" height="13.27" fill="#e4e4e4" stroke="#9c9c9c" stroke-width="0.85"/>
<path d="M243.5 451.71L253.7 451.71" stroke="#9c9c9c" stroke-width="0.85"/>
<path d="M248.6 446.36L248.6 446.67" stroke="#9c9c9c" stroke-width="0.85"/>
<path d="M248.6 459.94L248.6 461.28" stroke="#9c9c9c" stroke-width="0.85"/>
<path d="M246.3 446.36L250.9 446.36" stroke="#9c9c9c" stroke-width="0.85"/>
<path d="M246.3 461.28L250.9 461.28" stroke="#9c9c9c" stroke-width="0.85"/>
<circle cx="245.8" cy="446.4" r="1.15" fill="none" stroke="#2f5d9e" stroke-width="0.85"/>
<circle cx="250.9" cy="446.9" r="1.15" fill="none" stroke="#2f5d9e" stroke-width="0.85"/>
<circle cx="248.6" cy="451.9" r="1.15" fill="none" stroke="#2f5d9e" stroke-width="0.85"/>
<circle cx="248.6" cy="457.5" r="1.15" fill="none" stroke="#2f5d9e" stroke-width="0.85"/>
<circle cx="248.6" cy="461.3" r="1.15" fill="none" stroke="#2f5d9e" stroke-width="0.85"/>
<text transform="translate(236.2,497.9) scale(0.8,1)" font-size="6.7" fill="#444" stroke="#444" stroke-width="0.12"><tspan font-style="italic">p</tspan> &lt; 0.0001</text>
<text transform="translate(283.9,413.63) scale(0.8,1)" font-size="15.4" fill="#1a1a1a" stroke="#1a1a1a" stroke-width="0.42" letter-spacing="0.5">L.</text>
<text transform="translate(349.9,409.3) scale(0.85,1)" font-size="7.4" text-anchor="middle" font-weight="bold" fill="#1a1a1a"><tspan font-style="italic">SLC25A13</tspan> (Citrin)</text>
<path d="M308.4 421.4L308.4 502.8" stroke="#666" stroke-width="1.0"/>
<path d="M307.9 502.8L389.5 502.8" stroke="#666" stroke-width="1.0"/>
<path d="M305.3 421.4L308.4 421.4" stroke="#666" stroke-width="0.8"/>
<text transform="translate(303.2,423.9) scale(0.72,1)" font-size="7.0" text-anchor="end" fill="#444" stroke="#444" stroke-width="0.22">20</text>
<path d="M305.3 437.68L308.4 437.68" stroke="#666" stroke-width="0.8"/>
<text transform="translate(303.2,440.18) scale(0.72,1)" font-size="7.0" text-anchor="end" fill="#444" stroke="#444" stroke-width="0.22">15</text>
<path d="M305.3 453.96L308.4 453.96" stroke="#666" stroke-width="0.8"/>
<text transform="translate(303.2,456.46) scale(0.72,1)" font-size="7.0" text-anchor="end" fill="#444" stroke="#444" stroke-width="0.22">10</text>
<path d="M305.3 470.24L308.4 470.24" stroke="#666" stroke-width="0.8"/>
<text transform="translate(303.2,472.74) scale(0.72,1)" font-size="7.0" text-anchor="end" fill="#444" stroke="#444" stroke-width="0.22">5</text>
<path d="M305.3 486.52L308.4 486.52" stroke="#666" stroke-width="0.8"/>
<text transform="translate(303.2,489.02) scale(0.72,1)" font-size="7.0" text-anchor="end" fill="#444" stroke="#444" stroke-width="0.22">0</text>
<path d="M305.3 502.8L308.4 502.8" stroke="#666" stroke-width="0.8"/>
<text transform="translate(303.2,505.3) scale(0.72,1)" font-size="7.0" text-anchor="end" fill="#444" stroke="#444" stroke-width="0.22">-5</text>
<path d="M319 502.8L319 505.6" stroke="#666" stroke-width="0.8"/>
<path d="M334.1 502.8L334.1 505.6" stroke="#666" stroke-width="0.8"/>
<path d="M349 502.8L349 505.6" stroke="#666" stroke-width="0.8"/>
<path d="M363.9 502.8L363.9 505.6" stroke="#666" stroke-width="0.8"/>
<path d="M378.6 502.8L378.6 505.6" stroke="#666" stroke-width="0.8"/>
<text transform="translate(293,462.1) rotate(-90) scale(0.84,1)" font-size="6.6" text-anchor="middle" fill="#3a3a3a" stroke="#3a3a3a" stroke-width="0.08">z-score</text>
<path d="M315 493.03L323 493.03" stroke="#9c9c9c" stroke-width="0.85"/>
<circle cx="316.8" cy="493.0" r="1.15" fill="none" stroke="#9b2d3a" stroke-width="0.85"/>
<circle cx="321.6" cy="493.0" r="1.15" fill="none" stroke="#9b2d3a" stroke-width="0.85"/>
<rect x="329" y="472.65" width="10.2" height="15.95" fill="#f4f4f4" stroke="#9c9c9c" stroke-width="0.85"/>
<path d="M329 481.64L339.2 481.64" stroke="#9c9c9c" stroke-width="0.85"/>
<path d="M334.1 463.08L334.1 472.65" stroke="#9c9c9c" stroke-width="0.85"/>
<path d="M334.1 488.6L334.1 495.31" stroke="#9c9c9c" stroke-width="0.85"/>
<path d="M331.8 463.08L336.4 463.08" stroke="#9c9c9c" stroke-width="0.85"/>
<path d="M331.8 495.31L336.4 495.31" stroke="#9c9c9c" stroke-width="0.85"/>
<circle cx="334.1" cy="463.1" r="1.15" fill="none" stroke="#f5820f" stroke-width="0.85"/>
<circle cx="333.4" cy="465.3" r="1.15" fill="none" stroke="#f5820f" stroke-width="0.85"/>
<circle cx="334.6" cy="465.0" r="1.15" fill="none" stroke="#f5820f" stroke-width="0.85"/>
<circle cx="332.3" cy="467.3" r="1.15" fill="none" stroke="#f5820f" stroke-width="0.85"/>
<circle cx="334.2" cy="467.5" r="1.15" fill="none" stroke="#f5820f" stroke-width="0.85"/>
<circle cx="336.1" cy="467.4" r="1.15" fill="none" stroke="#f5820f" stroke-width="0.85"/>
<circle cx="332.3" cy="469.5" r="1.15" fill="none" stroke="#f5820f" stroke-width="0.85"/>
<circle cx="333.3" cy="469.7" r="1.15" fill="none" stroke="#f5820f" stroke-width="0.85"/>
<circle cx="335.5" cy="469.7" r="1.15" fill="none" stroke="#f5820f" stroke-width="0.85"/>
<circle cx="331.2" cy="471.6" r="1.15" fill="none" stroke="#f5820f" stroke-width="0.85"/>
<circle cx="332.9" cy="471.8" r="1.15" fill="none" stroke="#f5820f" stroke-width="0.85"/>
<circle cx="335.2" cy="471.5" r="1.15" fill="none" stroke="#f5820f" stroke-width="0.85"/>
<circle cx="336.7" cy="471.7" r="1.15" fill="none" stroke="#f5820f" stroke-width="0.85"/>
<circle cx="331.1" cy="474.0" r="1.15" fill="none" stroke="#f5820f" stroke-width="0.85"/>
<circle cx="333.4" cy="473.8" r="1.15" fill="none" stroke="#f5820f" stroke-width="0.85"/>
<circle cx="334.7" cy="473.7" r="1.15" fill="none" stroke="#f5820f" stroke-width="0.85"/>
<circle cx="337.0" cy="473.7" r="1.15" fill="none" stroke="#f5820f" stroke-width="0.85"/>
<circle cx="331.6" cy="475.8" r="1.15" fill="none" stroke="#f5820f" stroke-width="0.85"/>
<circle cx="334.1" cy="475.9" r="1.15" fill="none" stroke="#f5820f" stroke-width="0.85"/>
<circle cx="336.7" cy="476.0" r="1.15" fill="none" stroke="#f5820f" stroke-width="0.85"/>
<circle cx="331.9" cy="477.9" r="1.15" fill="none" stroke="#f5820f" stroke-width="0.85"/>
<circle cx="333.9" cy="478.4" r="1.15" fill="none" stroke="#f5820f" stroke-width="0.85"/>
<circle cx="334.4" cy="478.2" r="1.15" fill="none" stroke="#f5820f" stroke-width="0.85"/>
<circle cx="336.5" cy="478.1" r="1.15" fill="none" stroke="#f5820f" stroke-width="0.85"/>
<circle cx="330.9" cy="480.1" r="1.15" fill="none" stroke="#f5820f" stroke-width="0.85"/>
<circle cx="333.1" cy="480.2" r="1.15" fill="none" stroke="#f5820f" stroke-width="0.85"/>
<circle cx="335.1" cy="480.4" r="1.15" fill="none" stroke="#f5820f" stroke-width="0.85"/>
<circle cx="337.4" cy="480.0" r="1.15" fill="none" stroke="#f5820f" stroke-width="0.85"/>
<circle cx="331.6" cy="482.4" r="1.15" fill="none" stroke="#f5820f" stroke-width="0.85"/>
<circle cx="333.6" cy="482.4" r="1.15" fill="none" stroke="#f5820f" stroke-width="0.85"/>
<circle cx="334.3" cy="482.6" r="1.15" fill="none" stroke="#f5820f" stroke-width="0.85"/>
<circle cx="336.3" cy="482.4" r="1.15" fill="none" stroke="#f5820f" stroke-width="0.85"/>
<circle cx="330.9" cy="484.3" r="1.15" fill="none" stroke="#f5820f" stroke-width="0.85"/>
<circle cx="333.1" cy="484.5" r="1.15" fill="none" stroke="#f5820f" stroke-width="0.85"/>
<circle cx="335.1" cy="484.3" r="1.15" fill="none" stroke="#f5820f" stroke-width="0.85"/>
<circle cx="337.1" cy="484.4" r="1.15" fill="none" stroke="#f5820f" stroke-width="0.85"/>
<circle cx="331.7" cy="486.9" r="1.15" fill="none" stroke="#f5820f" stroke-width="0.85"/>
<circle cx="333.5" cy="486.9" r="1.15" fill="none" stroke="#f5820f" stroke-width="0.85"/>
<circle cx="334.5" cy="486.9" r="1.15" fill="none" stroke="#f5820f" stroke-width="0.85"/>
<circle cx="336.6" cy="486.6" r="1.15" fill="none" stroke="#f5820f" stroke-width="0.85"/>
<circle cx="330.7" cy="488.6" r="1.15" fill="none" stroke="#f5820f" stroke-width="0.85"/>
<circle cx="332.9" cy="489.0" r="1.15" fill="none" stroke="#f5820f" stroke-width="0.85"/>
<circle cx="334.9" cy="488.7" r="1.15" fill="none" stroke="#f5820f" stroke-width="0.85"/>
<circle cx="337.4" cy="488.6" r="1.15" fill="none" stroke="#f5820f" stroke-width="0.85"/>
<circle cx="331.3" cy="491.3" r="1.15" fill="none" stroke="#f5820f" stroke-width="0.85"/>
<circle cx="333.5" cy="490.8" r="1.15" fill="none" stroke="#f5820f" stroke-width="0.85"/>
<circle cx="334.8" cy="491.2" r="1.15" fill="none" stroke="#f5820f" stroke-width="0.85"/>
<circle cx="336.7" cy="491.1" r="1.15" fill="none" stroke="#f5820f" stroke-width="0.85"/>
<circle cx="331.3" cy="493.2" r="1.15" fill="none" stroke="#f5820f" stroke-width="0.85"/>
<circle cx="333.4" cy="493.0" r="1.15" fill="none" stroke="#f5820f" stroke-width="0.85"/>
<circle cx="334.9" cy="493.4" r="1.15" fill="none" stroke="#f5820f" stroke-width="0.85"/>
<circle cx="337.1" cy="493.1" r="1.15" fill="none" stroke="#f5820f" stroke-width="0.85"/>
<circle cx="334.1" cy="495.3" r="1.15" fill="none" stroke="#f5820f" stroke-width="0.85"/>
<rect x="343.9" y="474.15" width="10.2" height="14.98" fill="#f4f4f4" stroke="#9c9c9c" stroke-width="0.85"/>
<path d="M343.9 483.92L354.1 483.92" stroke="#9c9c9c" stroke-width="0.85"/>
<path d="M349 452.33L349 474.15" stroke="#9c9c9c" stroke-width="0.85"/>
<path d="M349 489.12L349 495.31" stroke="#9c9c9c" stroke-width="0.85"/>
<path d="M346.7 452.33L351.3 452.33" stroke="#9c9c9c" stroke-width="0.85"/>
<path d="M346.7 495.31L351.3 495.31" stroke="#9c9c9c" stroke-width="0.85"/>
<path d="M349.0 452.3h0M349.0 454.0h0M349.0 455.4h0M349.0 456.6h0M349.0 458.1h0M349.0 459.8h0M349.0 461.4h0M349.0 462.6h0M349.0 464.4h0M348.8 465.7h0M349.5 465.9h0M348.8 467.2h0M349.5 467.3h0M348.6 468.6h0M349.3 468.7h0M348.3 470.3h0M350.0 470.3h0M348.1 471.7h0M349.8 471.4h0M348.3 473.3h0M349.9 473.1h0M348.2 474.6h0M349.7 474.5h0M347.8 476.0h0M348.8 475.9h0M350.4 476.0h0M347.5 477.6h0M348.8 477.5h0M350.7 477.5h0M347.4 479.1h0M348.9 478.9h0M350.3 479.2h0M346.8 480.4h0M348.2 480.5h0M349.7 480.7h0M350.9 480.6h0M346.4 482.0h0M347.6 481.8h0M349.2 482.2h0M350.4 481.8h0M351.8 482.1h0M345.6 483.5h0M346.9 483.5h0M348.4 483.4h0M349.7 483.4h0M351.1 483.4h0M352.5 483.3h0M345.3 484.8h0M346.8 485.1h0M348.3 485.2h0M349.9 484.9h0M351.0 485.1h0M352.6 484.7h0M345.3 486.5h0M346.7 486.4h0M348.2 486.3h0M349.7 486.4h0M351.5 486.4h0M352.7 486.3h0M345.9 488.1h0M347.6 487.7h0M349.2 488.1h0M350.7 487.8h0M352.0 487.8h0M345.0 489.5h0M346.4 489.6h0M348.0 489.3h0M349.6 489.2h0M351.2 489.5h0M352.7 489.2h0M345.8 491.0h0M347.5 490.7h0M349.0 490.9h0M350.7 490.9h0M352.2 491.0h0M346.3 492.3h0M347.6 492.3h0M349.1 492.4h0M350.6 492.2h0M351.9 492.3h0M347.8 494.1h0M349.0 493.8h0M350.4 493.9h0M349.0 495.3h0" stroke="#5cc3f5" stroke-width="3.1" stroke-linecap="round"/>
<rect x="358.8" y="468.29" width="10.2" height="20.19" fill="#f4f4f4" stroke="#9c9c9c" stroke-width="0.85"/>
<path d="M358.8 481.64L369 481.64" stroke="#9c9c9c" stroke-width="0.85"/>
<path d="M363.9 444.19L363.9 468.29" stroke="#9c9c9c" stroke-width="0.85"/>
<path d="M363.9 488.47L363.9 495.31" stroke="#9c9c9c" stroke-width="0.85"/>
<path d="M361.6 444.19L366.2 444.19" stroke="#9c9c9c" stroke-width="0.85"/>
<path d="M361.6 495.31L366.2 495.31" stroke="#9c9c9c" stroke-width="0.85"/>
<path d="M363.9 444.2h0M363.9 445.5h0M363.9 447.0h0M363.9 448.5h0M363.9 450.1h0M363.9 451.8h0M363.9 453.4h0M363.9 454.8h0M363.9 456.0h0M363.9 457.9h0M363.9 459.1h0M363.9 460.7h0M363.9 462.1h0M363.9 463.5h0M363.7 465.5h0M364.5 465.4h0M363.7 466.6h0M364.4 466.8h0M363.9 468.1h0M363.4 469.9h0M364.5 469.9h0M363.4 471.4h0M364.5 471.2h0M362.9 472.8h0M364.8 472.6h0M362.7 474.1h0M364.0 474.5h0M365.1 474.1h0M362.6 475.9h0M363.9 475.6h0M365.3 475.8h0M361.8 477.2h0M363.1 477.5h0M364.5 477.3h0M365.9 477.1h0M361.6 478.7h0M363.4 478.7h0M364.6 478.7h0M366.1 478.9h0M360.6 480.3h0M362.2 480.4h0M364.1 480.2h0M365.5 480.5h0M366.9 480.1h0M360.6 482.0h0M362.4 481.6h0M363.9 481.8h0M365.7 481.8h0M367.3 481.8h0M360.5 483.3h0M362.4 483.4h0M363.9 483.2h0M365.6 483.4h0M367.3 483.4h0M360.1 484.7h0M361.9 484.5h0M363.1 484.9h0M364.8 485.0h0M366.3 484.6h0M367.5 484.7h0M360.5 486.2h0M362.1 486.1h0M363.7 486.2h0M365.6 486.1h0M367.1 486.2h0M360.2 488.0h0M361.9 487.7h0M363.4 488.0h0M364.5 487.8h0M366.2 487.6h0M367.5 487.9h0M360.1 489.2h0M361.4 489.5h0M363.0 489.4h0M364.8 489.5h0M366.1 489.4h0M367.7 489.1h0M360.4 490.8h0M362.3 491.0h0M364.1 490.8h0M365.6 491.0h0M367.4 490.8h0M361.1 492.5h0M363.1 492.5h0M365.0 492.4h0M366.4 492.2h0M362.5 493.9h0M364.0 493.9h0M365.4 494.0h0M363.9 495.3h0" stroke="#1c7cf0" stroke-width="3.1" stroke-linecap="round"/>
<rect x="374.9" y="450.05" width="10.2" height="15.63" fill="#e4e4e4" stroke="#9c9c9c" stroke-width="0.85"/>
<path d="M374.9 456.24L385.1 456.24" stroke="#9c9c9c" stroke-width="0.85"/>
<path d="M380 430.19L380 450.05" stroke="#9c9c9c" stroke-width="0.85"/>
<path d="M380 465.68L380 481.31" stroke="#9c9c9c" stroke-width="0.85"/>
<path d="M377.7 430.19L382.3 430.19" stroke="#9c9c9c" stroke-width="0.85"/>
<path d="M377.7 481.31L382.3 481.31" stroke="#9c9c9c" stroke-width="0.85"/>
<circle cx="380.0" cy="430.2" r="1.15" fill="none" stroke="#2f5d9e" stroke-width="0.85"/>
<circle cx="377.5" cy="449.1" r="1.15" fill="none" stroke="#2f5d9e" stroke-width="0.85"/>
<circle cx="380.0" cy="449.7" r="1.15" fill="none" stroke="#2f5d9e" stroke-width="0.85"/>
<circle cx="383.0" cy="450.7" r="1.15" fill="none" stroke="#2f5d9e" stroke-width="0.85"/>
<circle cx="378.5" cy="452.3" r="1.15" fill="none" stroke="#2f5d9e" stroke-width="0.85"/>
<circle cx="377.5" cy="454.0" r="1.15" fill="none" stroke="#2f5d9e" stroke-width="0.85"/>
<circle cx="381.5" cy="455.8" r="1.15" fill="none" stroke="#2f5d9e" stroke-width="0.85"/>
<circle cx="380.0" cy="463.7" r="1.15" fill="none" stroke="#2f5d9e" stroke-width="0.85"/>
<circle cx="380.0" cy="471.5" r="1.15" fill="none" stroke="#2f5d9e" stroke-width="0.85"/>
<circle cx="380.0" cy="481.3" r="1.15" fill="none" stroke="#2f5d9e" stroke-width="0.85"/>
<text transform="translate(366.7,500.6) scale(0.8,1)" font-size="6.7" fill="#444" stroke="#444" stroke-width="0.12"><tspan font-style="italic">p</tspan> &lt; 0.0001</text>
<text transform="translate(412.4,413.63) scale(0.8,1)" font-size="15.4" fill="#1a1a1a" stroke="#1a1a1a" stroke-width="0.42" letter-spacing="0.5">P.</text>
<text transform="translate(479.9,407.8) scale(0.85,1)" font-size="7.4" text-anchor="middle" font-weight="bold" fill="#1a1a1a"><tspan font-style="italic">SLC25A13</tspan> (Citrin)</text>
<path d="M438.1 419.1L438.1 501.4" stroke="#666" stroke-width="1.0"/>
<path d="M437.6 501.4L519.6 501.4" stroke="#666" stroke-width="1.0"/>
<path d="M435 419.1L438.1 419.1" stroke="#666" stroke-width="0.8"/>
<text transform="translate(432.9,421.6) scale(0.72,1)" font-size="7.0" text-anchor="end" fill="#444" stroke="#444" stroke-width="0.22">4</text>
<path d="M435 439.68L438.1 439.68" stroke="#666" stroke-width="0.8"/>
<text transform="translate(432.9,442.18) scale(0.72,1)" font-size="7.0" text-anchor="end" fill="#444" stroke="#444" stroke-width="0.22">2</text>
<path d="M435 460.25L438.1 460.25" stroke="#666" stroke-width="0.8"/>
<text transform="translate(432.9,462.75) scale(0.72,1)" font-size="7.0" text-anchor="end" fill="#444" stroke="#444" stroke-width="0.22">0</text>
<path d="M435 480.82L438.1 480.82" stroke="#666" stroke-width="0.8"/>
<text transform="translate(432.9,483.32) scale(0.72,1)" font-size="7.0" text-anchor="end" fill="#444" stroke="#444" stroke-width="0.22">-2</text>
<path d="M435 501.4L438.1 501.4" stroke="#666" stroke-width="0.8"/>
<text transform="translate(432.9,503.9) scale(0.72,1)" font-size="7.0" text-anchor="end" fill="#444" stroke="#444" stroke-width="0.22">-4</text>
<path d="M448.5 501.4L448.5 504.2" stroke="#666" stroke-width="0.8"/>
<path d="M464.1 501.4L464.1 504.2" stroke="#666" stroke-width="0.8"/>
<path d="M479.5 501.4L479.5 504.2" stroke="#666" stroke-width="0.8"/>
<path d="M494.7 501.4L494.7 504.2" stroke="#666" stroke-width="0.8"/>
<path d="M510 501.4L510 504.2" stroke="#666" stroke-width="0.8"/>
<text transform="translate(424.8,460.25) rotate(-90) scale(0.84,1)" font-size="6.6" text-anchor="middle" fill="#3a3a3a" stroke="#3a3a3a" stroke-width="0.08">z-score</text>
<path d="M443.5 467.55L453.5 467.55" stroke="#9c9c9c" stroke-width="0.85"/>
<circle cx="448.5" cy="467.6" r="1.15" fill="none" stroke="#9b2d3a" stroke-width="0.85"/>
<rect x="459" y="459.84" width="10.2" height="9.98" fill="#f4f4f4" stroke="#9c9c9c" stroke-width="0.85"/>
<path d="M459 464.47L469.2 464.47" stroke="#9c9c9c" stroke-width="0.85"/>
<path d="M464.1 447.18L464.1 459.84" stroke="#9c9c9c" stroke-width="0.85"/>
<path d="M464.1 469.82L464.1 481.75" stroke="#9c9c9c" stroke-width="0.85"/>
<path d="M461.8 447.18L466.4 447.18" stroke="#9c9c9c" stroke-width="0.85"/>
<path d="M461.8 481.75L466.4 481.75" stroke="#9c9c9c" stroke-width="0.85"/>
<circle cx="464.1" cy="455.1" r="1.15" fill="none" stroke="#f5820f" stroke-width="0.85"/>
<circle cx="463.6" cy="457.6" r="1.15" fill="none" stroke="#f5820f" stroke-width="0.85"/>
<circle cx="464.6" cy="457.7" r="1.15" fill="none" stroke="#f5820f" stroke-width="0.85"/>
<circle cx="461.8" cy="459.7" r="1.15" fill="none" stroke="#f5820f" stroke-width="0.85"/>
<circle cx="463.9" cy="460.0" r="1.15" fill="none" stroke="#f5820f" stroke-width="0.85"/>
<circle cx="466.1" cy="459.9" r="1.15" fill="none" stroke="#f5820f" stroke-width="0.85"/>
<circle cx="462.5" cy="462.3" r="1.15" fill="none" stroke="#f5820f" stroke-width="0.85"/>
<circle cx="463.3" cy="462.4" r="1.15" fill="none" stroke="#f5820f" stroke-width="0.85"/>
<circle cx="465.7" cy="462.2" r="1.15" fill="none" stroke="#f5820f" stroke-width="0.85"/>
<circle cx="461.5" cy="464.9" r="1.15" fill="none" stroke="#f5820f" stroke-width="0.85"/>
<circle cx="464.2" cy="464.9" r="1.15" fill="none" stroke="#f5820f" stroke-width="0.85"/>
<circle cx="467.0" cy="464.9" r="1.15" fill="none" stroke="#f5820f" stroke-width="0.85"/>
<circle cx="462.3" cy="467.3" r="1.15" fill="none" stroke="#f5820f" stroke-width="0.85"/>
<circle cx="463.6" cy="467.2" r="1.15" fill="none" stroke="#f5820f" stroke-width="0.85"/>
<circle cx="465.8" cy="467.1" r="1.15" fill="none" stroke="#f5820f" stroke-width="0.85"/>
<circle cx="461.5" cy="469.4" r="1.15" fill="none" stroke="#f5820f" stroke-width="0.85"/>
<circle cx="464.2" cy="469.7" r="1.15" fill="none" stroke="#f5820f" stroke-width="0.85"/>
<circle cx="466.6" cy="469.8" r="1.15" fill="none" stroke="#f5820f" stroke-width="0.85"/>
<circle cx="462.4" cy="472.0" r="1.15" fill="none" stroke="#f5820f" stroke-width="0.85"/>
<circle cx="463.5" cy="472.0" r="1.15" fill="none" stroke="#f5820f" stroke-width="0.85"/>
<circle cx="465.4" cy="471.7" r="1.15" fill="none" stroke="#f5820f" stroke-width="0.85"/>
<circle cx="463.0" cy="474.2" r="1.15" fill="none" stroke="#f5820f" stroke-width="0.85"/>
<circle cx="465.1" cy="474.4" r="1.15" fill="none" stroke="#f5820f" stroke-width="0.85"/>
<circle cx="464.1" cy="476.7" r="1.15" fill="none" stroke="#f5820f" stroke-width="0.85"/>
<circle cx="464.1" cy="447.2" r="1.15" fill="none" stroke="#f5820f" stroke-width="0.85"/>
<circle cx="464.1" cy="481.8" r="1.15" fill="none" stroke="#f5820f" stroke-width="0.85"/>
<rect x="474.4" y="460.66" width="10.2" height="9.16" fill="#f4f4f4" stroke="#9c9c9c" stroke-width="0.85"/>
<path d="M474.4 464.88L484.6 464.88" stroke="#9c9c9c" stroke-width="0.85"/>
<path d="M479.5 445.64L479.5 460.66" stroke="#9c9c9c" stroke-width="0.85"/>
<path d="M479.5 469.82L479.5 490.8" stroke="#9c9c9c" stroke-width="0.85"/>
<path d="M477.2 445.64L481.8 445.64" stroke="#9c9c9c" stroke-width="0.85"/>
<path d="M477.2 490.8L481.8 490.8" stroke="#9c9c9c" stroke-width="0.85"/>
<path d="M479.5 445.6h0M479.5 447.1h0M479.5 448.5h0M479.5 450.1h0M479.5 451.7h0M478.8 453.1h0M480.1 453.4h0M478.6 454.8h0M480.4 454.7h0M477.5 456.4h0M478.6 456.3h0M480.2 456.4h0M481.5 456.3h0M475.9 457.7h0M477.4 457.5h0M478.8 457.7h0M480.3 457.6h0M481.6 457.6h0M483.3 457.5h0M476.3 459.1h0M478.0 459.3h0M479.3 459.2h0M480.9 459.2h0M482.2 459.0h0M475.4 460.5h0M477.1 460.6h0M478.7 460.5h0M480.5 460.6h0M481.8 460.4h0M483.8 460.7h0M476.1 462.2h0M477.2 462.1h0M479.0 462.2h0M480.1 462.3h0M481.8 462.3h0M483.0 462.1h0M476.1 463.6h0M477.8 463.6h0M479.4 463.5h0M481.3 463.5h0M482.5 463.8h0M475.7 465.1h0M477.1 465.2h0M478.7 465.1h0M480.4 465.0h0M481.9 465.0h0M483.2 465.1h0M476.0 466.5h0M477.8 466.6h0M479.7 466.9h0M481.2 466.5h0M483.0 466.5h0M476.3 468.4h0M477.6 468.0h0M479.7 468.1h0M481.1 468.0h0M482.7 468.2h0M475.8 469.6h0M477.4 469.8h0M478.9 469.7h0M480.3 469.7h0M482.0 469.8h0M483.1 469.9h0M476.6 471.3h0M477.9 471.3h0M479.4 471.5h0M480.8 471.0h0M482.6 471.0h0M476.8 472.8h0M478.2 473.0h0M479.6 472.7h0M481.1 472.9h0M482.6 472.6h0M477.3 474.1h0M478.6 474.2h0M480.3 474.4h0M481.7 474.0h0M477.6 475.7h0M479.0 475.6h0M480.2 475.9h0M481.7 476.0h0M477.7 477.1h0M479.5 477.5h0M481.2 477.1h0M478.3 478.6h0M479.7 478.5h0M480.5 478.6h0M479.0 480.2h0M480.2 480.3h0M479.2 481.6h0M479.9 481.8h0M479.5 483.0h0M479.5 484.6h0M479.5 486.1h0M479.5 487.8h0M479.5 489.2h0M479.5 490.8h0" stroke="#5cc3f5" stroke-width="3.1" stroke-linecap="round"/>
<rect x="489.6" y="451.3" width="10.2" height="9.98" fill="#f4f4f4" stroke="#9c9c9c" stroke-width="0.85"/>
<path d="M489.6 456.13L499.8 456.13" stroke="#9c9c9c" stroke-width="0.85"/>
<path d="M494.7 436.28L494.7 451.3" stroke="#9c9c9c" stroke-width="0.85"/>
<path d="M494.7 461.28L494.7 476.5" stroke="#9c9c9c" stroke-width="0.85"/>
<path d="M492.4 436.28L497 436.28" stroke="#9c9c9c" stroke-width="0.85"/>
<path d="M492.4 476.5L497 476.5" stroke="#9c9c9c" stroke-width="0.85"/>
<path d="M494.7 436.3h0M494.7 437.8h0M494.7 439.3h0M494.7 440.7h0M494.7 442.2h0M494.0 443.5h0M495.7 443.7h0M493.0 445.0h0M494.2 445.4h0M495.4 445.4h0M496.7 445.3h0M491.8 446.6h0M493.4 446.8h0M494.8 446.5h0M496.1 446.8h0M497.7 446.8h0M491.4 448.4h0M493.0 448.2h0M494.7 448.4h0M496.3 448.4h0M498.2 448.3h0M490.8 449.6h0M492.5 449.7h0M494.1 449.8h0M495.4 449.9h0M496.9 449.6h0M498.2 449.8h0M491.5 451.0h0M493.4 451.1h0M494.9 451.0h0M496.1 451.1h0M497.6 451.4h0M491.5 452.5h0M493.1 452.6h0M494.5 452.5h0M496.0 452.8h0M497.7 452.5h0M490.9 454.2h0M492.5 454.3h0M493.7 454.3h0M495.5 453.9h0M497.1 454.2h0M498.4 454.3h0M491.0 455.6h0M492.4 455.5h0M494.0 455.7h0M495.3 455.9h0M496.7 455.8h0M498.2 455.7h0M490.7 457.4h0M492.2 457.3h0M493.7 457.0h0M495.3 457.1h0M497.1 457.2h0M498.7 457.1h0M491.5 458.5h0M493.3 458.4h0M494.5 458.4h0M496.4 458.8h0M497.8 458.6h0M491.7 459.9h0M493.0 460.0h0M494.5 460.3h0M496.3 460.0h0M497.5 460.2h0M491.0 461.6h0M492.6 461.8h0M494.1 461.7h0M495.5 461.6h0M497.0 461.8h0M498.2 461.5h0M490.9 463.0h0M492.4 463.0h0M494.1 463.0h0M495.5 463.1h0M496.9 463.2h0M498.6 463.1h0M491.8 464.7h0M493.2 464.6h0M494.6 464.4h0M496.2 464.6h0M497.5 464.8h0M492.7 466.2h0M493.9 466.2h0M495.3 466.2h0M496.5 466.1h0M493.5 467.7h0M494.7 467.6h0M496.2 467.3h0M493.7 469.2h0M495.9 469.0h0M494.0 470.8h0M495.2 470.8h0M494.7 472.3h0M494.7 473.5h0M494.7 475.2h0M494.7 476.5h0" stroke="#1c7cf0" stroke-width="3.1" stroke-linecap="round"/>
<rect x="504.9" y="430.42" width="10.2" height="19.34" fill="#e4e4e4" stroke="#9c9c9c" stroke-width="0.85"/>
<path d="M504.9 441.32L515.1 441.32" stroke="#9c9c9c" stroke-width="0.85"/>
<path d="M510 421.88L510 430.42" stroke="#9c9c9c" stroke-width="0.85"/>
<path d="M510 449.76L510 464.78" stroke="#9c9c9c" stroke-width="0.85"/>
<path d="M507.7 421.88L512.3 421.88" stroke="#9c9c9c" stroke-width="0.85"/>
<path d="M507.7 464.78L512.3 464.78" stroke="#9c9c9c" stroke-width="0.85"/>
<circle cx="508.9" cy="424.8" r="1.15" fill="none" stroke="#2f5d9e" stroke-width="0.85"/>
<circle cx="510.9" cy="424.8" r="1.15" fill="none" stroke="#2f5d9e" stroke-width="0.85"/>
<circle cx="507.4" cy="427.3" r="1.15" fill="none" stroke="#2f5d9e" stroke-width="0.85"/>
<circle cx="509.4" cy="427.1" r="1.15" fill="none" stroke="#2f5d9e" stroke-width="0.85"/>
<circle cx="512.2" cy="427.5" r="1.15" fill="none" stroke="#2f5d9e" stroke-width="0.85"/>
<circle cx="507.1" cy="429.6" r="1.15" fill="none" stroke="#2f5d9e" stroke-width="0.85"/>
<circle cx="513.1" cy="430.0" r="1.15" fill="none" stroke="#2f5d9e" stroke-width="0.85"/>
<circle cx="507.9" cy="432.2" r="1.15" fill="none" stroke="#2f5d9e" stroke-width="0.85"/>
<circle cx="512.1" cy="432.1" r="1.15" fill="none" stroke="#2f5d9e" stroke-width="0.85"/>
<circle cx="507.2" cy="434.6" r="1.15" fill="none" stroke="#2f5d9e" stroke-width="0.85"/>
<circle cx="510.2" cy="434.9" r="1.15" fill="none" stroke="#2f5d9e" stroke-width="0.85"/>
<circle cx="512.4" cy="435.1" r="1.15" fill="none" stroke="#2f5d9e" stroke-width="0.85"/>
<circle cx="507.7" cy="437.2" r="1.15" fill="none" stroke="#2f5d9e" stroke-width="0.85"/>
<circle cx="512.3" cy="437.5" r="1.15" fill="none" stroke="#2f5d9e" stroke-width="0.85"/>
<circle cx="509.8" cy="439.9" r="1.15" fill="none" stroke="#2f5d9e" stroke-width="0.85"/>
<circle cx="512.7" cy="439.8" r="1.15" fill="none" stroke="#2f5d9e" stroke-width="0.85"/>
<circle cx="507.9" cy="442.2" r="1.15" fill="none" stroke="#2f5d9e" stroke-width="0.85"/>
<circle cx="511.9" cy="442.6" r="1.15" fill="none" stroke="#2f5d9e" stroke-width="0.85"/>
<circle cx="507.0" cy="444.8" r="1.15" fill="none" stroke="#2f5d9e" stroke-width="0.85"/>
<circle cx="510.1" cy="445.1" r="1.15" fill="none" stroke="#2f5d9e" stroke-width="0.85"/>
<circle cx="507.6" cy="447.4" r="1.15" fill="none" stroke="#2f5d9e" stroke-width="0.85"/>
<circle cx="509.2" cy="447.5" r="1.15" fill="none" stroke="#2f5d9e" stroke-width="0.85"/>
<circle cx="507.2" cy="450.0" r="1.15" fill="none" stroke="#2f5d9e" stroke-width="0.85"/>
<circle cx="510.2" cy="450.0" r="1.15" fill="none" stroke="#2f5d9e" stroke-width="0.85"/>
<circle cx="512.7" cy="450.0" r="1.15" fill="none" stroke="#2f5d9e" stroke-width="0.85"/>
<circle cx="510.0" cy="421.9" r="1.15" fill="none" stroke="#2f5d9e" stroke-width="0.85"/>
<circle cx="510.0" cy="453.0" r="1.15" fill="none" stroke="#2f5d9e" stroke-width="0.85"/>
<circle cx="510.0" cy="457.2" r="1.15" fill="none" stroke="#2f5d9e" stroke-width="0.85"/>
<circle cx="510.0" cy="461.3" r="1.15" fill="none" stroke="#2f5d9e" stroke-width="0.85"/>
<circle cx="510.0" cy="464.8" r="1.15" fill="none" stroke="#2f5d9e" stroke-width="0.85"/>
<text transform="translate(495.3,499.1) scale(0.8,1)" font-size="6.7" fill="#444" stroke="#444" stroke-width="0.12"><tspan font-style="italic">p</tspan> &lt; 0.0001</text>
<text transform="translate(58.2,511.7) rotate(-45) scale(0.68,1)" font-size="8.2" text-anchor="end" font-weight="bold" fill="#383838" stroke="#383838" stroke-width="0.1">Deep Deletion</text>
<text transform="translate(73.4,511.7) rotate(-45) scale(0.68,1)" font-size="8.2" text-anchor="end" font-weight="bold" fill="#383838" stroke="#383838" stroke-width="0.1">Shallow Deletion</text>
<text transform="translate(88.6,511.7) rotate(-45) scale(0.68,1)" font-size="8.2" text-anchor="end" font-weight="bold" fill="#383838" stroke="#383838" stroke-width="0.1">Diploid</text>
<text transform="translate(103.9,511.7) rotate(-45) scale(0.68,1)" font-size="8.2" text-anchor="end" font-weight="bold" fill="#383838" stroke="#383838" stroke-width="0.1">Gain</text>
<text transform="translate(119.1,511.7) rotate(-45) scale(0.68,1)" font-size="8.2" text-anchor="end" font-weight="bold" fill="#383838" stroke="#383838" stroke-width="0.1">Amplification</text>
<text transform="translate(188.7,511.7) rotate(-45) scale(0.68,1)" font-size="8.2" text-anchor="end" font-weight="bold" fill="#383838" stroke="#383838" stroke-width="0.1">Deep Deletion</text>
<text transform="translate(204.1,511.7) rotate(-45) scale(0.68,1)" font-size="8.2" text-anchor="end" font-weight="bold" fill="#383838" stroke="#383838" stroke-width="0.1">Shallow Deletion</text>
<text transform="translate(219.6,511.7) rotate(-45) scale(0.68,1)" font-size="8.2" text-anchor="end" font-weight="bold" fill="#383838" stroke="#383838" stroke-width="0.1">Diploid</text>
<text transform="translate(234.9,511.7) rotate(-45) scale(0.68,1)" font-size="8.2" text-anchor="end" font-weight="bold" fill="#383838" stroke="#383838" stroke-width="0.1">Gain</text>
<text transform="translate(250.1,511.7) rotate(-45) scale(0.68,1)" font-size="8.2" text-anchor="end" font-weight="bold" fill="#383838" stroke="#383838" stroke-width="0.1">Amplification</text>
<text transform="translate(320.5,513.1) rotate(-45) scale(0.68,1)" font-size="8.2" text-anchor="end" font-weight="bold" fill="#383838" stroke="#383838" stroke-width="0.1">Deep Deletion</text>
<text transform="translate(335.6,513.1) rotate(-45) scale(0.68,1)" font-size="8.2" text-anchor="end" font-weight="bold" fill="#383838" stroke="#383838" stroke-width="0.1">Shallow Deletion</text>
<text transform="translate(350.5,513.1) rotate(-45) scale(0.68,1)" font-size="8.2" text-anchor="end" font-weight="bold" fill="#383838" stroke="#383838" stroke-width="0.1">Diploid</text>
<text transform="translate(365.4,513.1) rotate(-45) scale(0.68,1)" font-size="8.2" text-anchor="end" font-weight="bold" fill="#383838" stroke="#383838" stroke-width="0.1">Gain</text>
<text transform="translate(380.1,513.1) rotate(-45) scale(0.68,1)" font-size="8.2" text-anchor="end" font-weight="bold" fill="#383838" stroke="#383838" stroke-width="0.1">Amplification</text>
<text transform="translate(450,511.7) rotate(-45) scale(0.68,1)" font-size="8.2" text-anchor="end" font-weight="bold" fill="#383838" stroke="#383838" stroke-width="0.1">Deep Deletion</text>
<text transform="translate(465.6,511.7) rotate(-45) scale(0.68,1)" font-size="8.2" text-anchor="end" font-weight="bold" fill="#383838" stroke="#383838" stroke-width="0.1">Shallow Deletion</text>
<text transform="translate(481,511.7) rotate(-45) scale(0.68,1)" font-size="8.2" text-anchor="end" font-weight="bold" fill="#383838" stroke="#383838" stroke-width="0.1">Diploid</text>
<text transform="translate(496.2,511.7) rotate(-45) scale(0.68,1)" font-size="8.2" text-anchor="end" font-weight="bold" fill="#383838" stroke="#383838" stroke-width="0.1">Gain</text>
<text transform="translate(511.5,511.7) rotate(-45) scale(0.68,1)" font-size="8.2" text-anchor="end" font-weight="bold" fill="#383838" stroke="#383838" stroke-width="0.1">Amplification</text>
</svg>
</body></html>
